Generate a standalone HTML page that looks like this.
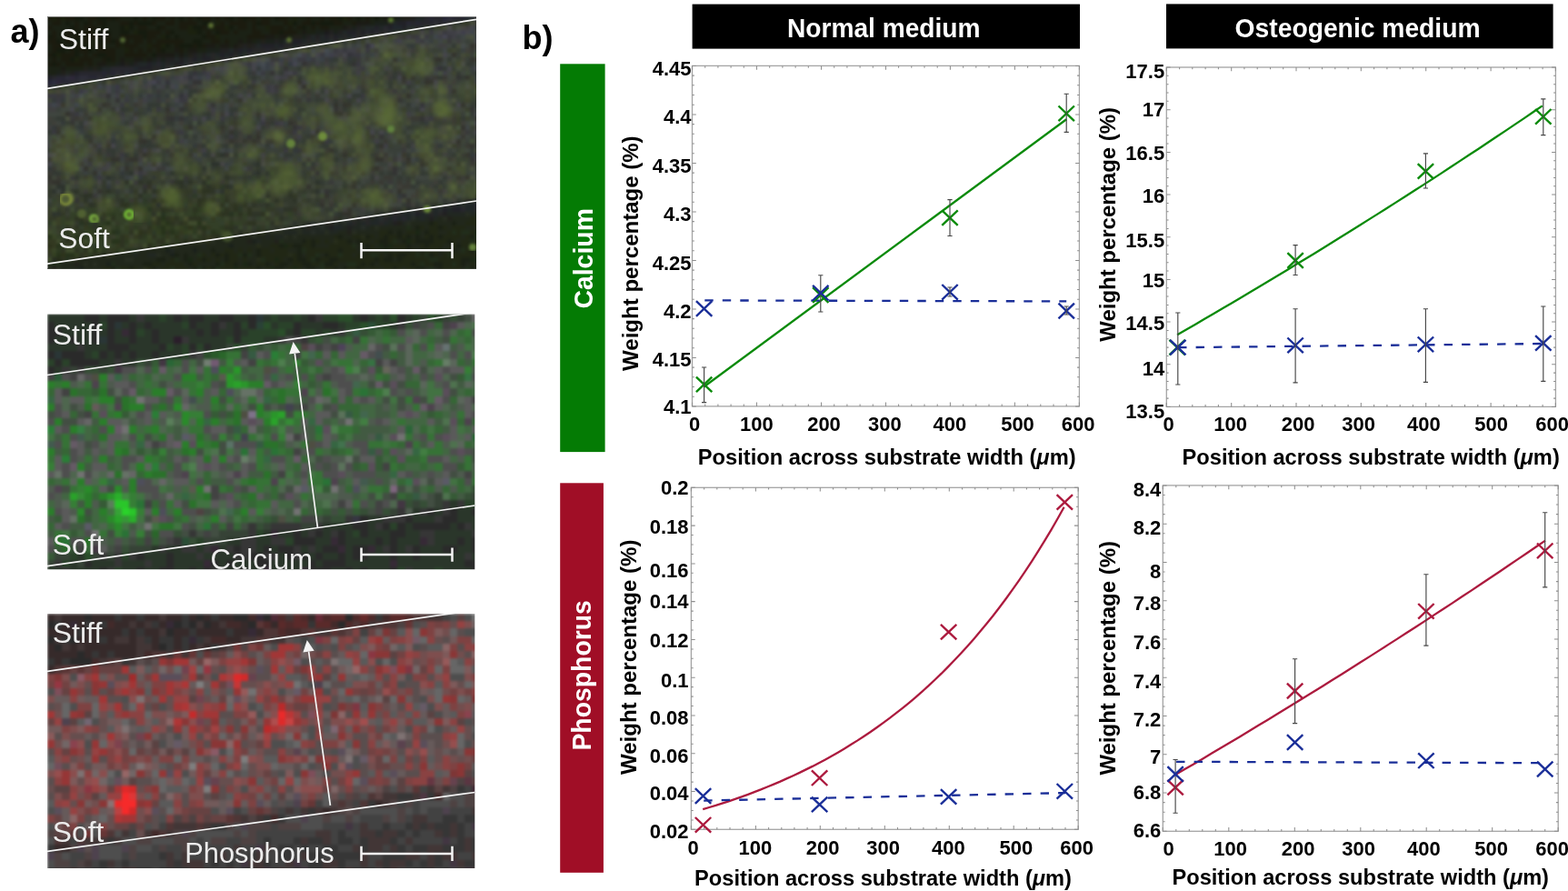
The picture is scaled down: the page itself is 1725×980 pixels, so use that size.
<!DOCTYPE html>
<html><head><meta charset="utf-8"><title>Calcium and phosphorus distribution</title>
<style>html,body{margin:0;padding:0;background:#fff}body{width:1725px;height:980px;overflow:hidden}svg{display:block}text{font-family:"Liberation Sans",Arial,Helvetica,sans-serif}</style>
</head><body>
<svg width="1725" height="980" viewBox="0 0 1725 980" fill="none">
<rect width="1725" height="980" fill="#fff"/>
<rect x="761.6" y="4.6" width="426.4" height="49" fill="#000"/>
<rect x="1283" y="4.4" width="425.6" height="49" fill="#000"/>
<text x="866.0" y="40.7" font-size="29" font-weight="bold" fill="#fff" textLength="212.5" lengthAdjust="spacingAndGlyphs">Normal medium</text>
<text x="1358.6" y="40.5" font-size="29" font-weight="bold" fill="#fff" textLength="270.0" lengthAdjust="spacingAndGlyphs">Osteogenic medium</text>
<rect x="616.2" y="70.3" width="49.4" height="426.8" fill="#047b04"/>
<rect x="616.2" y="531.3" width="47.7" height="428.5" fill="#a00e26"/>
<text transform="translate(652.1,339.6) rotate(-90)" font-size="30" font-weight="bold" fill="#fff" textLength="110.5" lengthAdjust="spacingAndGlyphs">Calcium</text>
<text transform="translate(649.6,825.6) rotate(-90)" font-size="29.5" font-weight="bold" fill="#fff" textLength="165.5" lengthAdjust="spacingAndGlyphs">Phosphorus</text>
<text x="11.5" y="47.4" font-size="36" font-weight="bold" fill="#000">a)</text>
<text x="574.5" y="54.2" font-size="36" font-weight="bold" fill="#000">b)</text>
<rect x="761.5" y="72.4" width="425.9" height="374.5" fill="none" stroke="#a4a4a4" stroke-width="1.3"/>
<path d="M761.5 446.9v-4.3M761.5 72.4v4.3M775.7 446.9v-2.3M775.7 72.4v2.3M789.9 446.9v-2.3M789.9 72.4v2.3M804.1 446.9v-2.3M804.1 72.4v2.3M818.3 446.9v-2.3M818.3 72.4v2.3M832.5 446.9v-4.3M832.5 72.4v4.3M846.7 446.9v-2.3M846.7 72.4v2.3M860.9 446.9v-2.3M860.9 72.4v2.3M875.1 446.9v-2.3M875.1 72.4v2.3M889.3 446.9v-2.3M889.3 72.4v2.3M903.5 446.9v-4.3M903.5 72.4v4.3M917.7 446.9v-2.3M917.7 72.4v2.3M931.9 446.9v-2.3M931.9 72.4v2.3M946.1 446.9v-2.3M946.1 72.4v2.3M960.3 446.9v-2.3M960.3 72.4v2.3M974.5 446.9v-4.3M974.5 72.4v4.3M988.6 446.9v-2.3M988.6 72.4v2.3M1002.8 446.9v-2.3M1002.8 72.4v2.3M1017.0 446.9v-2.3M1017.0 72.4v2.3M1031.2 446.9v-2.3M1031.2 72.4v2.3M1045.4 446.9v-4.3M1045.4 72.4v4.3M1059.6 446.9v-2.3M1059.6 72.4v2.3M1073.8 446.9v-2.3M1073.8 72.4v2.3M1088.0 446.9v-2.3M1088.0 72.4v2.3M1102.2 446.9v-2.3M1102.2 72.4v2.3M1116.4 446.9v-4.3M1116.4 72.4v4.3M1130.6 446.9v-2.3M1130.6 72.4v2.3M1144.8 446.9v-2.3M1144.8 72.4v2.3M1159.0 446.9v-2.3M1159.0 72.4v2.3M1173.2 446.9v-2.3M1173.2 72.4v2.3M1187.4 446.9v-4.3M1187.4 72.4v4.3M761.5 446.9h4.3M1187.4 446.9h-4.3M761.5 436.2h2.3M1187.4 436.2h-2.3M761.5 425.5h2.3M1187.4 425.5h-2.3M761.5 414.8h2.3M1187.4 414.8h-2.3M761.5 404.1h2.3M1187.4 404.1h-2.3M761.5 393.4h4.3M1187.4 393.4h-4.3M761.5 382.7h2.3M1187.4 382.7h-2.3M761.5 372.0h2.3M1187.4 372.0h-2.3M761.5 361.3h2.3M1187.4 361.3h-2.3M761.5 350.6h2.3M1187.4 350.6h-2.3M761.5 339.9h4.3M1187.4 339.9h-4.3M761.5 329.2h2.3M1187.4 329.2h-2.3M761.5 318.5h2.3M1187.4 318.5h-2.3M761.5 307.8h2.3M1187.4 307.8h-2.3M761.5 297.1h2.3M1187.4 297.1h-2.3M761.5 286.4h4.3M1187.4 286.4h-4.3M761.5 275.7h2.3M1187.4 275.7h-2.3M761.5 265.0h2.3M1187.4 265.0h-2.3M761.5 254.3h2.3M1187.4 254.3h-2.3M761.5 243.6h2.3M1187.4 243.6h-2.3M761.5 232.9h4.3M1187.4 232.9h-4.3M761.5 222.2h2.3M1187.4 222.2h-2.3M761.5 211.5h2.3M1187.4 211.5h-2.3M761.5 200.8h2.3M1187.4 200.8h-2.3M761.5 190.1h2.3M1187.4 190.1h-2.3M761.5 179.4h4.3M1187.4 179.4h-4.3M761.5 168.7h2.3M1187.4 168.7h-2.3M761.5 158.0h2.3M1187.4 158.0h-2.3M761.5 147.3h2.3M1187.4 147.3h-2.3M761.5 136.6h2.3M1187.4 136.6h-2.3M761.5 125.9h4.3M1187.4 125.9h-4.3M761.5 115.2h2.3M1187.4 115.2h-2.3M761.5 104.5h2.3M1187.4 104.5h-2.3M761.5 93.8h2.3M1187.4 93.8h-2.3M761.5 83.1h2.3M1187.4 83.1h-2.3M761.5 72.4h4.3M1187.4 72.4h-4.3" stroke="#8e8e8e" stroke-width="1.05" fill="none"/>
<text x="760.6" y="455.3" font-size="22" font-weight="bold" text-anchor="end" fill="#000">4.1</text>
<text x="760.6" y="402.5" font-size="22" font-weight="bold" text-anchor="end" fill="#000">4.15</text>
<text x="760.6" y="349.5" font-size="22" font-weight="bold" text-anchor="end" fill="#000">4.2</text>
<text x="760.6" y="296.7" font-size="22" font-weight="bold" text-anchor="end" fill="#000">4.25</text>
<text x="760.6" y="243.4" font-size="22" font-weight="bold" text-anchor="end" fill="#000">4.3</text>
<text x="760.6" y="189.8" font-size="22" font-weight="bold" text-anchor="end" fill="#000">4.35</text>
<text x="760.6" y="136.1" font-size="22" font-weight="bold" text-anchor="end" fill="#000">4.4</text>
<text x="760.6" y="82.9" font-size="22" font-weight="bold" text-anchor="end" fill="#000">4.45</text>
<text x="764.1" y="473.6" font-size="22" font-weight="bold" text-anchor="middle" fill="#000">0</text>
<text x="832.4" y="473.6" font-size="22" font-weight="bold" text-anchor="middle" fill="#000">100</text>
<text x="906.5" y="473.6" font-size="22" font-weight="bold" text-anchor="middle" fill="#000">200</text>
<text x="973.4" y="473.6" font-size="22" font-weight="bold" text-anchor="middle" fill="#000">300</text>
<text x="1044.8" y="473.6" font-size="22" font-weight="bold" text-anchor="middle" fill="#000">400</text>
<text x="1119.5" y="473.6" font-size="22" font-weight="bold" text-anchor="middle" fill="#000">500</text>
<text x="1186.1" y="473.6" font-size="22" font-weight="bold" text-anchor="middle" fill="#000">600</text>
<text x="767.8" y="510.6" font-size="24.5" font-weight="bold" fill="#000" textLength="415.8" lengthAdjust="spacingAndGlyphs">Position across substrate width (<tspan font-style="italic">μ</tspan>m)</text>
<text transform="translate(702.0,407.9) rotate(-90)" font-size="24.5" font-weight="bold" fill="#000" textLength="258.5" lengthAdjust="spacingAndGlyphs">Weight percentage (%)</text>
<rect x="1283.3" y="74.0" width="428.1" height="373.4" fill="none" stroke="#a4a4a4" stroke-width="1.3"/>
<path d="M1283.3 447.4v-4.3M1283.3 74.0v4.3M1297.6 447.4v-2.3M1297.6 74.0v2.3M1311.8 447.4v-2.3M1311.8 74.0v2.3M1326.1 447.4v-2.3M1326.1 74.0v2.3M1340.4 447.4v-2.3M1340.4 74.0v2.3M1354.7 447.4v-4.3M1354.7 74.0v4.3M1368.9 447.4v-2.3M1368.9 74.0v2.3M1383.2 447.4v-2.3M1383.2 74.0v2.3M1397.5 447.4v-2.3M1397.5 74.0v2.3M1411.7 447.4v-2.3M1411.7 74.0v2.3M1426.0 447.4v-4.3M1426.0 74.0v4.3M1440.3 447.4v-2.3M1440.3 74.0v2.3M1454.5 447.4v-2.3M1454.5 74.0v2.3M1468.8 447.4v-2.3M1468.8 74.0v2.3M1483.1 447.4v-2.3M1483.1 74.0v2.3M1497.3 447.4v-4.3M1497.3 74.0v4.3M1511.6 447.4v-2.3M1511.6 74.0v2.3M1525.9 447.4v-2.3M1525.9 74.0v2.3M1540.2 447.4v-2.3M1540.2 74.0v2.3M1554.4 447.4v-2.3M1554.4 74.0v2.3M1568.7 447.4v-4.3M1568.7 74.0v4.3M1583.0 447.4v-2.3M1583.0 74.0v2.3M1597.2 447.4v-2.3M1597.2 74.0v2.3M1611.5 447.4v-2.3M1611.5 74.0v2.3M1625.8 447.4v-2.3M1625.8 74.0v2.3M1640.1 447.4v-4.3M1640.1 74.0v4.3M1654.3 447.4v-2.3M1654.3 74.0v2.3M1668.6 447.4v-2.3M1668.6 74.0v2.3M1682.9 447.4v-2.3M1682.9 74.0v2.3M1697.1 447.4v-2.3M1697.1 74.0v2.3M1711.4 447.4v-4.3M1711.4 74.0v4.3M1283.3 447.4h4.3M1711.4 447.4h-4.3M1283.3 438.1h2.3M1711.4 438.1h-2.3M1283.3 428.7h2.3M1711.4 428.7h-2.3M1283.3 419.4h2.3M1711.4 419.4h-2.3M1283.3 410.1h2.3M1711.4 410.1h-2.3M1283.3 400.7h4.3M1711.4 400.7h-4.3M1283.3 391.4h2.3M1711.4 391.4h-2.3M1283.3 382.1h2.3M1711.4 382.1h-2.3M1283.3 372.7h2.3M1711.4 372.7h-2.3M1283.3 363.4h2.3M1711.4 363.4h-2.3M1283.3 354.0h4.3M1711.4 354.0h-4.3M1283.3 344.7h2.3M1711.4 344.7h-2.3M1283.3 335.4h2.3M1711.4 335.4h-2.3M1283.3 326.0h2.3M1711.4 326.0h-2.3M1283.3 316.7h2.3M1711.4 316.7h-2.3M1283.3 307.4h4.3M1711.4 307.4h-4.3M1283.3 298.0h2.3M1711.4 298.0h-2.3M1283.3 288.7h2.3M1711.4 288.7h-2.3M1283.3 279.4h2.3M1711.4 279.4h-2.3M1283.3 270.0h2.3M1711.4 270.0h-2.3M1283.3 260.7h4.3M1711.4 260.7h-4.3M1283.3 251.4h2.3M1711.4 251.4h-2.3M1283.3 242.0h2.3M1711.4 242.0h-2.3M1283.3 232.7h2.3M1711.4 232.7h-2.3M1283.3 223.4h2.3M1711.4 223.4h-2.3M1283.3 214.0h4.3M1711.4 214.0h-4.3M1283.3 204.7h2.3M1711.4 204.7h-2.3M1283.3 195.4h2.3M1711.4 195.4h-2.3M1283.3 186.0h2.3M1711.4 186.0h-2.3M1283.3 176.7h2.3M1711.4 176.7h-2.3M1283.3 167.4h4.3M1711.4 167.4h-4.3M1283.3 158.0h2.3M1711.4 158.0h-2.3M1283.3 148.7h2.3M1711.4 148.7h-2.3M1283.3 139.3h2.3M1711.4 139.3h-2.3M1283.3 130.0h2.3M1711.4 130.0h-2.3M1283.3 120.7h4.3M1711.4 120.7h-4.3M1283.3 111.3h2.3M1711.4 111.3h-2.3M1283.3 102.0h2.3M1711.4 102.0h-2.3M1283.3 92.7h2.3M1711.4 92.7h-2.3M1283.3 83.3h2.3M1711.4 83.3h-2.3M1283.3 74.0h4.3M1711.4 74.0h-4.3" stroke="#8e8e8e" stroke-width="1.05" fill="none"/>
<text x="1281.2" y="460.3" font-size="22" font-weight="bold" text-anchor="end" fill="#000">13.5</text>
<text x="1281.2" y="412.5" font-size="22" font-weight="bold" text-anchor="end" fill="#000">14</text>
<text x="1281.2" y="363.2" font-size="22" font-weight="bold" text-anchor="end" fill="#000">14.5</text>
<text x="1281.2" y="316.1" font-size="22" font-weight="bold" text-anchor="end" fill="#000">15</text>
<text x="1281.2" y="271.7" font-size="22" font-weight="bold" text-anchor="end" fill="#000">15.5</text>
<text x="1281.2" y="223.4" font-size="22" font-weight="bold" text-anchor="end" fill="#000">16</text>
<text x="1281.2" y="176.0" font-size="22" font-weight="bold" text-anchor="end" fill="#000">16.5</text>
<text x="1281.2" y="127.7" font-size="22" font-weight="bold" text-anchor="end" fill="#000">17</text>
<text x="1281.2" y="85.6" font-size="22" font-weight="bold" text-anchor="end" fill="#000">17.5</text>
<text x="1285.5" y="473.6" font-size="22" font-weight="bold" text-anchor="middle" fill="#000">0</text>
<text x="1353.7" y="473.6" font-size="22" font-weight="bold" text-anchor="middle" fill="#000">100</text>
<text x="1428.1" y="473.6" font-size="22" font-weight="bold" text-anchor="middle" fill="#000">200</text>
<text x="1494.6" y="473.6" font-size="22" font-weight="bold" text-anchor="middle" fill="#000">300</text>
<text x="1566.3" y="473.6" font-size="22" font-weight="bold" text-anchor="middle" fill="#000">400</text>
<text x="1640.7" y="473.6" font-size="22" font-weight="bold" text-anchor="middle" fill="#000">500</text>
<text x="1707.7" y="473.6" font-size="22" font-weight="bold" text-anchor="middle" fill="#000">600</text>
<text x="1300.5" y="510.6" font-size="24.5" font-weight="bold" fill="#000" textLength="415.3" lengthAdjust="spacingAndGlyphs">Position across substrate width (<tspan font-style="italic">μ</tspan>m)</text>
<text transform="translate(1226.8,375.7) rotate(-90)" font-size="24.5" font-weight="bold" fill="#000" textLength="257.7" lengthAdjust="spacingAndGlyphs">Weight percentage (%)</text>
<rect x="760.4" y="536.3" width="425.8" height="376.0" fill="none" stroke="#a4a4a4" stroke-width="1.3"/>
<path d="M760.4 912.3v-4.3M760.4 536.3v4.3M774.6 912.3v-2.3M774.6 536.3v2.3M788.8 912.3v-2.3M788.8 536.3v2.3M803.0 912.3v-2.3M803.0 536.3v2.3M817.2 912.3v-2.3M817.2 536.3v2.3M831.4 912.3v-4.3M831.4 536.3v4.3M845.6 912.3v-2.3M845.6 536.3v2.3M859.8 912.3v-2.3M859.8 536.3v2.3M873.9 912.3v-2.3M873.9 536.3v2.3M888.1 912.3v-2.3M888.1 536.3v2.3M902.3 912.3v-4.3M902.3 536.3v4.3M916.5 912.3v-2.3M916.5 536.3v2.3M930.7 912.3v-2.3M930.7 536.3v2.3M944.9 912.3v-2.3M944.9 536.3v2.3M959.1 912.3v-2.3M959.1 536.3v2.3M973.3 912.3v-4.3M973.3 536.3v4.3M987.5 912.3v-2.3M987.5 536.3v2.3M1001.7 912.3v-2.3M1001.7 536.3v2.3M1015.9 912.3v-2.3M1015.9 536.3v2.3M1030.1 912.3v-2.3M1030.1 536.3v2.3M1044.3 912.3v-4.3M1044.3 536.3v4.3M1058.5 912.3v-2.3M1058.5 536.3v2.3M1072.7 912.3v-2.3M1072.7 536.3v2.3M1086.8 912.3v-2.3M1086.8 536.3v2.3M1101.0 912.3v-2.3M1101.0 536.3v2.3M1115.2 912.3v-4.3M1115.2 536.3v4.3M1129.4 912.3v-2.3M1129.4 536.3v2.3M1143.6 912.3v-2.3M1143.6 536.3v2.3M1157.8 912.3v-2.3M1157.8 536.3v2.3M1172.0 912.3v-2.3M1172.0 536.3v2.3M1186.2 912.3v-4.3M1186.2 536.3v4.3M760.4 912.3h4.3M1186.2 912.3h-4.3M760.4 901.9h2.3M1186.2 901.9h-2.3M760.4 891.4h2.3M1186.2 891.4h-2.3M760.4 881.0h2.3M1186.2 881.0h-2.3M760.4 870.5h4.3M1186.2 870.5h-4.3M760.4 860.1h2.3M1186.2 860.1h-2.3M760.4 849.6h2.3M1186.2 849.6h-2.3M760.4 839.2h2.3M1186.2 839.2h-2.3M760.4 828.7h4.3M1186.2 828.7h-4.3M760.4 818.3h2.3M1186.2 818.3h-2.3M760.4 807.9h2.3M1186.2 807.9h-2.3M760.4 797.4h2.3M1186.2 797.4h-2.3M760.4 787.0h4.3M1186.2 787.0h-4.3M760.4 776.5h2.3M1186.2 776.5h-2.3M760.4 766.1h2.3M1186.2 766.1h-2.3M760.4 755.6h2.3M1186.2 755.6h-2.3M760.4 745.2h4.3M1186.2 745.2h-4.3M760.4 734.7h2.3M1186.2 734.7h-2.3M760.4 724.3h2.3M1186.2 724.3h-2.3M760.4 713.9h2.3M1186.2 713.9h-2.3M760.4 703.4h4.3M1186.2 703.4h-4.3M760.4 693.0h2.3M1186.2 693.0h-2.3M760.4 682.5h2.3M1186.2 682.5h-2.3M760.4 672.1h2.3M1186.2 672.1h-2.3M760.4 661.6h4.3M1186.2 661.6h-4.3M760.4 651.2h2.3M1186.2 651.2h-2.3M760.4 640.7h2.3M1186.2 640.7h-2.3M760.4 630.3h2.3M1186.2 630.3h-2.3M760.4 619.9h4.3M1186.2 619.9h-4.3M760.4 609.4h2.3M1186.2 609.4h-2.3M760.4 599.0h2.3M1186.2 599.0h-2.3M760.4 588.5h2.3M1186.2 588.5h-2.3M760.4 578.1h4.3M1186.2 578.1h-4.3M760.4 567.6h2.3M1186.2 567.6h-2.3M760.4 557.2h2.3M1186.2 557.2h-2.3M760.4 546.7h2.3M1186.2 546.7h-2.3M760.4 536.3h4.3M1186.2 536.3h-4.3" stroke="#8e8e8e" stroke-width="1.05" fill="none"/>
<text x="757.6" y="921.5" font-size="22" font-weight="bold" text-anchor="end" fill="#000">0.02</text>
<text x="757.6" y="879.9" font-size="22" font-weight="bold" text-anchor="end" fill="#000">0.04</text>
<text x="757.6" y="839.1" font-size="22" font-weight="bold" text-anchor="end" fill="#000">0.06</text>
<text x="757.6" y="797.3" font-size="22" font-weight="bold" text-anchor="end" fill="#000">0.08</text>
<text x="757.6" y="755.9" font-size="22" font-weight="bold" text-anchor="end" fill="#000">0.1</text>
<text x="757.6" y="712.1" font-size="22" font-weight="bold" text-anchor="end" fill="#000">0.12</text>
<text x="757.6" y="669.2" font-size="22" font-weight="bold" text-anchor="end" fill="#000">0.14</text>
<text x="757.6" y="634.5" font-size="22" font-weight="bold" text-anchor="end" fill="#000">0.16</text>
<text x="757.6" y="587.1" font-size="22" font-weight="bold" text-anchor="end" fill="#000">0.18</text>
<text x="757.6" y="544.3" font-size="22" font-weight="bold" text-anchor="end" fill="#000">0.2</text>
<text x="762.7" y="940.2" font-size="22" font-weight="bold" text-anchor="middle" fill="#000">0</text>
<text x="830.9" y="940.2" font-size="22" font-weight="bold" text-anchor="middle" fill="#000">100</text>
<text x="905.2" y="940.2" font-size="22" font-weight="bold" text-anchor="middle" fill="#000">200</text>
<text x="971.6" y="940.2" font-size="22" font-weight="bold" text-anchor="middle" fill="#000">300</text>
<text x="1043.3" y="940.2" font-size="22" font-weight="bold" text-anchor="middle" fill="#000">400</text>
<text x="1117.8" y="940.2" font-size="22" font-weight="bold" text-anchor="middle" fill="#000">500</text>
<text x="1184.6" y="940.2" font-size="22" font-weight="bold" text-anchor="middle" fill="#000">600</text>
<text x="764.1" y="974.4" font-size="24.5" font-weight="bold" fill="#000" textLength="414.9" lengthAdjust="spacingAndGlyphs">Position across substrate width (<tspan font-style="italic">μ</tspan>m)</text>
<text transform="translate(700.1,852.0) rotate(-90)" font-size="24.5" font-weight="bold" fill="#000" textLength="258.4" lengthAdjust="spacingAndGlyphs">Weight percentage (%)</text>
<rect x="1279.3" y="533.9" width="434.9" height="380.4" fill="none" stroke="#a4a4a4" stroke-width="1.3"/>
<path d="M1279.3 914.3v-4.3M1279.3 533.9v4.3M1293.8 914.3v-2.3M1293.8 533.9v2.3M1308.3 914.3v-2.3M1308.3 533.9v2.3M1322.8 914.3v-2.3M1322.8 533.9v2.3M1337.3 914.3v-2.3M1337.3 533.9v2.3M1351.8 914.3v-4.3M1351.8 533.9v4.3M1366.3 914.3v-2.3M1366.3 533.9v2.3M1380.8 914.3v-2.3M1380.8 533.9v2.3M1395.3 914.3v-2.3M1395.3 533.9v2.3M1409.8 914.3v-2.3M1409.8 533.9v2.3M1424.3 914.3v-4.3M1424.3 533.9v4.3M1438.8 914.3v-2.3M1438.8 533.9v2.3M1453.3 914.3v-2.3M1453.3 533.9v2.3M1467.8 914.3v-2.3M1467.8 533.9v2.3M1482.3 914.3v-2.3M1482.3 533.9v2.3M1496.8 914.3v-4.3M1496.8 533.9v4.3M1511.2 914.3v-2.3M1511.2 533.9v2.3M1525.7 914.3v-2.3M1525.7 533.9v2.3M1540.2 914.3v-2.3M1540.2 533.9v2.3M1554.7 914.3v-2.3M1554.7 533.9v2.3M1569.2 914.3v-4.3M1569.2 533.9v4.3M1583.7 914.3v-2.3M1583.7 533.9v2.3M1598.2 914.3v-2.3M1598.2 533.9v2.3M1612.7 914.3v-2.3M1612.7 533.9v2.3M1627.2 914.3v-2.3M1627.2 533.9v2.3M1641.7 914.3v-4.3M1641.7 533.9v4.3M1656.2 914.3v-2.3M1656.2 533.9v2.3M1670.7 914.3v-2.3M1670.7 533.9v2.3M1685.2 914.3v-2.3M1685.2 533.9v2.3M1699.7 914.3v-2.3M1699.7 533.9v2.3M1714.2 914.3v-4.3M1714.2 533.9v4.3M1279.3 914.3h4.3M1714.2 914.3h-4.3M1279.3 903.7h2.3M1714.2 903.7h-2.3M1279.3 893.2h2.3M1714.2 893.2h-2.3M1279.3 882.6h2.3M1714.2 882.6h-2.3M1279.3 872.0h4.3M1714.2 872.0h-4.3M1279.3 861.5h2.3M1714.2 861.5h-2.3M1279.3 850.9h2.3M1714.2 850.9h-2.3M1279.3 840.3h2.3M1714.2 840.3h-2.3M1279.3 829.8h4.3M1714.2 829.8h-4.3M1279.3 819.2h2.3M1714.2 819.2h-2.3M1279.3 808.6h2.3M1714.2 808.6h-2.3M1279.3 798.1h2.3M1714.2 798.1h-2.3M1279.3 787.5h4.3M1714.2 787.5h-4.3M1279.3 776.9h2.3M1714.2 776.9h-2.3M1279.3 766.4h2.3M1714.2 766.4h-2.3M1279.3 755.8h2.3M1714.2 755.8h-2.3M1279.3 745.2h4.3M1714.2 745.2h-4.3M1279.3 734.7h2.3M1714.2 734.7h-2.3M1279.3 724.1h2.3M1714.2 724.1h-2.3M1279.3 713.5h2.3M1714.2 713.5h-2.3M1279.3 703.0h4.3M1714.2 703.0h-4.3M1279.3 692.4h2.3M1714.2 692.4h-2.3M1279.3 681.8h2.3M1714.2 681.8h-2.3M1279.3 671.3h2.3M1714.2 671.3h-2.3M1279.3 660.7h4.3M1714.2 660.7h-4.3M1279.3 650.1h2.3M1714.2 650.1h-2.3M1279.3 639.6h2.3M1714.2 639.6h-2.3M1279.3 629.0h2.3M1714.2 629.0h-2.3M1279.3 618.4h4.3M1714.2 618.4h-4.3M1279.3 607.9h2.3M1714.2 607.9h-2.3M1279.3 597.3h2.3M1714.2 597.3h-2.3M1279.3 586.7h2.3M1714.2 586.7h-2.3M1279.3 576.2h4.3M1714.2 576.2h-4.3M1279.3 565.6h2.3M1714.2 565.6h-2.3M1279.3 555.0h2.3M1714.2 555.0h-2.3M1279.3 544.5h2.3M1714.2 544.5h-2.3M1279.3 533.9h4.3M1714.2 533.9h-4.3" stroke="#8e8e8e" stroke-width="1.05" fill="none"/>
<text x="1277.3" y="920.9" font-size="22" font-weight="bold" text-anchor="end" fill="#000">6.6</text>
<text x="1277.3" y="879.0" font-size="22" font-weight="bold" text-anchor="end" fill="#000">6.8</text>
<text x="1277.3" y="839.9" font-size="22" font-weight="bold" text-anchor="end" fill="#000">7</text>
<text x="1277.3" y="799.3" font-size="22" font-weight="bold" text-anchor="end" fill="#000">7.2</text>
<text x="1277.3" y="757.3" font-size="22" font-weight="bold" text-anchor="end" fill="#000">7.4</text>
<text x="1277.3" y="713.6" font-size="22" font-weight="bold" text-anchor="end" fill="#000">7.6</text>
<text x="1277.3" y="670.8" font-size="22" font-weight="bold" text-anchor="end" fill="#000">7.8</text>
<text x="1277.3" y="635.7" font-size="22" font-weight="bold" text-anchor="end" fill="#000">8</text>
<text x="1277.3" y="587.9" font-size="22" font-weight="bold" text-anchor="end" fill="#000">8.2</text>
<text x="1277.3" y="545.8" font-size="22" font-weight="bold" text-anchor="end" fill="#000">8.4</text>
<text x="1285.5" y="940.9" font-size="22" font-weight="bold" text-anchor="middle" fill="#000">0</text>
<text x="1353.7" y="940.9" font-size="22" font-weight="bold" text-anchor="middle" fill="#000">100</text>
<text x="1428.1" y="940.9" font-size="22" font-weight="bold" text-anchor="middle" fill="#000">200</text>
<text x="1494.6" y="940.9" font-size="22" font-weight="bold" text-anchor="middle" fill="#000">300</text>
<text x="1566.3" y="940.9" font-size="22" font-weight="bold" text-anchor="middle" fill="#000">400</text>
<text x="1640.7" y="940.9" font-size="22" font-weight="bold" text-anchor="middle" fill="#000">500</text>
<text x="1707.7" y="940.9" font-size="22" font-weight="bold" text-anchor="middle" fill="#000">600</text>
<text x="1289.5" y="972.7" font-size="24.5" font-weight="bold" fill="#000" textLength="414.5" lengthAdjust="spacingAndGlyphs">Position across substrate width (<tspan font-style="italic">μ</tspan>m)</text>
<text transform="translate(1227.4,852.6) rotate(-90)" font-size="24.5" font-weight="bold" fill="#000" textLength="257.5" lengthAdjust="spacingAndGlyphs">Weight percentage (%)</text>
<path d="M774.3 425.5L1173.2 131.3" stroke="#0b8a0b" stroke-width="2.3"/>
<path d="M774.3 330.4L1173.2 331.4" stroke="#1a2e98" stroke-width="2.3" stroke-dasharray="9.4 10.1" stroke-dashoffset="-1"/>
<path d="M765.9 414.6L783.3 431.2M765.9 431.2L783.3 414.6" stroke="#0b8a0b" stroke-width="2.4"/>
<path d="M894.1 316.2L911.5 332.8M894.1 332.8L911.5 316.2" stroke="#0b8a0b" stroke-width="2.4"/>
<path d="M1036.3 231.3L1053.7 247.9M1036.3 247.9L1053.7 231.3" stroke="#0b8a0b" stroke-width="2.4"/>
<path d="M1164.5 116.5L1181.9 133.1M1164.5 133.1L1181.9 116.5" stroke="#0b8a0b" stroke-width="2.4"/>
<path d="M774.6 404.0V442.6M772.0 404.0h5.2M772.0 442.6h5.2" stroke="#474747" stroke-width="1.15"/>
<path d="M902.8 302.7V343.0M900.2 302.7h5.2M900.2 343.0h5.2" stroke="#474747" stroke-width="1.15"/>
<path d="M1045.0 219.6V259.5M1042.4 219.6h5.2M1042.4 259.5h5.2" stroke="#474747" stroke-width="1.15"/>
<path d="M1173.2 103.2V145.4M1170.6 103.2h5.2M1170.6 145.4h5.2" stroke="#474747" stroke-width="1.15"/>
<path d="M765.9 331.2L783.3 347.8M765.9 347.8L783.3 331.2" stroke="#1a2e98" stroke-width="2.4"/>
<path d="M894.1 313.9L911.5 330.5M894.1 330.5L911.5 313.9" stroke="#1a2e98" stroke-width="2.4"/>
<path d="M1036.3 313.0L1053.7 329.6M1036.3 329.6L1053.7 313.0" stroke="#1a2e98" stroke-width="2.4"/>
<path d="M1164.5 333.7L1181.9 350.3M1164.5 350.3L1181.9 333.7" stroke="#1a2e98" stroke-width="2.4"/>
<path d="M1045.0 316.0V326.0M1042.4 316.0h5.2M1042.4 326.0h5.2" stroke="#474747" stroke-width="1.15"/>
<path d="M1173.2 337.0V346.0M1170.6 337.0h5.2M1170.6 346.0h5.2" stroke="#474747" stroke-width="1.15"/>
<polyline points="1295.1,368.2 1305.1,362.5 1315.2,356.7 1325.2,350.8 1335.2,345.0 1345.3,339.1 1355.3,333.2 1365.4,327.2 1375.4,321.3 1385.5,315.3 1395.5,309.3 1405.5,303.3 1415.6,297.2 1425.6,291.1 1435.7,285.0 1445.7,278.9 1455.8,272.7 1465.8,266.5 1475.8,260.3 1485.9,254.0 1495.9,247.8 1506.0,241.4 1516.0,235.1 1526.1,228.8 1536.1,222.4 1546.1,216.0 1556.2,209.5 1566.2,203.1 1576.3,196.6 1586.3,190.1 1596.3,183.5 1606.4,176.9 1616.4,170.3 1626.5,163.7 1636.5,157.0 1646.6,150.3 1656.6,143.6 1666.6,136.9 1676.7,130.1 1686.7,123.3 1696.8,116.4" stroke="#0b8a0b" stroke-width="2.3"/>
<path d="M1295.1 382.2L1697.8 378" stroke="#1a2e98" stroke-width="2.3" stroke-dasharray="9.4 10.1" stroke-dashoffset="-1"/>
<path d="M1286.4 373.8L1303.8 390.4M1286.4 390.4L1303.8 373.8" stroke="#0b8a0b" stroke-width="2.4"/>
<path d="M1416.4 278.2L1433.8 294.8M1416.4 294.8L1433.8 278.2" stroke="#0b8a0b" stroke-width="2.4"/>
<path d="M1559.7 180.1L1577.1 196.7M1559.7 196.7L1577.1 180.1" stroke="#0b8a0b" stroke-width="2.4"/>
<path d="M1689.1 120.0L1706.5 136.6M1689.1 136.6L1706.5 120.0" stroke="#0b8a0b" stroke-width="2.4"/>
<path d="M1425.1 269.6V302.5M1422.5 269.6h5.2M1422.5 302.5h5.2" stroke="#474747" stroke-width="1.15"/>
<path d="M1568.4 168.8V207.0M1565.8 168.8h5.2M1565.8 207.0h5.2" stroke="#474747" stroke-width="1.15"/>
<path d="M1697.8 108.8V148.6M1695.2 108.8h5.2M1695.2 148.6h5.2" stroke="#474747" stroke-width="1.15"/>
<path d="M1287.1 373.8L1304.5 390.4M1287.1 390.4L1304.5 373.8" stroke="#1a2e98" stroke-width="2.4"/>
<path d="M1416.4 371.5L1433.8 388.1M1416.4 388.1L1433.8 371.5" stroke="#1a2e98" stroke-width="2.4"/>
<path d="M1559.7 370.5L1577.1 387.1M1559.7 387.1L1577.1 370.5" stroke="#1a2e98" stroke-width="2.4"/>
<path d="M1689.1 369.1L1706.5 385.7M1689.1 385.7L1706.5 369.1" stroke="#1a2e98" stroke-width="2.4"/>
<path d="M1295.8 344.0V423.0M1293.2 344.0h5.2M1293.2 423.0h5.2" stroke="#474747" stroke-width="1.15"/>
<path d="M1425.1 339.7V420.9M1422.5 339.7h5.2M1422.5 420.9h5.2" stroke="#474747" stroke-width="1.15"/>
<path d="M1568.4 339.7V420.4M1565.8 339.7h5.2M1565.8 420.4h5.2" stroke="#474747" stroke-width="1.15"/>
<path d="M1697.8 337.0V419.3M1695.2 337.0h5.2M1695.2 419.3h5.2" stroke="#474747" stroke-width="1.15"/>
<polyline points="773.2,890.2 780.3,888.0 787.4,885.9 794.5,883.6 801.6,881.3 808.7,878.8 815.8,876.4 822.9,873.8 829.9,871.1 837.0,868.4 844.1,865.5 851.2,862.6 858.3,859.6 865.4,856.4 872.5,853.2 879.6,849.9 886.7,846.4 893.8,842.9 900.9,839.2 908.0,835.4 915.1,831.4 922.2,827.4 929.3,823.2 936.4,818.8 943.5,814.4 950.6,809.7 957.7,805.0 964.8,800.0 971.9,794.9 979.0,789.7 986.1,784.2 993.2,778.6 1000.3,772.8 1007.4,766.8 1014.5,760.6 1021.6,754.2 1028.7,747.5 1035.8,740.7 1042.8,733.6 1049.9,726.3 1057.0,718.8 1064.1,711.0 1071.2,702.9 1078.3,694.6 1085.4,686.0 1092.5,677.2 1099.6,668.0 1106.7,658.5 1113.8,648.7 1120.9,638.6 1128.0,628.2 1135.1,617.4 1142.2,606.2 1149.3,594.7 1156.4,582.8 1163.5,570.5 1170.6,557.8" stroke="#ac1a3e" stroke-width="2.3"/>
<path d="M773.2 880.6L1172.0 872.1" stroke="#1a2e98" stroke-width="2.3" stroke-dasharray="9.4 10.1" stroke-dashoffset="-1"/>
<path d="M764.8 899.0L782.2 915.6M764.8 915.6L782.2 899.0" stroke="#ac1a3e" stroke-width="2.4"/>
<path d="M892.9 847.4L910.3 864.0M892.9 864.0L910.3 847.4" stroke="#ac1a3e" stroke-width="2.4"/>
<path d="M1034.9 686.8L1052.3 703.4M1034.9 703.4L1052.3 686.8" stroke="#ac1a3e" stroke-width="2.4"/>
<path d="M1162.6 544.1L1180.0 560.7M1162.6 560.7L1180.0 544.1" stroke="#ac1a3e" stroke-width="2.4"/>
<path d="M764.8 867.2L782.2 883.8M764.8 883.8L782.2 867.2" stroke="#1a2e98" stroke-width="2.4"/>
<path d="M892.9 876.6L910.3 893.2M892.9 893.2L910.3 876.6" stroke="#1a2e98" stroke-width="2.4"/>
<path d="M1034.9 868.1L1052.3 884.7M1034.9 884.7L1052.3 868.1" stroke="#1a2e98" stroke-width="2.4"/>
<path d="M1162.6 862.0L1180.0 878.6M1162.6 878.6L1180.0 862.0" stroke="#1a2e98" stroke-width="2.4"/>
<polyline points="1292.3,852.6 1302.5,846.6 1312.7,840.7 1322.9,834.7 1333.1,828.6 1343.3,822.6 1353.5,816.5 1363.7,810.4 1373.9,804.3 1384.1,798.1 1394.3,792.0 1404.4,785.8 1414.6,779.6 1424.8,773.3 1435.0,767.0 1445.2,760.7 1455.4,754.4 1465.6,748.1 1475.8,741.7 1486.0,735.3 1496.2,728.8 1506.4,722.4 1516.6,715.9 1526.7,709.4 1536.9,702.9 1547.1,696.3 1557.3,689.7 1567.5,683.1 1577.7,676.4 1587.9,669.8 1598.1,663.1 1608.3,656.3 1618.5,649.6 1628.7,642.8 1638.8,636.0 1649.0,629.2 1659.2,622.3 1669.4,615.4 1679.6,608.5 1689.8,601.5 1700.0,594.6" stroke="#ac1a3e" stroke-width="2.3"/>
<path d="M1293.1 837.8L1699.7 839.2" stroke="#1a2e98" stroke-width="2.3" stroke-dasharray="9.4 10.1" stroke-dashoffset="-1"/>
<path d="M1284.4 857.8L1301.8 874.4M1284.4 874.4L1301.8 857.8" stroke="#ac1a3e" stroke-width="2.4"/>
<path d="M1415.9 751.7L1433.3 768.3M1415.9 768.3L1433.3 751.7" stroke="#ac1a3e" stroke-width="2.4"/>
<path d="M1560.2 664.0L1577.6 680.6M1560.2 680.6L1577.6 664.0" stroke="#ac1a3e" stroke-width="2.4"/>
<path d="M1691.0 597.5L1708.4 614.1M1691.0 614.1L1708.4 597.5" stroke="#ac1a3e" stroke-width="2.4"/>
<path d="M1293.1 835.5V894.2M1290.5 835.5h5.2M1290.5 894.2h5.2" stroke="#474747" stroke-width="1.15"/>
<path d="M1424.6 724.7V795.6M1422.0 724.7h5.2M1422.0 795.6h5.2" stroke="#474747" stroke-width="1.15"/>
<path d="M1568.9 631.7V710.1M1566.3 631.7h5.2M1566.3 710.1h5.2" stroke="#474747" stroke-width="1.15"/>
<path d="M1699.7 563.7V645.8M1697.1 563.7h5.2M1697.1 645.8h5.2" stroke="#474747" stroke-width="1.15"/>
<path d="M1284.4 843.2L1301.8 859.8M1284.4 859.8L1301.8 843.2" stroke="#1a2e98" stroke-width="2.4"/>
<path d="M1415.9 808.2L1433.3 824.8M1415.9 824.8L1433.3 808.2" stroke="#1a2e98" stroke-width="2.4"/>
<path d="M1560.2 828.4L1577.6 845.0M1560.2 845.0L1577.6 828.4" stroke="#1a2e98" stroke-width="2.4"/>
<path d="M1691.0 837.7L1708.4 854.3M1691.0 854.3L1708.4 837.7" stroke="#1a2e98" stroke-width="2.4"/>
<defs><filter id="bl1" x="0" y="0" width="1" height="1" color-interpolation-filters="sRGB"><feGaussianBlur stdDeviation="1.5"/></filter><filter id="bl3" x="0" y="0" width="1" height="1" color-interpolation-filters="sRGB"><feGaussianBlur stdDeviation="3.4"/></filter><filter id="bl2" x="0" y="0" width="1" height="1" color-interpolation-filters="sRGB"><feGaussianBlur stdDeviation="1.7"/></filter><clipPath id="ci1"><rect x="52" y="18" width="472" height="277.7"/></clipPath><clipPath id="cb1"><path d="M52 100.4L524 24.3L524 218.0L52 287.2z"/></clipPath><clipPath id="ci2"><rect x="52" y="345.4" width="470.3" height="280.9"/></clipPath><clipPath id="ci3"><rect x="52" y="675" width="470.3" height="280"/></clipPath></defs>
<g clip-path="url(#ci1)"><rect x="52" y="18" width="472" height="277.7" fill="#24281c"/><g filter="url(#bl1)">
<g transform="translate(47,13) scale(5)" shape-rendering="crispEdges">
<path fill="#1b1b0f" d="M0 0h1v1h-1zM2 0h2v1h-2zM5 0h2v1h-2zM9 0h1v1h-1zM11 0h2v1h-2zM16 0h4v1h-4zM24 0h2v1h-2zM29 0h2v1h-2zM34 0h1v1h-1zM37 0h3v1h-3zM44 0h1v1h-1zM46 0h1v1h-1zM49 0h1v1h-1zM51 0h1v1h-1zM53 0h1v1h-1zM55 0h1v1h-1zM58 0h2v1h-2zM61 0h1v1h-1zM64 0h2v1h-2zM67 0h1v1h-1zM70 0h1v1h-1zM72 0h2v1h-2zM77 0h2v1h-2zM80 0h1v1h-1zM1 1h1v1h-1zM3 1h1v1h-1zM5 1h2v1h-2zM10 1h2v1h-2zM14 1h1v1h-1zM16 1h1v1h-1zM22 1h1v1h-1zM25 1h2v1h-2zM28 1h1v1h-1zM32 1h1v1h-1zM35 1h2v1h-2zM38 1h1v1h-1zM40 1h1v1h-1zM43 1h1v1h-1zM45 1h2v1h-2zM48 1h2v1h-2zM52 1h2v1h-2zM58 1h1v1h-1zM61 1h1v1h-1zM63 1h2v1h-2zM67 1h1v1h-1zM71 1h1v1h-1zM0 2h1v1h-1zM2 2h2v1h-2zM7 2h1v1h-1zM10 2h1v1h-1zM12 2h1v1h-1zM17 2h2v1h-2zM20 2h1v1h-1zM24 2h1v1h-1zM27 2h2v1h-2zM30 2h4v1h-4zM39 2h1v1h-1zM41 2h4v1h-4zM46 2h1v1h-1zM48 2h2v1h-2zM53 2h1v1h-1zM57 2h2v1h-2zM60 2h1v1h-1zM64 2h2v1h-2zM68 2h1v1h-1zM0 3h2v1h-2zM7 3h1v1h-1zM9 3h3v1h-3zM21 3h2v1h-2zM26 3h1v1h-1zM30 3h2v1h-2zM35 3h1v1h-1zM38 3h2v1h-2zM43 3h2v1h-2zM46 3h1v1h-1zM50 3h3v1h-3zM54 3h1v1h-1zM56 3h1v1h-1zM59 3h1v1h-1zM61 3h2v1h-2zM2 4h1v1h-1zM5 4h2v1h-2zM8 4h3v1h-3zM13 4h1v1h-1zM23 4h3v1h-3zM27 4h1v1h-1zM36 4h1v1h-1zM39 4h2v1h-2zM42 4h1v1h-1zM46 4h2v1h-2zM50 4h2v1h-2zM53 4h3v1h-3zM2 5h1v1h-1zM4 5h2v1h-2zM7 5h1v1h-1zM9 5h4v1h-4zM14 5h1v1h-1zM17 5h5v1h-5zM23 5h2v1h-2zM36 5h2v1h-2zM45 5h4v1h-4zM0 6h3v1h-3zM5 6h2v1h-2zM9 6h1v1h-1zM13 6h2v1h-2zM16 6h1v1h-1zM18 6h1v1h-1zM20 6h2v1h-2zM23 6h1v1h-1zM25 6h6v1h-6zM37 6h2v1h-2zM40 6h1v1h-1zM2 7h3v1h-3zM7 7h2v1h-2zM12 7h1v1h-1zM16 7h1v1h-1zM18 7h3v1h-3zM24 7h2v1h-2zM29 7h1v1h-1zM33 7h1v1h-1zM35 7h1v1h-1zM2 8h1v1h-1zM6 8h1v1h-1zM8 8h2v1h-2zM12 8h4v1h-4zM19 8h1v1h-1zM21 8h1v1h-1zM23 8h1v1h-1zM25 8h1v1h-1zM30 8h1v1h-1zM1 9h1v1h-1zM4 9h3v1h-3zM9 9h1v1h-1zM11 9h1v1h-1zM14 9h2v1h-2zM18 9h5v1h-5zM0 10h1v1h-1zM2 10h1v1h-1zM4 10h2v1h-2zM8 10h3v1h-3zM13 10h1v1h-1zM15 10h1v1h-1zM1 11h1v1h-1zM3 11h1v1h-1zM5 11h4v1h-4zM10 11h1v1h-1z"/>
<path fill="#1b2115" d="M1 0h1v1h-1zM7 0h2v1h-2zM10 0h1v1h-1zM13 0h1v1h-1zM15 0h1v1h-1zM20 0h4v1h-4zM27 0h1v1h-1zM31 0h3v1h-3zM35 0h1v1h-1zM40 0h1v1h-1zM42 0h1v1h-1zM50 0h1v1h-1zM54 0h1v1h-1zM56 0h1v1h-1zM60 0h1v1h-1zM62 0h2v1h-2zM69 0h1v1h-1zM71 0h1v1h-1zM74 0h3v1h-3zM79 0h1v1h-1zM81 0h1v1h-1zM83 0h1v1h-1zM0 1h1v1h-1zM9 1h1v1h-1zM17 1h3v1h-3zM21 1h1v1h-1zM23 1h1v1h-1zM27 1h1v1h-1zM29 1h1v1h-1zM31 1h1v1h-1zM33 1h1v1h-1zM37 1h1v1h-1zM39 1h1v1h-1zM42 1h1v1h-1zM47 1h1v1h-1zM50 1h1v1h-1zM54 1h1v1h-1zM56 1h2v1h-2zM59 1h2v1h-2zM62 1h1v1h-1zM68 1h1v1h-1zM70 1h1v1h-1zM72 1h1v1h-1zM74 1h1v1h-1zM77 1h1v1h-1zM1 2h1v1h-1zM4 2h1v1h-1zM6 2h1v1h-1zM8 2h1v1h-1zM11 2h1v1h-1zM14 2h3v1h-3zM25 2h2v1h-2zM29 2h1v1h-1zM34 2h1v1h-1zM37 2h1v1h-1zM40 2h1v1h-1zM45 2h1v1h-1zM50 2h3v1h-3zM56 2h1v1h-1zM66 2h2v1h-2zM72 2h1v1h-1zM2 3h4v1h-4zM8 3h1v1h-1zM12 3h1v1h-1zM14 3h3v1h-3zM20 3h1v1h-1zM23 3h2v1h-2zM27 3h3v1h-3zM36 3h1v1h-1zM42 3h1v1h-1zM45 3h1v1h-1zM47 3h2v1h-2zM53 3h1v1h-1zM55 3h1v1h-1zM58 3h1v1h-1zM60 3h1v1h-1zM63 3h3v1h-3zM0 4h2v1h-2zM3 4h1v1h-1zM15 4h2v1h-2zM19 4h1v1h-1zM26 4h1v1h-1zM29 4h3v1h-3zM35 4h1v1h-1zM37 4h1v1h-1zM41 4h1v1h-1zM43 4h3v1h-3zM48 4h2v1h-2zM56 4h1v1h-1zM58 4h2v1h-2zM0 5h1v1h-1zM3 5h1v1h-1zM6 5h1v1h-1zM8 5h1v1h-1zM13 5h1v1h-1zM15 5h2v1h-2zM25 5h1v1h-1zM28 5h1v1h-1zM30 5h5v1h-5zM39 5h6v1h-6zM51 5h1v1h-1zM54 5h1v1h-1zM4 6h1v1h-1zM8 6h1v1h-1zM10 6h1v1h-1zM17 6h1v1h-1zM19 6h1v1h-1zM22 6h1v1h-1zM24 6h1v1h-1zM31 6h2v1h-2zM35 6h2v1h-2zM39 6h1v1h-1zM41 6h2v1h-2zM44 6h1v1h-1zM46 6h1v1h-1zM1 7h1v1h-1zM5 7h1v1h-1zM11 7h1v1h-1zM14 7h2v1h-2zM21 7h2v1h-2zM28 7h1v1h-1zM38 7h1v1h-1zM41 7h1v1h-1zM1 8h1v1h-1zM5 8h1v1h-1zM11 8h1v1h-1zM16 8h2v1h-2zM20 8h1v1h-1zM22 8h1v1h-1zM24 8h1v1h-1zM27 8h2v1h-2zM31 8h1v1h-1zM34 8h2v1h-2zM8 9h1v1h-1zM10 9h1v1h-1zM16 9h2v1h-2zM23 9h1v1h-1zM1 10h1v1h-1zM3 10h1v1h-1zM11 10h2v1h-2zM16 10h1v1h-1zM18 10h2v1h-2zM22 10h1v1h-1zM4 11h1v1h-1zM9 11h1v1h-1zM11 11h1v1h-1zM14 11h2v1h-2zM1 12h3v1h-3zM5 12h4v1h-4zM0 13h3v1h-3zM85 46h1v1h-1zM90 46h1v1h-1zM82 47h1v1h-1zM87 47h1v1h-1zM96 47h1v1h-1zM76 48h1v1h-1zM78 48h1v1h-1zM84 48h1v1h-1zM65 49h1v1h-1zM71 49h1v1h-1zM75 49h1v1h-1zM78 49h1v1h-1zM80 49h1v1h-1zM82 49h1v1h-1zM85 49h1v1h-1zM87 49h1v1h-1zM94 49h1v1h-1zM57 50h1v1h-1zM59 50h1v1h-1zM67 50h1v1h-1zM69 50h1v1h-1zM74 50h2v1h-2zM79 50h1v1h-1zM82 50h4v1h-4zM89 50h1v1h-1zM52 51h1v1h-1zM55 51h2v1h-2zM59 51h1v1h-1zM71 51h1v1h-1zM75 51h1v1h-1zM80 51h1v1h-1zM84 51h1v1h-1zM91 51h1v1h-1zM37 52h1v1h-1zM47 52h1v1h-1zM56 52h1v1h-1zM65 52h1v1h-1zM71 52h1v1h-1zM80 52h1v1h-1zM83 52h1v1h-1zM87 52h1v1h-1zM90 52h1v1h-1zM94 52h1v1h-1zM29 53h1v1h-1zM31 53h1v1h-1zM38 53h1v1h-1zM40 53h1v1h-1zM44 53h1v1h-1zM47 53h1v1h-1zM56 53h1v1h-1zM62 53h1v1h-1zM76 53h1v1h-1zM78 53h2v1h-2zM85 53h1v1h-1zM96 53h1v1h-1zM25 54h2v1h-2zM31 54h1v1h-1zM35 54h1v1h-1zM40 54h1v1h-1zM54 54h1v1h-1zM56 54h2v1h-2zM60 54h1v1h-1zM63 54h2v1h-2zM73 54h1v1h-1zM75 54h2v1h-2zM78 54h1v1h-1zM92 54h2v1h-2zM22 55h2v1h-2zM32 55h1v1h-1zM38 55h1v1h-1zM42 55h1v1h-1zM45 55h1v1h-1zM49 55h1v1h-1zM52 55h2v1h-2zM57 55h2v1h-2zM62 55h2v1h-2zM70 55h1v1h-1zM72 55h1v1h-1zM81 55h1v1h-1zM86 55h2v1h-2zM92 55h1v1h-1zM96 55h1v1h-1zM15 56h1v1h-1zM19 56h1v1h-1zM24 56h1v1h-1zM33 56h1v1h-1zM35 56h1v1h-1zM37 56h1v1h-1zM47 56h1v1h-1zM51 56h2v1h-2zM58 56h2v1h-2zM64 56h1v1h-1zM66 56h1v1h-1zM69 56h1v1h-1zM77 56h1v1h-1zM82 56h2v1h-2zM87 56h1v1h-1zM94 56h1v1h-1zM6 57h2v1h-2zM11 57h1v1h-1zM14 57h2v1h-2zM22 57h1v1h-1zM24 57h1v1h-1zM39 57h1v1h-1zM43 57h1v1h-1zM48 57h1v1h-1zM52 57h1v1h-1zM54 57h1v1h-1zM56 57h1v1h-1zM58 57h1v1h-1zM60 57h1v1h-1zM63 57h1v1h-1zM68 57h2v1h-2zM86 57h3v1h-3zM92 57h1v1h-1zM94 57h1v1h-1zM96 57h1v1h-1z"/>
<path fill="#151b0f" d="M4 0h1v1h-1zM14 0h1v1h-1zM26 0h1v1h-1zM28 0h1v1h-1zM36 0h1v1h-1zM41 0h1v1h-1zM43 0h1v1h-1zM45 0h1v1h-1zM48 0h1v1h-1zM52 0h1v1h-1zM57 0h1v1h-1zM68 0h1v1h-1zM7 1h2v1h-2zM12 1h2v1h-2zM15 1h1v1h-1zM20 1h1v1h-1zM24 1h1v1h-1zM30 1h1v1h-1zM34 1h1v1h-1zM41 1h1v1h-1zM44 1h1v1h-1zM51 1h1v1h-1zM65 1h1v1h-1zM69 1h1v1h-1zM73 1h1v1h-1zM5 2h1v1h-1zM9 2h1v1h-1zM13 2h1v1h-1zM19 2h1v1h-1zM21 2h3v1h-3zM35 2h2v1h-2zM47 2h1v1h-1zM55 2h1v1h-1zM59 2h1v1h-1zM61 2h3v1h-3zM6 3h1v1h-1zM13 3h1v1h-1zM17 3h1v1h-1zM19 3h1v1h-1zM25 3h1v1h-1zM33 3h2v1h-2zM41 3h1v1h-1zM57 3h1v1h-1zM4 4h1v1h-1zM7 4h1v1h-1zM11 4h2v1h-2zM14 4h1v1h-1zM17 4h2v1h-2zM21 4h2v1h-2zM28 4h1v1h-1zM34 4h1v1h-1zM38 4h1v1h-1zM52 4h1v1h-1zM1 5h1v1h-1zM22 5h1v1h-1zM27 5h1v1h-1zM29 5h1v1h-1zM35 5h1v1h-1zM3 6h1v1h-1zM7 6h1v1h-1zM12 6h1v1h-1zM15 6h1v1h-1zM33 6h2v1h-2zM0 7h1v1h-1zM6 7h1v1h-1zM9 7h1v1h-1zM27 7h1v1h-1zM30 7h3v1h-3zM34 7h1v1h-1zM3 8h2v1h-2zM7 8h1v1h-1zM10 8h1v1h-1zM26 8h1v1h-1zM0 9h1v1h-1zM2 9h1v1h-1zM7 9h1v1h-1zM12 9h2v1h-2zM24 9h1v1h-1zM6 10h1v1h-1zM14 10h1v1h-1zM2 11h1v1h-1zM0 12h1v1h-1z"/>
<path fill="#1b210f" d="M47 0h1v1h-1zM66 0h1v1h-1zM2 1h1v1h-1zM4 1h1v1h-1zM55 1h1v1h-1zM66 1h1v1h-1zM38 2h1v1h-1zM54 2h1v1h-1zM18 3h1v1h-1zM32 3h1v1h-1zM37 3h1v1h-1zM40 3h1v1h-1zM49 3h1v1h-1zM20 4h1v1h-1zM32 4h2v1h-2zM26 5h1v1h-1zM38 5h1v1h-1zM11 6h1v1h-1zM10 7h1v1h-1zM13 7h1v1h-1zM17 7h1v1h-1zM23 7h1v1h-1zM26 7h1v1h-1zM0 8h1v1h-1zM18 8h1v1h-1zM3 9h1v1h-1zM7 10h1v1h-1zM0 11h1v1h-1z"/>
<path fill="#1b1b15" d="M82 0h1v1h-1zM75 1h2v1h-2zM69 2h3v1h-3zM66 3h1v1h-1zM57 4h1v1h-1zM49 5h2v1h-2zM52 5h2v1h-2zM43 6h1v1h-1zM45 6h1v1h-1zM36 7h2v1h-2zM39 7h2v1h-2zM42 7h1v1h-1zM29 8h1v1h-1zM32 8h2v1h-2zM25 9h4v1h-4zM30 9h1v1h-1zM17 10h1v1h-1zM20 10h2v1h-2zM23 10h1v1h-1zM12 11h2v1h-2zM4 12h1v1h-1z"/>
<path fill="#1b211b" d="M84 0h2v1h-2zM78 1h1v1h-1zM73 2h3v1h-3zM68 3h1v1h-1zM60 4h2v1h-2zM64 4h1v1h-1zM57 5h1v1h-1zM47 6h1v1h-1zM49 6h2v1h-2zM52 6h1v1h-1zM36 8h3v1h-3zM29 9h1v1h-1zM31 9h1v1h-1zM24 10h1v1h-1zM26 10h1v1h-1zM16 11h1v1h-1zM19 11h1v1h-1zM10 12h1v1h-1zM12 12h1v1h-1zM3 13h1v1h-1zM46 50h1v1h-1zM41 51h1v1h-1zM27 52h1v1h-1zM33 52h1v1h-1zM28 53h1v1h-1zM14 55h1v1h-1zM8 56h1v1h-1z"/>
<path fill="#212121" d="M86 0h3v1h-3zM81 1h1v1h-1zM76 2h1v1h-1zM69 3h1v1h-1zM63 4h1v1h-1zM65 4h1v1h-1zM58 5h1v1h-1zM60 5h1v1h-1zM51 6h1v1h-1zM54 6h1v1h-1zM44 7h1v1h-1zM46 7h1v1h-1zM39 8h2v1h-2zM42 8h1v1h-1zM33 9h1v1h-1zM35 9h1v1h-1zM25 10h1v1h-1zM27 10h2v1h-2zM30 10h1v1h-1zM20 11h1v1h-1zM29 11h1v1h-1zM6 13h1v1h-1zM0 14h1v1h-1zM88 44h1v1h-1zM85 45h1v1h-1zM77 46h1v1h-1zM63 47h1v1h-1zM67 47h1v1h-1z"/>
<path fill="#212127" d="M89 0h1v1h-1zM78 2h2v1h-2zM73 3h1v1h-1zM76 3h1v1h-1zM79 3h1v1h-1zM67 4h2v1h-2zM70 4h1v1h-1zM72 4h1v1h-1zM62 5h1v1h-1zM64 5h1v1h-1zM55 6h2v1h-2zM48 7h3v1h-3zM52 7h1v1h-1zM43 8h1v1h-1zM45 8h1v1h-1zM39 9h1v1h-1zM41 9h1v1h-1zM33 10h1v1h-1zM35 10h2v1h-2zM23 11h1v1h-1zM30 11h1v1h-1zM21 12h3v1h-3zM7 13h1v1h-1zM1 14h1v1h-1zM88 43h1v1h-1zM90 43h2v1h-2zM82 44h1v1h-1z"/>
<path fill="#27272d" d="M90 0h3v1h-3zM84 1h1v1h-1zM86 1h2v1h-2zM91 1h1v1h-1zM81 2h1v1h-1zM83 2h3v1h-3zM87 2h1v1h-1zM75 3h1v1h-1zM71 4h1v1h-1zM73 4h1v1h-1zM68 5h1v1h-1zM49 8h1v1h-1zM25 11h1v1h-1zM15 12h5v1h-5zM8 13h5v1h-5zM14 13h1v1h-1zM17 13h1v1h-1zM19 13h1v1h-1zM2 14h1v1h-1zM13 14h1v1h-1zM95 42h2v1h-2zM92 43h1v1h-1zM77 45h1v1h-1zM79 45h1v1h-1z"/>
<path fill="#272733" d="M93 0h2v1h-2zM96 0h1v1h-1zM85 1h1v1h-1zM90 1h1v1h-1zM92 1h1v1h-1zM80 2h1v1h-1zM82 2h1v1h-1zM13 13h1v1h-1zM15 13h1v1h-1zM3 14h2v1h-2zM7 14h1v1h-1zM10 14h2v1h-2zM4 15h2v1h-2z"/>
<path fill="#2d2d39" d="M95 0h1v1h-1zM89 1h1v1h-1zM5 14h1v1h-1zM8 14h2v1h-2zM0 16h1v1h-1z"/>
<path fill="#21211b" d="M79 1h2v1h-2zM67 3h1v1h-1zM55 5h2v1h-2zM48 6h1v1h-1zM43 7h1v1h-1zM45 7h1v1h-1zM32 9h1v1h-1zM18 11h1v1h-1zM9 12h1v1h-1zM11 12h1v1h-1zM4 13h1v1h-1zM89 45h1v1h-1zM78 46h1v1h-1zM67 48h1v1h-1zM45 50h1v1h-1zM51 50h1v1h-1zM7 55h1v1h-1zM2 56h1v1h-1z"/>
<path fill="#212727" d="M82 1h2v1h-2zM77 2h1v1h-1zM71 3h2v1h-2zM74 3h1v1h-1zM66 4h1v1h-1zM59 5h1v1h-1zM61 5h1v1h-1zM65 5h1v1h-1zM67 5h1v1h-1zM53 6h1v1h-1zM57 6h1v1h-1zM59 6h1v1h-1zM61 6h2v1h-2zM47 7h1v1h-1zM51 7h1v1h-1zM55 7h1v1h-1zM41 8h1v1h-1zM44 8h1v1h-1zM36 9h1v1h-1zM38 9h1v1h-1zM40 9h1v1h-1zM43 9h1v1h-1zM29 10h1v1h-1zM31 10h1v1h-1zM34 10h1v1h-1zM21 11h2v1h-2zM24 11h1v1h-1zM26 11h1v1h-1zM28 11h1v1h-1zM13 12h2v1h-2zM26 12h1v1h-1zM91 42h1v1h-1zM93 42h2v1h-2zM86 43h1v1h-1zM89 43h1v1h-1zM93 43h2v1h-2zM79 44h2v1h-2zM83 44h2v1h-2zM86 44h1v1h-1zM73 45h1v1h-1zM76 45h1v1h-1zM78 45h1v1h-1zM80 45h1v1h-1zM83 45h1v1h-1zM67 46h1v1h-1zM70 46h1v1h-1zM72 46h2v1h-2zM75 46h1v1h-1zM64 47h2v1h-2z"/>
<path fill="#272739" d="M88 1h1v1h-1zM1 15h1v1h-1z"/>
<path fill="#272d33" d="M93 1h1v1h-1zM18 13h1v1h-1z"/>
<path fill="#2d3333" d="M94 1h1v1h-1zM52 8h1v1h-1zM8 15h1v1h-1zM2 16h1v1h-1z"/>
<path fill="#2d2d2d" d="M95 1h1v1h-1zM89 2h1v1h-1zM75 4h1v1h-1zM57 7h1v1h-1zM45 9h1v1h-1zM40 10h1v1h-1zM32 11h1v1h-1zM27 12h1v1h-1zM21 13h1v1h-1zM9 15h1v1h-1z"/>
<path fill="#272d21" d="M96 1h1v1h-1zM53 8h1v1h-1zM93 44h1v1h-1zM88 45h1v1h-1zM80 46h1v1h-1zM54 47h3v1h-3zM73 47h1v1h-1zM43 48h1v1h-1zM50 48h3v1h-3zM56 48h1v1h-1zM62 48h1v1h-1zM68 48h1v1h-1zM46 49h1v1h-1zM53 49h1v1h-1zM55 49h1v1h-1zM37 50h1v1h-1zM25 53h1v1h-1zM2 54h1v1h-1zM18 54h2v1h-2zM0 55h1v1h-1zM9 55h1v1h-1zM11 55h1v1h-1zM1 56h1v1h-1zM3 56h1v1h-1z"/>
<path fill="#2d2d33" d="M86 2h1v1h-1zM88 2h1v1h-1zM16 13h1v1h-1zM12 14h1v1h-1zM6 15h2v1h-2zM1 16h1v1h-1z"/>
<path fill="#33392d" d="M90 2h1v1h-1zM71 5h1v1h-1zM65 6h1v1h-1zM28 12h1v1h-1zM23 13h1v1h-1zM17 14h1v1h-1zM13 15h1v1h-1zM38 31h1v1h-1zM42 31h1v1h-1zM37 32h1v1h-1zM47 32h1v1h-1zM33 34h2v1h-2zM38 34h1v1h-1zM41 34h1v1h-1zM47 34h1v1h-1zM50 34h2v1h-2zM62 34h1v1h-1zM29 35h4v1h-4zM34 35h1v1h-1zM38 35h1v1h-1zM51 35h1v1h-1zM55 35h1v1h-1zM22 36h1v1h-1zM32 36h1v1h-1zM34 36h1v1h-1zM41 36h2v1h-2zM44 36h1v1h-1zM47 36h1v1h-1zM50 36h6v1h-6zM13 37h1v1h-1zM22 37h1v1h-1zM26 37h1v1h-1zM44 37h1v1h-1zM49 37h1v1h-1zM54 37h1v1h-1zM57 37h1v1h-1zM0 38h1v1h-1zM13 38h1v1h-1zM19 38h1v1h-1zM29 38h1v1h-1zM31 38h1v1h-1zM1 39h1v1h-1zM6 39h1v1h-1zM13 39h1v1h-1zM15 39h1v1h-1zM49 39h1v1h-1zM53 39h1v1h-1zM56 39h2v1h-2zM59 39h1v1h-1zM66 39h1v1h-1zM1 40h1v1h-1zM6 40h1v1h-1zM8 40h1v1h-1zM13 40h1v1h-1zM16 40h1v1h-1zM30 40h1v1h-1zM32 40h1v1h-1zM53 40h1v1h-1zM4 41h1v1h-1zM6 41h1v1h-1zM16 41h1v1h-1zM23 41h1v1h-1zM38 41h1v1h-1zM42 41h1v1h-1zM53 41h2v1h-2zM58 41h1v1h-1zM60 41h1v1h-1zM64 41h1v1h-1zM92 41h1v1h-1zM2 42h1v1h-1zM47 42h2v1h-2zM54 42h2v1h-2zM59 42h1v1h-1zM5 43h1v1h-1zM7 43h1v1h-1zM13 43h1v1h-1zM51 43h1v1h-1zM58 43h1v1h-1zM62 43h1v1h-1zM76 43h1v1h-1zM21 44h1v1h-1zM52 44h1v1h-1zM55 44h1v1h-1zM59 44h1v1h-1zM46 45h1v1h-1zM53 45h1v1h-1zM56 45h1v1h-1zM7 46h1v1h-1zM56 46h1v1h-1zM60 46h1v1h-1zM44 47h1v1h-1zM46 47h1v1h-1zM50 47h1v1h-1zM52 47h1v1h-1z"/>
<path fill="#2d332d" d="M91 2h1v1h-1zM85 3h1v1h-1zM66 6h1v1h-1zM46 9h1v1h-1zM33 11h1v1h-1zM14 14h1v1h-1zM39 31h1v1h-1zM61 31h1v1h-1zM64 32h1v1h-1zM32 33h1v1h-1zM37 33h2v1h-2zM47 33h1v1h-1zM32 34h1v1h-1zM35 34h1v1h-1zM42 34h1v1h-1zM54 34h1v1h-1zM19 35h1v1h-1zM28 35h1v1h-1zM47 35h1v1h-1zM49 35h1v1h-1zM7 36h1v1h-1zM14 36h1v1h-1zM57 36h1v1h-1zM60 37h1v1h-1zM3 38h2v1h-2zM41 38h1v1h-1zM66 38h1v1h-1zM2 39h1v1h-1zM4 39h1v1h-1zM39 39h1v1h-1zM60 39h1v1h-1zM4 40h1v1h-1zM91 41h1v1h-1zM95 41h1v1h-1zM25 42h1v1h-1zM84 42h2v1h-2zM88 42h2v1h-2zM78 43h1v1h-1zM81 43h1v1h-1zM2 44h2v1h-2zM65 44h1v1h-1zM55 46h1v1h-1zM59 46h1v1h-1z"/>
<path fill="#333927" d="M92 2h2v1h-2zM80 4h1v1h-1zM72 5h1v1h-1zM68 6h1v1h-1zM59 7h1v1h-1zM16 14h1v1h-1zM35 38h1v1h-1zM37 38h1v1h-1zM20 39h1v1h-1zM25 39h1v1h-1zM29 39h4v1h-4zM42 39h2v1h-2zM45 39h1v1h-1zM27 40h1v1h-1zM31 40h1v1h-1zM35 40h1v1h-1zM40 40h1v1h-1zM42 40h1v1h-1zM55 40h1v1h-1zM13 41h1v1h-1zM20 41h1v1h-1zM30 41h1v1h-1zM32 41h1v1h-1zM36 41h1v1h-1zM46 41h1v1h-1zM41 42h1v1h-1zM8 43h1v1h-1zM24 43h2v1h-2zM31 43h1v1h-1zM41 43h1v1h-1zM49 43h2v1h-2zM4 44h1v1h-1zM35 44h2v1h-2zM51 44h1v1h-1zM1 45h2v1h-2zM5 45h1v1h-1zM10 45h1v1h-1zM13 45h1v1h-1zM41 45h1v1h-1zM43 45h1v1h-1zM49 45h1v1h-1zM16 46h1v1h-1zM22 46h1v1h-1zM29 46h1v1h-1zM44 46h1v1h-1zM3 47h1v1h-1zM19 47h1v1h-1zM21 47h1v1h-1zM48 47h1v1h-1zM13 48h1v1h-1zM42 48h1v1h-1zM44 48h2v1h-2zM14 49h1v1h-1zM30 49h1v1h-1zM32 49h1v1h-1zM0 50h1v1h-1zM4 50h1v1h-1zM28 50h1v1h-1zM8 51h1v1h-1zM21 51h1v1h-1zM25 51h1v1h-1zM14 52h1v1h-1zM1 53h1v1h-1z"/>
<path fill="#454b39" d="M94 2h1v1h-1zM88 3h1v1h-1zM77 5h1v1h-1zM63 7h1v1h-1zM91 7h1v1h-1zM56 8h1v1h-1zM87 9h1v1h-1zM92 9h1v1h-1zM65 11h1v1h-1zM77 11h2v1h-2zM83 11h1v1h-1zM32 12h1v1h-1zM36 12h1v1h-1zM57 12h1v1h-1zM59 12h1v1h-1zM62 12h1v1h-1zM73 12h1v1h-1zM67 13h1v1h-1zM72 13h1v1h-1zM55 14h1v1h-1zM67 14h1v1h-1zM45 15h1v1h-1zM62 15h1v1h-1zM74 15h1v1h-1zM87 15h1v1h-1zM30 16h1v1h-1zM58 16h1v1h-1zM77 16h1v1h-1zM57 17h1v1h-1zM88 17h1v1h-1zM95 17h1v1h-1zM34 18h1v1h-1zM47 18h1v1h-1zM88 19h1v1h-1zM10 20h1v1h-1zM26 20h1v1h-1zM50 20h1v1h-1zM70 20h1v1h-1zM10 21h2v1h-2zM44 21h1v1h-1zM55 21h1v1h-1zM24 22h1v1h-1zM31 22h1v1h-1zM38 22h1v1h-1zM49 22h1v1h-1zM69 22h1v1h-1zM87 22h1v1h-1zM38 23h1v1h-1zM59 23h1v1h-1zM20 24h1v1h-1zM36 24h1v1h-1zM56 24h1v1h-1zM71 24h1v1h-1zM80 24h1v1h-1zM85 24h1v1h-1zM59 25h1v1h-1zM56 26h1v1h-1zM61 26h1v1h-1zM14 27h1v1h-1zM16 27h1v1h-1zM23 27h1v1h-1zM28 27h1v1h-1zM49 27h1v1h-1zM88 27h1v1h-1zM8 28h1v1h-1zM35 28h1v1h-1zM54 28h1v1h-1zM58 28h1v1h-1zM13 29h1v1h-1zM29 29h1v1h-1zM36 29h1v1h-1zM41 29h1v1h-1zM63 29h1v1h-1zM72 29h1v1h-1zM82 29h1v1h-1zM18 30h2v1h-2zM60 30h1v1h-1zM84 30h1v1h-1zM88 30h1v1h-1zM95 30h1v1h-1zM34 31h1v1h-1zM50 31h1v1h-1zM68 31h1v1h-1zM74 31h1v1h-1zM81 31h1v1h-1zM85 31h1v1h-1zM2 32h1v1h-1zM57 32h1v1h-1zM59 32h1v1h-1zM51 33h1v1h-1zM82 33h1v1h-1zM36 34h1v1h-1zM67 34h1v1h-1zM36 35h1v1h-1zM59 35h1v1h-1zM82 35h1v1h-1zM89 35h1v1h-1zM5 36h1v1h-1zM26 36h1v1h-1zM85 36h1v1h-1zM6 37h1v1h-1zM95 37h1v1h-1zM16 38h1v1h-1zM83 38h1v1h-1zM90 38h1v1h-1zM73 39h1v1h-1zM59 40h1v1h-1zM72 40h1v1h-1zM84 40h1v1h-1zM88 40h1v1h-1zM70 41h1v1h-1zM79 41h1v1h-1z"/>
<path fill="#3f3f39" d="M95 2h1v1h-1zM75 5h1v1h-1zM78 5h1v1h-1zM95 7h1v1h-1zM69 8h1v1h-1zM93 8h1v1h-1zM79 9h1v1h-1zM82 9h1v1h-1zM53 10h1v1h-1zM74 10h1v1h-1zM92 10h1v1h-1zM85 11h1v1h-1zM64 12h1v1h-1zM76 13h1v1h-1zM27 14h1v1h-1zM59 14h1v1h-1zM70 14h2v1h-2zM75 14h1v1h-1zM49 15h1v1h-1zM68 15h1v1h-1zM88 15h1v1h-1zM90 15h1v1h-1zM11 16h1v1h-1zM33 16h1v1h-1zM37 16h1v1h-1zM71 16h1v1h-1zM94 16h1v1h-1zM45 17h1v1h-1zM76 17h1v1h-1zM58 18h1v1h-1zM78 18h1v1h-1zM93 18h1v1h-1zM21 19h1v1h-1zM27 19h1v1h-1zM38 19h1v1h-1zM63 19h1v1h-1zM65 19h1v1h-1zM76 19h1v1h-1zM21 20h1v1h-1zM34 20h1v1h-1zM41 20h1v1h-1zM62 20h1v1h-1zM76 20h1v1h-1zM36 21h1v1h-1zM65 21h1v1h-1zM53 22h1v1h-1zM66 22h1v1h-1zM72 22h1v1h-1zM1 23h1v1h-1zM8 23h1v1h-1zM16 23h1v1h-1zM23 23h1v1h-1zM45 23h1v1h-1zM80 23h1v1h-1zM89 23h1v1h-1zM2 24h1v1h-1zM23 24h1v1h-1zM30 24h1v1h-1zM57 24h1v1h-1zM77 24h1v1h-1zM92 24h1v1h-1zM9 25h1v1h-1zM11 25h1v1h-1zM22 25h1v1h-1zM27 25h1v1h-1zM51 25h2v1h-2zM57 25h1v1h-1zM62 25h1v1h-1zM85 25h1v1h-1zM95 25h1v1h-1zM14 26h1v1h-1zM50 26h1v1h-1zM84 26h1v1h-1zM90 26h1v1h-1zM92 26h1v1h-1zM11 27h1v1h-1zM25 27h1v1h-1zM37 27h1v1h-1zM43 27h1v1h-1zM50 27h1v1h-1zM55 27h1v1h-1zM66 27h1v1h-1zM14 28h1v1h-1zM24 28h1v1h-1zM40 28h1v1h-1zM43 28h1v1h-1zM52 28h1v1h-1zM26 29h1v1h-1zM66 29h1v1h-1zM79 29h1v1h-1zM6 30h1v1h-1zM10 30h1v1h-1zM13 30h1v1h-1zM17 30h1v1h-1zM28 30h1v1h-1zM34 30h1v1h-1zM43 30h1v1h-1zM58 30h1v1h-1zM74 30h1v1h-1zM11 31h1v1h-1zM16 31h1v1h-1zM21 31h1v1h-1zM3 32h1v1h-1zM44 32h1v1h-1zM70 32h1v1h-1zM75 32h1v1h-1zM79 32h1v1h-1zM84 32h1v1h-1zM90 32h1v1h-1zM13 33h1v1h-1zM20 34h1v1h-1zM64 34h1v1h-1zM74 34h1v1h-1zM76 34h1v1h-1zM91 35h1v1h-1zM67 36h1v1h-1zM7 37h1v1h-1zM86 37h1v1h-1zM89 37h1v1h-1zM91 37h2v1h-2zM78 38h1v1h-1zM75 39h1v1h-1zM81 40h1v1h-1zM12 41h1v1h-1zM63 41h1v1h-1zM75 41h1v1h-1zM90 41h1v1h-1zM81 42h1v1h-1zM58 44h1v1h-1z"/>
<path fill="#454b3f" d="M96 2h1v1h-1zM91 3h1v1h-1zM93 5h1v1h-1zM80 6h2v1h-2zM85 7h1v1h-1zM60 8h1v1h-1zM70 8h1v1h-1zM65 10h1v1h-1zM41 11h1v1h-1zM35 15h1v1h-1zM10 16h1v1h-1zM23 17h1v1h-1zM5 18h1v1h-1zM5 19h1v1h-1zM5 20h1v1h-1z"/>
<path fill="#212721" d="M70 3h1v1h-1zM34 9h1v1h-1zM5 13h1v1h-1zM96 43h1v1h-1zM89 44h4v1h-4zM94 44h1v1h-1zM72 45h1v1h-1zM82 45h1v1h-1zM84 45h1v1h-1zM86 45h1v1h-1zM65 46h1v1h-1zM69 46h1v1h-1zM76 46h1v1h-1zM79 46h1v1h-1zM57 47h1v1h-1zM59 47h2v1h-2zM62 47h1v1h-1zM66 47h1v1h-1zM68 47h2v1h-2zM71 47h1v1h-1zM53 48h3v1h-3zM57 48h2v1h-2zM60 48h2v1h-2zM63 48h2v1h-2zM49 49h1v1h-1zM51 49h2v1h-2zM47 50h1v1h-1zM35 51h1v1h-1zM28 52h1v1h-1zM20 53h1v1h-1zM23 53h2v1h-2z"/>
<path fill="#21272d" d="M77 3h2v1h-2zM20 12h1v1h-1z"/>
<path fill="#272d2d" d="M80 3h2v1h-2zM83 3h1v1h-1zM76 4h1v1h-1zM63 6h1v1h-1zM31 11h1v1h-1zM87 43h1v1h-1zM81 44h1v1h-1zM74 45h1v1h-1z"/>
<path fill="#272727" d="M82 3h1v1h-1zM69 4h1v1h-1zM74 4h1v1h-1zM63 5h1v1h-1zM66 5h1v1h-1zM69 5h2v1h-2zM58 6h1v1h-1zM60 6h1v1h-1zM64 6h1v1h-1zM53 7h2v1h-2zM56 7h1v1h-1zM46 8h3v1h-3zM50 8h2v1h-2zM37 9h1v1h-1zM42 9h1v1h-1zM32 10h1v1h-1zM37 10h1v1h-1zM39 10h1v1h-1zM27 11h1v1h-1zM24 12h2v1h-2zM20 13h1v1h-1zM90 42h1v1h-1zM95 43h1v1h-1zM77 44h2v1h-2zM85 44h1v1h-1zM87 44h1v1h-1zM69 45h1v1h-1zM71 45h1v1h-1zM75 45h1v1h-1zM68 46h1v1h-1zM71 46h1v1h-1zM74 46h1v1h-1z"/>
<path fill="#2d3327" d="M84 3h1v1h-1zM78 4h1v1h-1zM47 9h1v1h-1zM41 10h1v1h-1zM34 11h1v1h-1zM3 16h1v1h-1zM36 36h1v1h-1zM40 36h1v1h-1zM18 37h1v1h-1zM21 37h1v1h-1zM23 37h1v1h-1zM29 37h2v1h-2zM32 37h1v1h-1zM35 37h1v1h-1zM48 37h1v1h-1zM52 37h1v1h-1zM28 38h1v1h-1zM30 38h1v1h-1zM36 38h1v1h-1zM40 38h1v1h-1zM7 39h1v1h-1zM14 39h1v1h-1zM22 39h1v1h-1zM24 39h1v1h-1zM27 39h1v1h-1zM37 39h1v1h-1zM52 39h1v1h-1zM54 39h1v1h-1zM9 40h2v1h-2zM21 40h1v1h-1zM44 40h1v1h-1zM49 40h1v1h-1zM54 40h1v1h-1zM9 41h1v1h-1zM17 41h1v1h-1zM44 41h1v1h-1zM51 41h1v1h-1zM55 41h1v1h-1zM94 41h1v1h-1zM10 42h2v1h-2zM13 42h1v1h-1zM43 42h1v1h-1zM46 42h1v1h-1zM49 42h1v1h-1zM86 42h1v1h-1zM3 43h1v1h-1zM28 43h1v1h-1zM37 43h1v1h-1zM53 43h2v1h-2zM0 44h1v1h-1zM24 44h1v1h-1zM46 44h2v1h-2zM73 44h1v1h-1zM75 44h1v1h-1zM12 45h1v1h-1zM52 45h1v1h-1zM65 45h1v1h-1zM68 45h1v1h-1zM11 46h1v1h-1zM50 46h1v1h-1zM57 46h1v1h-1zM11 47h1v1h-1zM42 47h1v1h-1zM51 47h1v1h-1zM53 47h1v1h-1zM46 48h1v1h-1z"/>
<path fill="#393f2d" d="M86 3h2v1h-2zM73 5h1v1h-1zM70 6h1v1h-1zM61 7h2v1h-2zM55 8h1v1h-1zM89 8h1v1h-1zM49 9h2v1h-2zM43 10h1v1h-1zM35 11h3v1h-3zM33 12h1v1h-1zM77 12h1v1h-1zM22 13h1v1h-1zM24 13h1v1h-1zM80 13h1v1h-1zM19 14h1v1h-1zM10 15h1v1h-1zM44 15h1v1h-1zM72 15h1v1h-1zM82 15h1v1h-1zM94 15h1v1h-1zM7 16h1v1h-1zM95 16h1v1h-1zM39 17h1v1h-1zM17 18h1v1h-1zM63 18h1v1h-1zM96 18h1v1h-1zM40 19h1v1h-1zM19 21h1v1h-1zM79 21h1v1h-1zM93 21h1v1h-1zM52 22h1v1h-1zM83 22h1v1h-1zM89 22h1v1h-1zM60 23h1v1h-1zM91 23h1v1h-1zM93 23h1v1h-1zM41 24h1v1h-1zM91 24h1v1h-1zM31 25h1v1h-1zM10 26h1v1h-1zM12 26h1v1h-1zM71 26h1v1h-1zM91 26h1v1h-1zM71 27h1v1h-1zM4 28h1v1h-1zM6 28h1v1h-1zM90 29h1v1h-1zM8 30h1v1h-1zM33 30h1v1h-1zM47 30h2v1h-2zM67 31h1v1h-1zM14 32h1v1h-1zM44 33h1v1h-1zM52 34h1v1h-1zM13 35h1v1h-1zM24 35h2v1h-2zM40 35h1v1h-1zM58 35h1v1h-1zM4 36h1v1h-1zM10 36h1v1h-1zM25 36h1v1h-1zM24 37h1v1h-1zM33 37h1v1h-1zM37 37h2v1h-2zM40 37h1v1h-1zM10 38h1v1h-1zM32 38h1v1h-1zM47 38h1v1h-1zM60 38h1v1h-1zM73 38h1v1h-1zM10 39h1v1h-1zM41 39h1v1h-1zM50 39h1v1h-1zM91 39h1v1h-1zM3 40h1v1h-1zM18 40h1v1h-1zM20 40h1v1h-1zM25 40h1v1h-1zM37 40h1v1h-1zM41 40h1v1h-1zM50 40h2v1h-2zM3 41h1v1h-1zM8 41h1v1h-1zM11 41h1v1h-1zM15 41h1v1h-1zM33 41h1v1h-1zM41 41h1v1h-1zM50 41h1v1h-1zM52 41h1v1h-1zM57 41h1v1h-1zM68 41h2v1h-2zM4 42h1v1h-1zM7 42h1v1h-1zM9 42h1v1h-1zM12 42h1v1h-1zM14 42h2v1h-2zM37 42h2v1h-2zM51 42h1v1h-1zM56 42h1v1h-1zM0 43h2v1h-2zM4 43h1v1h-1zM44 43h1v1h-1zM46 43h2v1h-2zM79 43h1v1h-1zM1 44h1v1h-1zM53 44h1v1h-1zM60 44h1v1h-1zM42 45h1v1h-1zM50 45h1v1h-1zM55 45h1v1h-1zM47 46h2v1h-2zM52 46h1v1h-1zM1 47h1v1h-1zM6 47h1v1h-1zM22 47h1v1h-1zM3 48h1v1h-1zM15 49h1v1h-1zM19 49h1v1h-1zM20 51h1v1h-1z"/>
<path fill="#4b4b4b" d="M89 3h1v1h-1zM53 9h1v1h-1zM47 10h1v1h-1z"/>
<path fill="#393f33" d="M90 3h1v1h-1zM82 7h1v1h-1zM54 8h1v1h-1zM86 8h1v1h-1zM91 8h1v1h-1zM48 9h1v1h-1zM83 9h1v1h-1zM53 11h1v1h-1zM76 11h1v1h-1zM78 12h1v1h-1zM37 14h1v1h-1zM39 14h1v1h-1zM83 14h1v1h-1zM16 15h1v1h-1zM5 16h1v1h-1zM17 16h1v1h-1zM7 17h1v1h-1zM90 18h1v1h-1zM42 19h1v1h-1zM66 19h1v1h-1zM68 19h1v1h-1zM44 20h1v1h-1zM56 20h2v1h-2zM7 21h1v1h-1zM21 21h1v1h-1zM45 21h1v1h-1zM86 21h1v1h-1zM25 22h1v1h-1zM28 22h1v1h-1zM56 22h1v1h-1zM71 22h1v1h-1zM41 23h1v1h-1zM44 23h1v1h-1zM49 23h1v1h-1zM55 23h1v1h-1zM72 23h1v1h-1zM25 24h1v1h-1zM86 24h1v1h-1zM16 25h1v1h-1zM20 25h1v1h-1zM24 25h1v1h-1zM40 25h1v1h-1zM54 25h1v1h-1zM94 25h1v1h-1zM13 26h1v1h-1zM27 26h1v1h-1zM78 26h1v1h-1zM46 27h1v1h-1zM57 27h1v1h-1zM7 28h1v1h-1zM9 28h1v1h-1zM9 29h1v1h-1zM76 29h1v1h-1zM0 30h1v1h-1zM42 30h1v1h-1zM52 30h1v1h-1zM67 30h1v1h-1zM71 30h2v1h-2zM49 31h1v1h-1zM51 31h1v1h-1zM56 31h1v1h-1zM65 31h1v1h-1zM24 32h1v1h-1zM28 32h1v1h-1zM32 32h1v1h-1zM36 32h1v1h-1zM42 32h1v1h-1zM52 32h1v1h-1zM55 32h1v1h-1zM66 32h1v1h-1zM72 32h1v1h-1zM93 32h1v1h-1zM28 33h1v1h-1zM30 33h1v1h-1zM33 33h1v1h-1zM42 33h1v1h-1zM45 33h1v1h-1zM54 33h1v1h-1zM72 33h1v1h-1zM86 33h1v1h-1zM95 33h1v1h-1zM0 34h1v1h-1zM19 34h1v1h-1zM30 34h1v1h-1zM39 34h1v1h-1zM46 34h1v1h-1zM49 34h1v1h-1zM57 34h1v1h-1zM88 34h1v1h-1zM23 35h1v1h-1zM35 35h1v1h-1zM37 35h1v1h-1zM39 35h1v1h-1zM42 35h1v1h-1zM44 35h1v1h-1zM48 35h1v1h-1zM52 35h1v1h-1zM8 36h1v1h-1zM16 36h1v1h-1zM23 36h1v1h-1zM27 36h1v1h-1zM29 36h1v1h-1zM39 36h1v1h-1zM49 36h1v1h-1zM58 36h1v1h-1zM60 36h1v1h-1zM65 36h1v1h-1zM81 36h1v1h-1zM5 37h1v1h-1zM10 37h2v1h-2zM15 37h1v1h-1zM25 37h1v1h-1zM34 37h1v1h-1zM42 37h2v1h-2zM53 37h1v1h-1zM59 37h1v1h-1zM1 38h1v1h-1zM8 38h2v1h-2zM15 38h1v1h-1zM20 38h2v1h-2zM26 38h1v1h-1zM51 38h2v1h-2zM57 38h1v1h-1zM61 38h1v1h-1zM8 39h1v1h-1zM17 39h1v1h-1zM46 39h1v1h-1zM51 39h1v1h-1zM58 39h1v1h-1zM69 39h1v1h-1zM94 39h1v1h-1zM0 40h1v1h-1zM2 40h1v1h-1zM7 40h1v1h-1zM26 40h1v1h-1zM34 40h1v1h-1zM36 40h1v1h-1zM52 40h1v1h-1zM56 40h1v1h-1zM60 40h1v1h-1zM96 40h1v1h-1zM5 41h1v1h-1zM59 41h1v1h-1zM62 41h1v1h-1zM86 41h1v1h-1zM16 42h1v1h-1zM45 42h1v1h-1zM53 42h1v1h-1zM58 42h1v1h-1zM12 43h1v1h-1zM56 43h1v1h-1zM5 44h1v1h-1zM50 44h1v1h-1zM57 44h1v1h-1zM61 44h2v1h-2zM45 45h1v1h-1zM58 45h2v1h-2zM62 45h2v1h-2zM54 46h1v1h-1z"/>
<path fill="#45453f" d="M92 3h1v1h-1zM95 4h1v1h-1zM37 13h1v1h-1zM21 15h1v1h-1z"/>
<path fill="#3f3f3f" d="M93 3h1v1h-1zM91 6h1v1h-1zM78 7h2v1h-2zM84 7h1v1h-1zM87 7h2v1h-2zM75 8h1v1h-1zM80 8h1v1h-1zM65 9h1v1h-1zM66 10h1v1h-1zM73 10h1v1h-1zM62 11h1v1h-1zM69 12h1v1h-1zM26 14h1v1h-1zM41 14h1v1h-1zM6 17h1v1h-1zM19 17h1v1h-1zM84 17h1v1h-1zM13 18h1v1h-1zM6 19h1v1h-1zM1 21h2v1h-2zM50 21h1v1h-1zM37 22h1v1h-1zM42 22h1v1h-1zM46 22h1v1h-1zM68 23h1v1h-1zM70 23h1v1h-1zM84 23h1v1h-1zM19 24h1v1h-1zM1 25h1v1h-1zM88 25h1v1h-1zM52 27h1v1h-1zM69 29h1v1h-1zM83 29h1v1h-1zM11 30h1v1h-1zM44 30h1v1h-1zM88 31h1v1h-1zM21 32h1v1h-1zM48 32h1v1h-1zM87 32h1v1h-1zM95 32h1v1h-1zM60 33h1v1h-1zM12 34h1v1h-1zM80 34h1v1h-1zM87 34h1v1h-1zM96 34h1v1h-1zM22 35h1v1h-1zM88 35h1v1h-1zM89 36h1v1h-1zM16 37h1v1h-1zM88 39h1v1h-1zM78 41h1v1h-1zM66 43h1v1h-1zM70 43h1v1h-1z"/>
<path fill="#45454b" d="M94 3h1v1h-1zM91 4h1v1h-1zM93 4h1v1h-1zM95 6h1v1h-1zM76 7h1v1h-1zM83 7h1v1h-1zM60 9h1v1h-1zM66 9h1v1h-1zM80 9h1v1h-1zM88 9h1v1h-1zM46 11h1v1h-1zM72 11h1v1h-1zM92 11h1v1h-1zM39 12h1v1h-1zM46 12h1v1h-1zM89 12h1v1h-1zM95 12h1v1h-1zM54 13h1v1h-1zM30 14h1v1h-1zM51 14h1v1h-1zM78 14h1v1h-1zM23 15h1v1h-1zM41 15h1v1h-1zM86 15h1v1h-1zM14 16h1v1h-1zM19 16h2v1h-2zM28 16h1v1h-1zM67 16h1v1h-1zM86 16h1v1h-1zM93 16h1v1h-1zM11 17h1v1h-1zM14 17h1v1h-1zM60 17h1v1h-1zM62 17h1v1h-1zM36 18h1v1h-1zM43 18h1v1h-1zM45 18h1v1h-1zM67 18h1v1h-1zM29 19h1v1h-1zM44 19h1v1h-1zM62 19h1v1h-1zM69 19h1v1h-1zM75 19h1v1h-1zM82 19h1v1h-1zM91 20h1v1h-1zM6 21h1v1h-1zM16 21h1v1h-1zM71 21h1v1h-1zM74 21h1v1h-1zM83 21h1v1h-1zM40 22h1v1h-1zM95 22h1v1h-1zM13 23h1v1h-1zM20 23h1v1h-1zM35 23h1v1h-1zM48 23h1v1h-1zM9 24h1v1h-1zM95 24h1v1h-1zM19 25h1v1h-1zM47 25h1v1h-1zM25 26h1v1h-1zM59 26h1v1h-1zM72 26h1v1h-1zM74 26h1v1h-1zM95 26h1v1h-1zM38 27h1v1h-1zM0 28h1v1h-1zM38 28h1v1h-1zM65 28h1v1h-1zM15 29h1v1h-1zM20 29h1v1h-1zM25 30h1v1h-1zM46 30h1v1h-1zM1 31h2v1h-2zM57 31h1v1h-1zM1 33h1v1h-1zM12 33h1v1h-1zM25 33h1v1h-1zM24 34h1v1h-1z"/>
<path fill="#333939" d="M95 3h1v1h-1zM96 4h1v1h-1zM76 6h1v1h-1zM80 7h2v1h-2zM63 10h1v1h-1zM67 10h1v1h-1zM90 11h1v1h-1zM47 12h1v1h-1zM32 13h1v1h-1zM34 13h1v1h-1zM45 13h1v1h-1zM63 13h1v1h-1zM66 13h1v1h-1zM43 15h1v1h-1zM24 16h1v1h-1zM41 16h2v1h-2zM21 17h1v1h-1zM54 17h1v1h-1zM86 17h1v1h-1zM94 17h1v1h-1zM21 18h1v1h-1zM25 18h1v1h-1zM27 18h1v1h-1zM82 18h1v1h-1zM2 19h1v1h-1zM4 19h1v1h-1zM47 19h2v1h-2zM51 19h1v1h-1zM49 20h1v1h-1zM51 20h1v1h-1zM8 21h1v1h-1zM23 21h1v1h-1zM33 21h1v1h-1zM22 22h1v1h-1zM41 22h1v1h-1zM60 22h1v1h-1zM29 23h1v1h-1zM31 23h1v1h-1zM36 23h1v1h-1zM43 23h1v1h-1zM4 24h1v1h-1zM64 24h1v1h-1zM84 24h1v1h-1zM2 25h1v1h-1zM7 25h2v1h-2zM26 25h1v1h-1zM70 25h1v1h-1zM65 27h1v1h-1zM15 28h1v1h-1zM53 28h1v1h-1zM63 28h1v1h-1zM83 28h1v1h-1zM8 29h1v1h-1zM33 29h1v1h-1zM87 29h1v1h-1zM38 30h1v1h-1zM55 30h1v1h-1zM35 31h1v1h-1zM44 31h1v1h-1zM60 31h1v1h-1zM94 31h1v1h-1zM82 32h1v1h-1zM26 33h1v1h-1zM31 33h1v1h-1zM79 33h1v1h-1zM1 34h1v1h-1zM48 34h1v1h-1zM17 35h1v1h-1zM11 36h1v1h-1zM21 36h1v1h-1zM37 36h1v1h-1zM9 37h1v1h-1zM14 38h1v1h-1zM78 40h1v1h-1z"/>
<path fill="#3f4539" d="M96 3h1v1h-1zM84 4h1v1h-1zM86 6h1v1h-1zM88 6h1v1h-1zM94 6h1v1h-1zM70 7h1v1h-1zM72 8h1v1h-1zM54 9h1v1h-1zM82 10h1v1h-1zM96 10h1v1h-1zM44 12h1v1h-1zM67 12h1v1h-1zM93 12h1v1h-1zM28 13h1v1h-1zM30 13h1v1h-1zM38 13h1v1h-1zM64 13h2v1h-2zM40 14h1v1h-1zM58 14h1v1h-1zM90 14h1v1h-1zM89 15h1v1h-1zM18 16h1v1h-1zM90 16h1v1h-1zM0 17h1v1h-1zM4 17h1v1h-1zM12 17h2v1h-2zM18 17h1v1h-1zM42 17h2v1h-2zM48 17h1v1h-1zM78 17h1v1h-1zM80 17h1v1h-1zM20 18h1v1h-1zM35 18h1v1h-1zM71 18h1v1h-1zM77 18h1v1h-1zM1 19h1v1h-1zM7 19h1v1h-1zM13 19h1v1h-1zM45 19h1v1h-1zM80 19h1v1h-1zM35 20h1v1h-1zM59 20h1v1h-1zM86 20h1v1h-1zM73 21h1v1h-1zM76 21h1v1h-1zM84 21h1v1h-1zM92 21h1v1h-1zM4 22h1v1h-1zM18 22h1v1h-1zM45 22h1v1h-1zM50 22h1v1h-1zM73 22h1v1h-1zM77 22h1v1h-1zM84 22h1v1h-1zM88 22h1v1h-1zM57 23h1v1h-1zM26 24h1v1h-1zM40 24h1v1h-1zM58 24h1v1h-1zM46 25h1v1h-1zM64 25h1v1h-1zM5 26h1v1h-1zM11 26h1v1h-1zM44 26h1v1h-1zM32 27h1v1h-1zM73 27h1v1h-1zM78 27h2v1h-2zM13 28h1v1h-1zM92 28h1v1h-1zM30 29h1v1h-1zM32 29h1v1h-1zM58 29h1v1h-1zM88 29h1v1h-1zM37 30h1v1h-1zM69 30h1v1h-1zM46 31h1v1h-1zM71 31h1v1h-1zM91 31h1v1h-1zM27 32h1v1h-1zM35 32h1v1h-1zM38 32h3v1h-3zM71 32h1v1h-1zM11 33h1v1h-1zM17 33h1v1h-1zM22 33h1v1h-1zM29 33h1v1h-1zM35 33h1v1h-1zM43 33h1v1h-1zM63 33h1v1h-1zM65 33h1v1h-1zM68 33h1v1h-1zM3 34h1v1h-1zM10 34h1v1h-1zM29 34h1v1h-1zM56 34h1v1h-1zM65 34h1v1h-1zM33 35h1v1h-1zM54 35h1v1h-1zM62 35h1v1h-1zM65 35h1v1h-1zM73 35h1v1h-1zM85 35h1v1h-1zM95 35h1v1h-1zM2 36h1v1h-1zM28 36h1v1h-1zM66 36h1v1h-1zM86 36h1v1h-1zM96 36h1v1h-1zM8 37h1v1h-1zM56 37h1v1h-1zM58 37h1v1h-1zM96 37h1v1h-1zM2 38h1v1h-1zM6 38h1v1h-1zM12 38h1v1h-1zM59 38h1v1h-1zM62 38h2v1h-2zM55 39h1v1h-1zM79 39h1v1h-1zM48 40h1v1h-1zM58 40h1v1h-1zM77 40h1v1h-1zM92 40h1v1h-1zM56 41h1v1h-1zM66 41h1v1h-1zM81 41h1v1h-1zM83 41h1v1h-1zM5 42h1v1h-1zM57 42h1v1h-1zM62 42h1v1h-1zM69 42h1v1h-1zM59 43h1v1h-1zM75 43h1v1h-1zM68 44h1v1h-1zM60 45h1v1h-1z"/>
<path fill="#1b1b1b" d="M62 4h1v1h-1zM17 11h1v1h-1z"/>
<path fill="#272d27" d="M77 4h1v1h-1zM58 7h1v1h-1zM44 9h1v1h-1zM38 10h1v1h-1zM15 14h1v1h-1zM92 42h1v1h-1zM80 43h1v1h-1zM84 43h2v1h-2zM74 44h1v1h-1zM76 44h1v1h-1zM81 45h1v1h-1zM58 46h1v1h-1zM61 46h1v1h-1zM64 46h1v1h-1zM66 46h1v1h-1zM61 47h1v1h-1zM70 47h1v1h-1zM59 48h1v1h-1z"/>
<path fill="#333f2d" d="M79 4h1v1h-1zM46 36h1v1h-1zM55 37h1v1h-1zM44 38h1v1h-1zM22 40h2v1h-2zM29 40h1v1h-1zM46 40h1v1h-1zM2 41h1v1h-1zM18 41h1v1h-1zM48 41h1v1h-1zM31 42h1v1h-1zM50 42h1v1h-1zM87 42h1v1h-1zM9 43h1v1h-1zM48 43h1v1h-1zM21 45h1v1h-1zM36 45h1v1h-1zM38 45h1v1h-1zM47 45h1v1h-1zM54 45h1v1h-1zM57 45h1v1h-1zM39 46h1v1h-1zM4 47h1v1h-1zM8 47h1v1h-1zM49 47h1v1h-1zM36 48h1v1h-1z"/>
<path fill="#3f4533" d="M81 4h2v1h-2zM67 6h1v1h-1zM72 6h2v1h-2zM90 8h1v1h-1zM51 9h1v1h-1zM76 9h1v1h-1zM85 9h1v1h-1zM93 9h1v1h-1zM42 10h1v1h-1zM39 11h1v1h-1zM89 11h1v1h-1zM34 12h1v1h-1zM25 13h1v1h-1zM29 13h1v1h-1zM62 13h1v1h-1zM70 13h1v1h-1zM83 13h1v1h-1zM90 13h1v1h-1zM18 14h1v1h-1zM44 14h1v1h-1zM68 14h1v1h-1zM80 14h1v1h-1zM94 14h1v1h-1zM77 15h1v1h-1zM8 16h1v1h-1zM44 16h1v1h-1zM78 16h1v1h-1zM2 17h1v1h-1zM67 17h1v1h-1zM64 18h1v1h-1zM79 18h1v1h-1zM83 19h1v1h-1zM96 19h1v1h-1zM18 20h1v1h-1zM48 20h1v1h-1zM74 20h1v1h-1zM87 20h1v1h-1zM24 21h1v1h-1zM43 21h1v1h-1zM53 21h1v1h-1zM60 21h1v1h-1zM88 21h1v1h-1zM54 22h1v1h-1zM79 22h1v1h-1zM82 22h1v1h-1zM91 22h1v1h-1zM76 23h1v1h-1zM37 24h1v1h-1zM65 24h1v1h-1zM17 25h1v1h-1zM34 25h2v1h-2zM38 26h1v1h-1zM45 26h1v1h-1zM20 27h1v1h-1zM63 27h1v1h-1zM69 27h1v1h-1zM81 27h1v1h-1zM79 28h1v1h-1zM0 29h1v1h-1zM19 29h1v1h-1zM27 29h1v1h-1zM51 29h1v1h-1zM56 29h1v1h-1zM4 30h1v1h-1zM31 30h1v1h-1zM54 30h1v1h-1zM87 30h1v1h-1zM19 31h1v1h-1zM29 31h1v1h-1zM63 31h1v1h-1zM43 32h1v1h-1zM61 32h1v1h-1zM76 32h1v1h-1zM0 33h1v1h-1zM5 33h1v1h-1zM16 33h1v1h-1zM20 33h1v1h-1zM52 33h1v1h-1zM56 33h1v1h-1zM77 33h1v1h-1zM60 34h1v1h-1zM81 34h2v1h-2zM91 34h2v1h-2zM0 35h1v1h-1zM14 35h1v1h-1zM41 35h1v1h-1zM45 35h1v1h-1zM53 35h1v1h-1zM92 35h1v1h-1zM38 36h1v1h-1zM64 36h1v1h-1zM17 37h1v1h-1zM17 38h1v1h-1zM45 38h1v1h-1zM54 38h1v1h-1zM87 38h1v1h-1zM0 39h1v1h-1zM23 39h1v1h-1zM68 39h1v1h-1zM70 39h1v1h-1zM95 39h1v1h-1zM68 40h1v1h-1zM76 40h1v1h-1zM86 40h1v1h-1zM89 40h1v1h-1zM94 40h1v1h-1zM77 41h1v1h-1zM70 42h1v1h-1zM57 43h1v1h-1zM65 43h1v1h-1zM61 45h1v1h-1z"/>
<path fill="#454545" d="M83 4h1v1h-1zM87 4h1v1h-1zM43 11h1v1h-1zM37 12h1v1h-1zM31 13h1v1h-1zM19 15h1v1h-1zM30 15h2v1h-2zM23 16h1v1h-1zM10 18h1v1h-1zM85 19h1v1h-1zM48 22h1v1h-1zM10 24h1v1h-1zM41 25h1v1h-1zM90 28h1v1h-1zM37 31h1v1h-1zM78 32h1v1h-1zM39 33h1v1h-1zM48 33h1v1h-1zM76 33h1v1h-1zM31 34h1v1h-1zM63 34h1v1h-1zM20 35h1v1h-1zM73 36h1v1h-1zM12 37h1v1h-1z"/>
<path fill="#39393f" d="M85 4h1v1h-1zM88 4h1v1h-1zM82 5h1v1h-1zM84 5h1v1h-1zM89 5h1v1h-1zM74 6h1v1h-1zM83 6h1v1h-1zM64 8h1v1h-1zM66 8h1v1h-1zM71 8h1v1h-1zM77 8h1v1h-1zM61 9h1v1h-1zM68 9h2v1h-2zM56 10h2v1h-2zM59 10h1v1h-1zM45 11h1v1h-1zM69 11h1v1h-1zM42 12h1v1h-1zM70 12h1v1h-1zM86 12h1v1h-1zM35 13h1v1h-1zM44 13h1v1h-1zM48 13h1v1h-1zM55 13h1v1h-1zM64 14h1v1h-1zM25 15h1v1h-1zM46 15h1v1h-1zM64 15h1v1h-1zM21 16h1v1h-1zM36 16h1v1h-1zM49 16h1v1h-1zM69 16h1v1h-1zM89 16h1v1h-1zM16 17h1v1h-1zM49 17h1v1h-1zM51 17h1v1h-1zM89 17h1v1h-1zM0 18h3v1h-3zM4 18h1v1h-1zM12 18h1v1h-1zM23 18h1v1h-1zM70 18h1v1h-1zM3 19h1v1h-1zM9 19h1v1h-1zM18 19h1v1h-1zM30 19h2v1h-2zM0 20h1v1h-1zM12 20h1v1h-1zM17 20h1v1h-1zM75 20h1v1h-1zM89 20h1v1h-1zM25 21h1v1h-1zM61 21h1v1h-1zM7 22h1v1h-1zM12 22h1v1h-1zM17 22h1v1h-1zM44 22h1v1h-1zM61 22h1v1h-1zM15 23h1v1h-1zM25 23h1v1h-1zM39 23h1v1h-1zM74 23h1v1h-1zM85 23h1v1h-1zM88 23h1v1h-1zM48 24h1v1h-1zM51 24h1v1h-1zM44 25h1v1h-1zM56 25h1v1h-1zM63 25h1v1h-1zM87 25h1v1h-1zM2 26h1v1h-1zM30 26h1v1h-1zM55 26h1v1h-1zM87 26h2v1h-2zM41 27h1v1h-1zM62 28h1v1h-1zM66 28h1v1h-1zM5 29h1v1h-1zM28 29h1v1h-1zM44 29h1v1h-1zM7 30h1v1h-1zM53 30h1v1h-1zM10 31h1v1h-1zM17 31h1v1h-1zM4 32h1v1h-1zM11 32h1v1h-1zM10 33h1v1h-1zM21 35h1v1h-1zM12 36h1v1h-1z"/>
<path fill="#3f453f" d="M86 4h1v1h-1zM79 6h1v1h-1zM90 6h1v1h-1zM92 6h1v1h-1zM86 7h1v1h-1zM89 7h1v1h-1zM93 7h1v1h-1zM95 8h1v1h-1zM78 9h1v1h-1zM86 9h1v1h-1zM89 9h1v1h-1zM70 10h1v1h-1zM72 10h1v1h-1zM76 10h1v1h-1zM88 10h1v1h-1zM90 10h1v1h-1zM64 11h1v1h-1zM70 11h1v1h-1zM75 11h1v1h-1zM95 11h1v1h-1zM68 12h1v1h-1zM71 12h1v1h-1zM76 12h1v1h-1zM83 12h1v1h-1zM85 12h1v1h-1zM91 12h1v1h-1zM51 13h1v1h-1zM56 13h1v1h-1zM81 13h1v1h-1zM84 13h1v1h-1zM89 13h1v1h-1zM92 13h1v1h-1zM22 14h1v1h-1zM50 14h1v1h-1zM89 14h1v1h-1zM17 15h1v1h-1zM36 15h1v1h-1zM51 15h1v1h-1zM78 15h1v1h-1zM93 15h1v1h-1zM34 16h2v1h-2zM40 16h1v1h-1zM63 16h1v1h-1zM75 16h1v1h-1zM88 16h1v1h-1zM91 16h1v1h-1zM20 17h1v1h-1zM27 17h1v1h-1zM29 17h1v1h-1zM37 17h2v1h-2zM53 17h1v1h-1zM55 17h2v1h-2zM64 17h1v1h-1zM83 17h1v1h-1zM96 17h1v1h-1zM29 18h1v1h-1zM40 18h1v1h-1zM44 18h1v1h-1zM49 18h1v1h-1zM56 18h1v1h-1zM61 18h2v1h-2zM65 18h1v1h-1zM72 18h1v1h-1zM87 18h1v1h-1zM15 19h1v1h-1zM17 19h1v1h-1zM28 19h1v1h-1zM34 19h1v1h-1zM41 19h1v1h-1zM53 19h1v1h-1zM57 19h1v1h-1zM71 19h1v1h-1zM74 19h1v1h-1zM81 19h1v1h-1zM87 19h1v1h-1zM89 19h1v1h-1zM6 20h1v1h-1zM8 20h1v1h-1zM15 20h2v1h-2zM22 20h1v1h-1zM38 20h1v1h-1zM42 20h1v1h-1zM46 20h1v1h-1zM71 20h1v1h-1zM78 20h2v1h-2zM82 20h1v1h-1zM84 20h1v1h-1zM93 20h1v1h-1zM4 21h2v1h-2zM13 21h1v1h-1zM29 21h1v1h-1zM34 21h2v1h-2zM38 21h1v1h-1zM46 21h1v1h-1zM51 21h1v1h-1zM58 21h1v1h-1zM68 21h1v1h-1zM89 21h1v1h-1zM91 21h1v1h-1zM95 21h1v1h-1zM1 22h3v1h-3zM10 22h1v1h-1zM19 22h1v1h-1zM23 22h1v1h-1zM30 22h1v1h-1zM63 22h1v1h-1zM81 22h1v1h-1zM18 23h1v1h-1zM22 23h1v1h-1zM37 23h1v1h-1zM62 23h1v1h-1zM67 23h1v1h-1zM69 23h1v1h-1zM0 24h1v1h-1zM3 24h1v1h-1zM7 24h1v1h-1zM11 24h1v1h-1zM29 24h1v1h-1zM35 24h1v1h-1zM44 24h1v1h-1zM93 24h1v1h-1zM96 24h1v1h-1zM5 25h1v1h-1zM18 25h1v1h-1zM29 25h2v1h-2zM37 25h1v1h-1zM50 25h1v1h-1zM65 25h1v1h-1zM68 25h1v1h-1zM72 25h2v1h-2zM24 26h1v1h-1zM33 26h1v1h-1zM51 26h1v1h-1zM70 26h1v1h-1zM80 26h1v1h-1zM1 27h1v1h-1zM3 27h1v1h-1zM18 27h1v1h-1zM22 27h1v1h-1zM30 27h1v1h-1zM34 27h1v1h-1zM48 27h1v1h-1zM51 27h1v1h-1zM62 27h1v1h-1zM84 27h1v1h-1zM90 27h1v1h-1zM93 27h1v1h-1zM1 28h1v1h-1zM3 28h1v1h-1zM11 28h1v1h-1zM28 28h1v1h-1zM34 28h1v1h-1zM39 28h1v1h-1zM85 28h1v1h-1zM87 28h1v1h-1zM31 29h1v1h-1zM47 29h2v1h-2zM65 29h1v1h-1zM3 30h1v1h-1zM5 30h1v1h-1zM9 30h1v1h-1zM65 30h1v1h-1zM75 30h1v1h-1zM80 30h1v1h-1zM83 30h1v1h-1zM90 30h1v1h-1zM93 30h1v1h-1zM9 31h1v1h-1zM76 31h1v1h-1zM7 32h2v1h-2zM9 33h1v1h-1zM67 33h1v1h-1zM73 33h1v1h-1zM89 33h2v1h-2zM75 34h1v1h-1zM69 35h1v1h-1zM78 35h1v1h-1zM94 35h1v1h-1zM96 35h1v1h-1zM0 36h1v1h-1zM70 36h2v1h-2zM82 36h3v1h-3zM87 36h1v1h-1zM95 36h1v1h-1zM41 37h1v1h-1zM51 37h1v1h-1zM64 37h2v1h-2zM67 37h1v1h-1zM70 37h1v1h-1zM93 37h1v1h-1zM27 38h1v1h-1zM65 38h1v1h-1zM69 38h1v1h-1zM74 38h1v1h-1zM92 38h1v1h-1zM95 38h2v1h-2zM3 39h1v1h-1zM11 39h1v1h-1zM18 39h1v1h-1zM21 39h1v1h-1zM61 39h1v1h-1zM71 39h1v1h-1zM77 39h1v1h-1zM80 39h2v1h-2zM12 40h1v1h-1zM69 40h1v1h-1zM80 40h1v1h-1zM91 40h1v1h-1zM1 41h1v1h-1zM76 41h1v1h-1zM87 41h1v1h-1zM66 42h2v1h-2zM72 42h1v1h-1zM76 42h3v1h-3zM72 43h1v1h-1z"/>
<path fill="#3f3f45" d="M89 4h2v1h-2zM80 5h1v1h-1zM87 5h1v1h-1zM90 5h1v1h-1zM82 6h1v1h-1zM77 7h1v1h-1zM96 7h1v1h-1zM65 8h1v1h-1zM67 8h2v1h-2zM78 8h1v1h-1zM57 9h1v1h-1zM64 9h1v1h-1zM73 9h1v1h-1zM54 10h1v1h-1zM84 10h1v1h-1zM44 11h1v1h-1zM50 11h1v1h-1zM52 11h1v1h-1zM60 11h1v1h-1zM79 11h1v1h-1zM43 12h1v1h-1zM75 12h1v1h-1zM36 13h1v1h-1zM53 13h1v1h-1zM69 13h1v1h-1zM88 13h1v1h-1zM96 13h1v1h-1zM29 14h1v1h-1zM31 14h1v1h-1zM33 14h1v1h-1zM52 14h2v1h-2zM57 15h1v1h-1zM80 15h1v1h-1zM95 15h1v1h-1zM22 16h1v1h-1zM26 16h1v1h-1zM48 16h1v1h-1zM50 16h1v1h-1zM56 16h1v1h-1zM50 17h1v1h-1zM81 17h1v1h-1zM7 18h1v1h-1zM11 18h1v1h-1zM16 18h1v1h-1zM31 18h1v1h-1zM22 19h1v1h-1zM1 20h1v1h-1zM3 20h1v1h-1zM36 20h1v1h-1zM28 21h1v1h-1zM37 21h1v1h-1zM69 21h1v1h-1zM90 21h1v1h-1zM96 21h1v1h-1zM76 22h1v1h-1zM80 22h1v1h-1zM17 23h1v1h-1zM33 23h1v1h-1zM65 23h2v1h-2zM52 24h1v1h-1zM59 24h1v1h-1zM62 24h1v1h-1zM43 25h1v1h-1zM37 26h1v1h-1zM62 26h2v1h-2zM7 27h1v1h-1zM56 27h1v1h-1zM70 27h1v1h-1zM76 27h1v1h-1zM30 28h1v1h-1zM73 28h1v1h-1zM1 29h1v1h-1zM10 29h1v1h-1zM12 29h1v1h-1zM75 29h1v1h-1zM81 29h1v1h-1zM22 30h1v1h-1zM24 30h1v1h-1zM35 30h1v1h-1zM48 31h1v1h-1zM9 32h1v1h-1zM14 33h1v1h-1zM23 33h1v1h-1zM13 34h2v1h-2z"/>
<path fill="#3f3f4b" d="M92 4h1v1h-1zM75 6h1v1h-1zM78 6h1v1h-1zM63 9h1v1h-1zM41 12h1v1h-1zM40 13h1v1h-1zM43 13h1v1h-1zM36 14h1v1h-1zM9 17h1v1h-1z"/>
<path fill="#3f454b" d="M94 4h1v1h-1zM86 5h1v1h-1zM74 7h1v1h-1zM62 9h1v1h-1zM55 10h1v1h-1zM47 11h1v1h-1zM48 12h1v1h-1zM47 13h1v1h-1zM12 16h1v1h-1zM29 16h1v1h-1zM2 20h1v1h-1zM7 20h1v1h-1z"/>
<path fill="#454b33" d="M74 5h1v1h-1zM58 8h1v1h-1zM45 10h1v1h-1zM38 11h1v1h-1zM31 12h1v1h-1zM1 17h1v1h-1zM35 36h1v1h-1zM53 38h1v1h-1zM0 42h1v1h-1zM0 45h1v1h-1z"/>
<path fill="#3f452d" d="M76 5h1v1h-1zM30 12h1v1h-1zM42 38h2v1h-2zM26 42h1v1h-1zM52 42h1v1h-1zM35 46h1v1h-1zM51 46h1v1h-1zM14 47h1v1h-1zM34 48h1v1h-1zM14 50h1v1h-1z"/>
<path fill="#393933" d="M79 5h1v1h-1zM84 8h1v1h-1zM94 8h1v1h-1zM95 10h1v1h-1zM80 11h1v1h-1zM35 12h1v1h-1zM54 14h1v1h-1zM72 14h1v1h-1zM86 14h1v1h-1zM88 14h1v1h-1zM48 15h1v1h-1zM53 15h1v1h-1zM63 15h1v1h-1zM65 15h1v1h-1zM70 15h1v1h-1zM79 15h1v1h-1zM43 16h1v1h-1zM47 16h1v1h-1zM52 16h2v1h-2zM65 16h1v1h-1zM70 16h1v1h-1zM84 16h1v1h-1zM34 17h2v1h-2zM58 17h1v1h-1zM63 17h1v1h-1zM71 17h1v1h-1zM74 17h1v1h-1zM93 17h1v1h-1zM52 18h1v1h-1zM60 18h1v1h-1zM83 18h1v1h-1zM95 18h1v1h-1zM56 19h1v1h-1zM73 19h1v1h-1zM77 19h1v1h-1zM14 20h1v1h-1zM20 20h1v1h-1zM31 20h2v1h-2zM61 20h1v1h-1zM32 21h1v1h-1zM49 21h1v1h-1zM85 21h1v1h-1zM9 22h1v1h-1zM20 22h1v1h-1zM27 22h1v1h-1zM39 22h1v1h-1zM90 22h1v1h-1zM96 22h1v1h-1zM7 23h1v1h-1zM50 23h1v1h-1zM54 23h1v1h-1zM81 23h2v1h-2zM86 23h2v1h-2zM90 23h1v1h-1zM95 23h1v1h-1zM49 24h1v1h-1zM55 24h1v1h-1zM60 24h1v1h-1zM74 24h1v1h-1zM90 24h1v1h-1zM3 25h1v1h-1zM6 25h1v1h-1zM13 25h1v1h-1zM15 25h1v1h-1zM21 25h1v1h-1zM25 25h1v1h-1zM42 25h1v1h-1zM69 25h1v1h-1zM78 25h1v1h-1zM84 25h1v1h-1zM18 26h1v1h-1zM35 26h2v1h-2zM39 26h1v1h-1zM47 26h1v1h-1zM53 26h2v1h-2zM77 26h1v1h-1zM21 27h1v1h-1zM27 27h1v1h-1zM29 27h1v1h-1zM61 27h1v1h-1zM72 27h1v1h-1zM87 27h1v1h-1zM92 27h1v1h-1zM2 28h1v1h-1zM5 28h1v1h-1zM42 28h1v1h-1zM45 28h1v1h-1zM47 28h1v1h-1zM49 28h1v1h-1zM51 28h1v1h-1zM75 28h1v1h-1zM95 28h1v1h-1zM4 29h1v1h-1zM6 29h1v1h-1zM11 29h1v1h-1zM34 29h1v1h-1zM38 29h1v1h-1zM46 29h1v1h-1zM68 29h1v1h-1zM70 29h1v1h-1zM91 29h1v1h-1zM93 29h1v1h-1zM21 30h1v1h-1zM23 30h1v1h-1zM62 30h1v1h-1zM66 30h1v1h-1zM3 31h1v1h-1zM69 31h1v1h-1zM73 31h1v1h-1zM75 31h1v1h-1zM82 31h1v1h-1zM84 31h1v1h-1zM1 32h1v1h-1zM6 32h1v1h-1zM18 32h1v1h-1zM29 32h1v1h-1zM58 32h1v1h-1zM62 32h2v1h-2zM89 32h1v1h-1zM4 33h1v1h-1zM8 33h1v1h-1zM69 33h1v1h-1zM94 33h1v1h-1zM2 34h1v1h-1zM4 34h1v1h-1zM16 34h1v1h-1zM59 34h1v1h-1zM1 35h1v1h-1zM6 35h1v1h-1zM64 35h1v1h-1zM81 35h1v1h-1zM90 35h1v1h-1zM3 36h1v1h-1zM75 36h2v1h-2zM1 37h1v1h-1zM39 37h1v1h-1zM72 37h1v1h-1zM74 37h1v1h-1zM78 37h1v1h-1zM80 37h1v1h-1zM46 38h1v1h-1zM50 38h1v1h-1zM56 38h1v1h-1zM67 38h1v1h-1zM71 38h1v1h-1zM79 38h2v1h-2zM82 39h1v1h-1zM85 39h1v1h-1zM87 39h1v1h-1zM93 39h1v1h-1zM64 40h1v1h-1zM82 40h1v1h-1zM19 41h1v1h-1zM61 41h1v1h-1zM63 42h1v1h-1zM56 44h1v1h-1z"/>
<path fill="#393939" d="M81 5h1v1h-1zM89 6h1v1h-1zM73 8h1v1h-1zM81 8h1v1h-1zM50 10h2v1h-2zM62 10h1v1h-1zM69 10h1v1h-1zM71 10h1v1h-1zM80 10h2v1h-2zM58 11h1v1h-1zM63 12h1v1h-1zM46 13h1v1h-1zM78 13h1v1h-1zM24 14h1v1h-1zM38 14h1v1h-1zM76 14h1v1h-1zM85 14h1v1h-1zM32 16h1v1h-1zM51 16h1v1h-1zM25 17h1v1h-1zM77 17h1v1h-1zM3 18h1v1h-1zM11 19h1v1h-1zM25 19h1v1h-1zM9 20h1v1h-1zM54 21h1v1h-1zM6 22h1v1h-1zM16 22h1v1h-1zM74 22h1v1h-1zM6 23h1v1h-1zM49 25h1v1h-1zM60 25h1v1h-1zM71 25h1v1h-1zM29 26h1v1h-1zM43 26h1v1h-1zM93 26h1v1h-1zM35 27h1v1h-1zM70 28h1v1h-1zM89 28h1v1h-1zM86 29h1v1h-1zM45 30h1v1h-1zM79 30h1v1h-1zM86 30h1v1h-1zM96 30h1v1h-1zM14 31h1v1h-1zM70 31h1v1h-1zM95 31h1v1h-1zM53 32h1v1h-1zM77 32h1v1h-1zM85 32h1v1h-1zM49 33h1v1h-1zM55 33h1v1h-1zM66 33h1v1h-1zM25 34h2v1h-2zM45 34h1v1h-1zM67 35h1v1h-1zM72 35h1v1h-1zM92 36h1v1h-1zM20 37h1v1h-1zM63 37h1v1h-1zM76 37h1v1h-1zM85 38h1v1h-1zM9 39h1v1h-1zM72 39h1v1h-1zM76 39h1v1h-1zM11 40h1v1h-1zM65 41h1v1h-1z"/>
<path fill="#4b5145" d="M83 5h1v1h-1zM73 7h1v1h-1zM59 9h1v1h-1zM48 10h1v1h-1zM51 11h1v1h-1zM41 13h1v1h-1z"/>
<path fill="#393f39" d="M85 5h1v1h-1zM69 6h1v1h-1zM93 6h1v1h-1zM60 7h1v1h-1zM66 7h1v1h-1zM83 8h1v1h-1zM85 8h1v1h-1zM87 8h1v1h-1zM71 9h1v1h-1zM91 9h1v1h-1zM94 9h1v1h-1zM85 10h1v1h-1zM93 10h1v1h-1zM59 11h1v1h-1zM61 11h1v1h-1zM63 11h1v1h-1zM66 11h1v1h-1zM74 11h1v1h-1zM87 11h1v1h-1zM52 12h1v1h-1zM54 12h2v1h-2zM58 12h1v1h-1zM61 12h1v1h-1zM66 12h1v1h-1zM81 12h2v1h-2zM84 12h1v1h-1zM92 12h1v1h-1zM49 13h1v1h-1zM68 13h1v1h-1zM85 13h1v1h-1zM94 13h1v1h-1zM43 14h1v1h-1zM45 14h1v1h-1zM47 14h1v1h-1zM49 14h1v1h-1zM57 14h1v1h-1zM61 14h1v1h-1zM66 14h1v1h-1zM69 14h1v1h-1zM73 14h1v1h-1zM82 14h1v1h-1zM12 15h1v1h-1zM50 15h1v1h-1zM55 15h1v1h-1zM61 15h1v1h-1zM67 15h1v1h-1zM69 15h1v1h-1zM71 15h1v1h-1zM75 15h1v1h-1zM81 15h1v1h-1zM83 15h1v1h-1zM91 15h2v1h-2zM60 16h1v1h-1zM62 16h1v1h-1zM81 16h1v1h-1zM83 16h1v1h-1zM85 16h1v1h-1zM92 16h1v1h-1zM10 17h1v1h-1zM22 17h1v1h-1zM24 17h1v1h-1zM26 17h1v1h-1zM28 17h1v1h-1zM30 17h1v1h-1zM41 17h1v1h-1zM44 17h1v1h-1zM46 17h2v1h-2zM52 17h1v1h-1zM59 17h1v1h-1zM65 17h1v1h-1zM73 17h1v1h-1zM79 17h1v1h-1zM91 17h2v1h-2zM19 18h1v1h-1zM26 18h1v1h-1zM37 18h1v1h-1zM42 18h1v1h-1zM48 18h1v1h-1zM50 18h1v1h-1zM57 18h1v1h-1zM59 18h1v1h-1zM66 18h1v1h-1zM74 18h3v1h-3zM81 18h1v1h-1zM88 18h2v1h-2zM12 19h1v1h-1zM14 19h1v1h-1zM19 19h1v1h-1zM24 19h1v1h-1zM37 19h1v1h-1zM46 19h1v1h-1zM50 19h1v1h-1zM59 19h1v1h-1zM70 19h1v1h-1zM79 19h1v1h-1zM91 19h1v1h-1zM19 20h1v1h-1zM28 20h1v1h-1zM33 20h1v1h-1zM39 20h1v1h-1zM43 20h1v1h-1zM45 20h1v1h-1zM47 20h1v1h-1zM58 20h1v1h-1zM60 20h1v1h-1zM65 20h1v1h-1zM69 20h1v1h-1zM73 20h1v1h-1zM85 20h1v1h-1zM96 20h1v1h-1zM0 21h1v1h-1zM3 21h1v1h-1zM14 21h1v1h-1zM22 21h1v1h-1zM26 21h1v1h-1zM39 21h1v1h-1zM48 21h1v1h-1zM75 21h1v1h-1zM77 21h2v1h-2zM80 21h2v1h-2zM11 22h1v1h-1zM13 22h1v1h-1zM26 22h1v1h-1zM29 22h1v1h-1zM33 22h2v1h-2zM51 22h1v1h-1zM55 22h1v1h-1zM58 22h1v1h-1zM62 22h1v1h-1zM68 22h1v1h-1zM70 22h1v1h-1zM86 22h1v1h-1zM92 22h1v1h-1zM0 23h1v1h-1zM2 23h1v1h-1zM9 23h1v1h-1zM19 23h1v1h-1zM21 23h1v1h-1zM32 23h1v1h-1zM34 23h1v1h-1zM40 23h1v1h-1zM51 23h1v1h-1zM58 23h1v1h-1zM61 23h1v1h-1zM64 23h1v1h-1zM73 23h1v1h-1zM77 23h1v1h-1zM79 23h1v1h-1zM94 23h1v1h-1zM1 24h1v1h-1zM15 24h1v1h-1zM31 24h1v1h-1zM38 24h1v1h-1zM63 24h1v1h-1zM66 24h1v1h-1zM68 24h1v1h-1zM79 24h1v1h-1zM81 24h2v1h-2zM0 25h1v1h-1zM4 25h1v1h-1zM28 25h1v1h-1zM33 25h1v1h-1zM36 25h1v1h-1zM45 25h1v1h-1zM53 25h1v1h-1zM76 25h2v1h-2zM83 25h1v1h-1zM96 25h1v1h-1zM9 26h1v1h-1zM15 26h3v1h-3zM26 26h1v1h-1zM31 26h1v1h-1zM34 26h1v1h-1zM40 26h1v1h-1zM46 26h1v1h-1zM48 26h2v1h-2zM57 26h2v1h-2zM73 26h1v1h-1zM76 26h1v1h-1zM83 26h1v1h-1zM85 26h1v1h-1zM94 26h1v1h-1zM0 27h1v1h-1zM5 27h1v1h-1zM12 27h1v1h-1zM19 27h1v1h-1zM39 27h1v1h-1zM44 27h1v1h-1zM54 27h1v1h-1zM75 27h1v1h-1zM77 27h1v1h-1zM94 27h2v1h-2zM12 28h1v1h-1zM16 28h2v1h-2zM25 28h1v1h-1zM32 28h2v1h-2zM56 28h1v1h-1zM69 28h1v1h-1zM72 28h1v1h-1zM74 28h1v1h-1zM76 28h1v1h-1zM80 28h1v1h-1zM88 28h1v1h-1zM93 28h1v1h-1zM16 29h2v1h-2zM45 29h1v1h-1zM52 29h1v1h-1zM60 29h1v1h-1zM64 29h1v1h-1zM67 29h1v1h-1zM77 29h2v1h-2zM92 29h1v1h-1zM95 29h2v1h-2zM16 30h1v1h-1zM20 30h1v1h-1zM49 30h3v1h-3zM73 30h1v1h-1zM76 30h3v1h-3zM89 30h1v1h-1zM92 30h1v1h-1zM4 31h1v1h-1zM6 31h2v1h-2zM13 31h1v1h-1zM27 31h1v1h-1zM30 31h1v1h-1zM47 31h1v1h-1zM55 31h1v1h-1zM64 31h1v1h-1zM77 31h1v1h-1zM89 31h1v1h-1zM96 31h1v1h-1zM30 32h1v1h-1zM33 32h1v1h-1zM41 32h1v1h-1zM46 32h1v1h-1zM65 32h1v1h-1zM68 32h2v1h-2zM96 32h1v1h-1zM2 33h2v1h-2zM19 33h1v1h-1zM53 33h1v1h-1zM62 33h1v1h-1zM64 33h1v1h-1zM70 33h2v1h-2zM74 33h2v1h-2zM81 33h1v1h-1zM85 33h1v1h-1zM87 33h2v1h-2zM93 33h1v1h-1zM6 34h1v1h-1zM15 34h1v1h-1zM43 34h1v1h-1zM58 34h1v1h-1zM68 34h1v1h-1zM70 34h1v1h-1zM78 34h1v1h-1zM83 34h1v1h-1zM90 34h1v1h-1zM93 34h1v1h-1zM95 34h1v1h-1zM8 35h1v1h-1zM10 35h1v1h-1zM16 35h1v1h-1zM27 35h1v1h-1zM56 35h1v1h-1zM61 35h1v1h-1zM68 35h1v1h-1zM71 35h1v1h-1zM75 35h1v1h-1zM80 35h1v1h-1zM93 35h1v1h-1zM13 36h1v1h-1zM33 36h1v1h-1zM59 36h1v1h-1zM63 36h1v1h-1zM69 36h1v1h-1zM74 36h1v1h-1zM77 36h1v1h-1zM79 36h1v1h-1zM90 36h1v1h-1zM0 37h1v1h-1zM4 37h1v1h-1zM27 37h1v1h-1zM46 37h1v1h-1zM62 37h1v1h-1zM71 37h1v1h-1zM73 37h1v1h-1zM75 37h1v1h-1zM77 37h1v1h-1zM79 37h1v1h-1zM83 37h3v1h-3zM88 37h1v1h-1zM7 38h1v1h-1zM24 38h1v1h-1zM64 38h1v1h-1zM77 38h1v1h-1zM82 38h1v1h-1zM89 38h1v1h-1zM38 39h1v1h-1zM67 39h1v1h-1zM74 39h1v1h-1zM86 39h1v1h-1zM90 39h1v1h-1zM92 39h1v1h-1zM24 40h1v1h-1zM63 40h1v1h-1zM66 40h1v1h-1zM73 40h1v1h-1zM85 40h1v1h-1zM87 40h1v1h-1zM10 41h1v1h-1zM21 41h1v1h-1zM67 41h1v1h-1zM71 41h2v1h-2zM82 41h1v1h-1zM89 41h1v1h-1zM8 42h1v1h-1zM74 42h1v1h-1zM83 42h1v1h-1zM61 43h1v1h-1zM68 43h2v1h-2zM71 43h1v1h-1zM69 44h2v1h-2z"/>
<path fill="#454551" d="M88 5h1v1h-1zM72 7h1v1h-1zM55 11h1v1h-1zM40 12h1v1h-1zM24 15h1v1h-1z"/>
<path fill="#393f3f" d="M91 5h1v1h-1zM85 6h1v1h-1zM68 7h1v1h-1zM92 8h1v1h-1zM58 9h1v1h-1zM78 10h1v1h-1zM45 12h1v1h-1zM94 12h1v1h-1zM74 13h1v1h-1zM28 14h1v1h-1zM95 14h1v1h-1zM22 15h1v1h-1zM32 15h1v1h-1zM66 15h1v1h-1zM13 16h1v1h-1zM15 16h1v1h-1zM15 17h1v1h-1zM9 18h1v1h-1zM18 18h1v1h-1zM24 18h1v1h-1zM84 18h1v1h-1zM23 19h1v1h-1zM26 19h1v1h-1zM52 19h1v1h-1zM29 20h1v1h-1zM63 20h1v1h-1zM68 20h1v1h-1zM20 21h1v1h-1zM59 22h1v1h-1zM46 23h1v1h-1zM56 23h1v1h-1zM75 23h1v1h-1zM16 24h2v1h-2zM45 24h1v1h-1zM47 24h1v1h-1zM53 24h1v1h-1zM61 24h1v1h-1zM67 24h1v1h-1zM76 24h1v1h-1zM10 25h1v1h-1zM58 25h1v1h-1zM61 25h1v1h-1zM79 25h1v1h-1zM6 26h1v1h-1zM8 26h1v1h-1zM64 26h1v1h-1zM67 26h1v1h-1zM75 26h1v1h-1zM81 26h1v1h-1zM15 27h1v1h-1zM36 27h1v1h-1zM60 27h1v1h-1zM20 28h1v1h-1zM37 28h1v1h-1zM86 28h1v1h-1zM37 29h1v1h-1zM40 30h1v1h-1zM59 30h1v1h-1zM70 30h1v1h-1zM81 30h1v1h-1zM85 30h1v1h-1zM0 32h1v1h-1zM17 32h1v1h-1zM34 32h1v1h-1zM45 32h1v1h-1zM54 32h1v1h-1zM56 32h1v1h-1zM6 33h2v1h-2zM40 33h2v1h-2zM11 34h1v1h-1zM71 34h1v1h-1zM79 34h1v1h-1zM5 35h1v1h-1zM9 35h1v1h-1zM18 36h1v1h-1z"/>
<path fill="#3f4545" d="M92 5h1v1h-1zM96 5h1v1h-1zM84 6h1v1h-1zM87 6h1v1h-1zM96 6h1v1h-1zM69 7h1v1h-1zM75 7h1v1h-1zM63 8h1v1h-1zM74 8h1v1h-1zM88 8h1v1h-1zM70 9h1v1h-1zM60 10h1v1h-1zM56 11h1v1h-1zM88 11h1v1h-1zM50 12h1v1h-1zM39 13h1v1h-1zM71 13h1v1h-1zM86 13h1v1h-1zM35 14h1v1h-1zM48 14h1v1h-1zM26 15h1v1h-1zM28 15h2v1h-2zM47 15h1v1h-1zM58 15h1v1h-1zM60 15h1v1h-1zM96 15h1v1h-1zM25 16h1v1h-1zM82 16h1v1h-1zM17 17h1v1h-1zM31 17h1v1h-1zM68 17h2v1h-2zM6 18h1v1h-1zM15 18h1v1h-1zM22 18h1v1h-1zM38 18h1v1h-1zM0 19h1v1h-1zM20 19h1v1h-1zM30 20h1v1h-1zM40 20h1v1h-1zM81 20h1v1h-1zM40 21h1v1h-1zM59 21h1v1h-1zM0 22h1v1h-1zM8 22h1v1h-1zM14 22h1v1h-1zM78 22h1v1h-1zM21 24h2v1h-2zM75 24h1v1h-1zM93 25h1v1h-1zM4 26h1v1h-1zM7 26h1v1h-1zM22 26h1v1h-1zM91 27h1v1h-1zM31 28h1v1h-1zM64 28h1v1h-1zM68 28h1v1h-1zM77 28h1v1h-1zM7 29h1v1h-1zM50 29h1v1h-1zM39 30h1v1h-1zM41 30h1v1h-1zM82 30h1v1h-1zM33 31h1v1h-1zM52 31h1v1h-1zM58 31h2v1h-2zM78 31h1v1h-1zM5 32h1v1h-1zM67 32h1v1h-1zM81 32h1v1h-1zM21 33h1v1h-1zM50 33h1v1h-1zM8 34h1v1h-1zM17 34h1v1h-1zM22 34h2v1h-2zM27 34h2v1h-2zM40 34h1v1h-1zM44 34h1v1h-1zM84 34h1v1h-1zM12 35h1v1h-1zM19 36h1v1h-1zM14 37h1v1h-1z"/>
<path fill="#4b513f" d="M94 5h1v1h-1zM65 7h1v1h-1zM52 9h1v1h-1zM75 9h1v1h-1zM46 10h1v1h-1zM96 11h1v1h-1zM51 12h1v1h-1zM21 14h1v1h-1zM23 14h1v1h-1zM38 15h1v1h-1zM68 16h1v1h-1zM5 17h1v1h-1zM87 17h1v1h-1zM28 18h1v1h-1zM33 18h1v1h-1zM8 19h1v1h-1zM32 19h1v1h-1zM90 19h1v1h-1zM5 23h1v1h-1zM78 23h1v1h-1zM89 25h1v1h-1zM83 27h1v1h-1zM48 28h1v1h-1zM82 28h1v1h-1zM96 28h1v1h-1zM84 29h1v1h-1zM89 29h1v1h-1zM5 31h1v1h-1zM41 31h1v1h-1zM22 32h1v1h-1zM86 32h1v1h-1zM92 33h1v1h-1zM94 34h1v1h-1zM68 36h1v1h-1zM94 36h1v1h-1zM75 42h1v1h-1z"/>
<path fill="#393f45" d="M95 5h1v1h-1zM72 9h1v1h-1zM52 10h1v1h-1zM58 10h1v1h-1zM61 10h1v1h-1zM49 11h1v1h-1zM49 12h1v1h-1zM25 14h1v1h-1zM34 14h1v1h-1z"/>
<path fill="#454b45" d="M71 6h1v1h-1zM67 7h1v1h-1zM55 9h1v1h-1zM40 11h1v1h-1zM18 15h1v1h-1z"/>
<path fill="#393945" d="M77 6h1v1h-1zM16 16h1v1h-1zM8 17h1v1h-1z"/>
<path fill="#4b5739" d="M64 7h1v1h-1z"/>
<path fill="#333339" d="M71 7h1v1h-1zM67 9h1v1h-1zM87 12h1v1h-1zM33 13h1v1h-1zM61 13h1v1h-1zM32 14h1v1h-1zM63 14h1v1h-1zM27 15h1v1h-1zM61 16h1v1h-1zM73 16h1v1h-1zM30 18h1v1h-1zM55 18h1v1h-1zM58 19h1v1h-1zM83 20h1v1h-1zM9 21h1v1h-1zM14 23h1v1h-1zM26 23h1v1h-1zM19 26h1v1h-1zM96 26h1v1h-1zM19 28h1v1h-1zM81 28h1v1h-1zM56 30h1v1h-1zM6 36h1v1h-1z"/>
<path fill="#333933" d="M90 7h1v1h-1zM74 9h1v1h-1zM81 9h1v1h-1zM84 9h1v1h-1zM64 10h1v1h-1zM68 10h1v1h-1zM75 10h1v1h-1zM79 10h1v1h-1zM83 10h1v1h-1zM89 10h1v1h-1zM91 10h1v1h-1zM67 11h1v1h-1zM73 11h1v1h-1zM82 11h1v1h-1zM84 11h1v1h-1zM86 11h1v1h-1zM93 11h2v1h-2zM56 12h1v1h-1zM60 12h1v1h-1zM65 12h1v1h-1zM74 12h1v1h-1zM80 12h1v1h-1zM88 12h1v1h-1zM90 12h1v1h-1zM52 13h1v1h-1zM58 13h3v1h-3zM73 13h1v1h-1zM75 13h1v1h-1zM77 13h1v1h-1zM79 13h1v1h-1zM82 13h1v1h-1zM91 13h1v1h-1zM95 13h1v1h-1zM42 14h1v1h-1zM46 14h1v1h-1zM56 14h1v1h-1zM65 14h1v1h-1zM74 14h1v1h-1zM77 14h1v1h-1zM87 14h1v1h-1zM92 14h1v1h-1zM37 15h1v1h-1zM39 15h2v1h-2zM52 15h1v1h-1zM54 15h1v1h-1zM73 15h1v1h-1zM76 15h1v1h-1zM27 16h1v1h-1zM31 16h1v1h-1zM39 16h1v1h-1zM45 16h1v1h-1zM54 16h2v1h-2zM59 16h1v1h-1zM66 16h1v1h-1zM72 16h1v1h-1zM74 16h1v1h-1zM76 16h1v1h-1zM80 16h1v1h-1zM96 16h1v1h-1zM32 17h2v1h-2zM36 17h1v1h-1zM40 17h1v1h-1zM61 17h1v1h-1zM70 17h1v1h-1zM82 17h1v1h-1zM32 18h1v1h-1zM39 18h1v1h-1zM41 18h1v1h-1zM46 18h1v1h-1zM51 18h1v1h-1zM53 18h2v1h-2zM68 18h2v1h-2zM86 18h1v1h-1zM91 18h2v1h-2zM94 18h1v1h-1zM36 19h1v1h-1zM49 19h1v1h-1zM55 19h1v1h-1zM60 19h2v1h-2zM64 19h1v1h-1zM67 19h1v1h-1zM72 19h1v1h-1zM86 19h1v1h-1zM92 19h1v1h-1zM94 19h2v1h-2zM11 20h1v1h-1zM23 20h3v1h-3zM27 20h1v1h-1zM55 20h1v1h-1zM72 20h1v1h-1zM80 20h1v1h-1zM88 20h1v1h-1zM90 20h1v1h-1zM94 20h2v1h-2zM17 21h2v1h-2zM31 21h1v1h-1zM41 21h2v1h-2zM47 21h1v1h-1zM52 21h1v1h-1zM56 21h2v1h-2zM62 21h1v1h-1zM66 21h2v1h-2zM72 21h1v1h-1zM82 21h1v1h-1zM87 21h1v1h-1zM15 22h1v1h-1zM21 22h1v1h-1zM32 22h1v1h-1zM35 22h2v1h-2zM75 22h1v1h-1zM85 22h1v1h-1zM94 22h1v1h-1zM3 23h2v1h-2zM12 23h1v1h-1zM24 23h1v1h-1zM47 23h1v1h-1zM71 23h1v1h-1zM92 23h1v1h-1zM5 24h1v1h-1zM8 24h1v1h-1zM14 24h1v1h-1zM18 24h1v1h-1zM24 24h1v1h-1zM27 24h2v1h-2zM32 24h1v1h-1zM34 24h1v1h-1zM39 24h1v1h-1zM46 24h1v1h-1zM50 24h1v1h-1zM69 24h1v1h-1zM72 24h1v1h-1zM78 24h1v1h-1zM83 24h1v1h-1zM87 24h1v1h-1zM89 24h1v1h-1zM23 25h1v1h-1zM38 25h1v1h-1zM48 25h1v1h-1zM66 25h2v1h-2zM74 25h1v1h-1zM80 25h3v1h-3zM86 25h1v1h-1zM90 25h1v1h-1zM0 26h2v1h-2zM20 26h2v1h-2zM23 26h1v1h-1zM42 26h1v1h-1zM52 26h1v1h-1zM65 26h2v1h-2zM68 26h2v1h-2zM79 26h1v1h-1zM86 26h1v1h-1zM89 26h1v1h-1zM6 27h1v1h-1zM9 27h2v1h-2zM13 27h1v1h-1zM17 27h1v1h-1zM31 27h1v1h-1zM33 27h1v1h-1zM40 27h1v1h-1zM42 27h1v1h-1zM53 27h1v1h-1zM58 27h1v1h-1zM67 27h2v1h-2zM80 27h1v1h-1zM85 27h1v1h-1zM89 27h1v1h-1zM96 27h1v1h-1zM18 28h1v1h-1zM23 28h1v1h-1zM29 28h1v1h-1zM36 28h1v1h-1zM57 28h1v1h-1zM71 28h1v1h-1zM84 28h1v1h-1zM2 29h1v1h-1zM21 29h4v1h-4zM35 29h1v1h-1zM39 29h2v1h-2zM42 29h2v1h-2zM49 29h1v1h-1zM53 29h3v1h-3zM57 29h1v1h-1zM59 29h1v1h-1zM61 29h2v1h-2zM73 29h1v1h-1zM80 29h1v1h-1zM85 29h1v1h-1zM1 30h1v1h-1zM12 30h1v1h-1zM14 30h2v1h-2zM26 30h1v1h-1zM29 30h1v1h-1zM32 30h1v1h-1zM36 30h1v1h-1zM64 30h1v1h-1zM68 30h1v1h-1zM91 30h1v1h-1zM94 30h1v1h-1zM0 31h1v1h-1zM15 31h1v1h-1zM18 31h1v1h-1zM20 31h1v1h-1zM24 31h3v1h-3zM31 31h1v1h-1zM36 31h1v1h-1zM53 31h2v1h-2zM72 31h1v1h-1zM80 31h1v1h-1zM87 31h1v1h-1zM90 31h1v1h-1zM13 32h1v1h-1zM23 32h1v1h-1zM26 32h1v1h-1zM50 32h2v1h-2zM60 32h1v1h-1zM91 32h2v1h-2zM15 33h1v1h-1zM18 33h1v1h-1zM27 33h1v1h-1zM34 33h1v1h-1zM46 33h1v1h-1zM57 33h1v1h-1zM59 33h1v1h-1zM61 33h1v1h-1zM37 34h1v1h-1zM55 34h1v1h-1zM61 34h1v1h-1zM2 35h3v1h-3zM7 35h1v1h-1zM15 35h1v1h-1zM18 35h1v1h-1zM46 35h1v1h-1zM57 35h1v1h-1zM66 35h1v1h-1zM74 35h1v1h-1zM76 35h1v1h-1zM79 35h1v1h-1zM83 35h2v1h-2zM15 36h1v1h-1zM17 36h1v1h-1zM24 36h1v1h-1zM43 36h1v1h-1zM45 36h1v1h-1zM61 36h1v1h-1zM72 36h1v1h-1zM78 36h1v1h-1zM80 36h1v1h-1zM88 36h1v1h-1zM31 37h1v1h-1zM61 37h1v1h-1zM66 37h1v1h-1zM69 37h1v1h-1zM82 37h1v1h-1zM87 37h1v1h-1zM90 37h1v1h-1zM94 37h1v1h-1zM11 38h1v1h-1zM55 38h1v1h-1zM70 38h1v1h-1zM72 38h1v1h-1zM75 38h1v1h-1zM81 38h1v1h-1zM84 38h1v1h-1zM86 38h1v1h-1zM88 38h1v1h-1zM91 38h1v1h-1zM93 38h2v1h-2zM16 39h1v1h-1zM19 39h1v1h-1zM33 39h1v1h-1zM63 39h3v1h-3zM83 39h2v1h-2zM89 39h1v1h-1zM96 39h1v1h-1zM65 40h1v1h-1zM70 40h2v1h-2zM83 40h1v1h-1zM93 40h1v1h-1zM73 41h1v1h-1zM85 41h1v1h-1zM88 41h1v1h-1zM1 42h1v1h-1zM3 42h1v1h-1zM60 42h1v1h-1zM64 42h1v1h-1zM73 42h1v1h-1zM79 42h1v1h-1zM82 42h1v1h-1zM52 43h1v1h-1zM63 43h1v1h-1zM74 43h1v1h-1zM64 44h1v1h-1zM71 44h2v1h-2zM66 45h1v1h-1z"/>
<path fill="#454b4b" d="M92 7h1v1h-1zM59 8h1v1h-1zM49 10h1v1h-1zM71 11h1v1h-1zM38 12h1v1h-1zM20 15h1v1h-1zM52 20h1v1h-1zM63 21h1v1h-1zM43 22h1v1h-1z"/>
<path fill="#33332d" d="M94 7h1v1h-1zM90 9h1v1h-1zM96 9h1v1h-1zM77 10h1v1h-1zM86 10h2v1h-2zM94 10h1v1h-1zM81 11h1v1h-1zM91 11h1v1h-1zM96 12h1v1h-1zM79 14h1v1h-1zM81 14h1v1h-1zM93 14h1v1h-1zM96 14h1v1h-1zM56 15h1v1h-1zM59 15h1v1h-1zM84 15h2v1h-2zM38 16h1v1h-1zM46 16h1v1h-1zM57 16h1v1h-1zM85 17h1v1h-1zM90 17h1v1h-1zM73 18h1v1h-1zM80 18h1v1h-1zM33 19h1v1h-1zM35 19h1v1h-1zM43 19h1v1h-1zM54 19h1v1h-1zM13 20h1v1h-1zM53 20h2v1h-2zM64 20h1v1h-1zM66 20h2v1h-2zM77 20h1v1h-1zM92 20h1v1h-1zM12 21h1v1h-1zM27 21h1v1h-1zM5 22h1v1h-1zM47 22h1v1h-1zM64 22h2v1h-2zM67 22h1v1h-1zM10 23h1v1h-1zM52 23h1v1h-1zM12 24h1v1h-1zM42 24h1v1h-1zM54 24h1v1h-1zM73 24h1v1h-1zM12 25h1v1h-1zM32 25h1v1h-1zM39 25h1v1h-1zM75 25h1v1h-1zM92 25h1v1h-1zM3 26h1v1h-1zM28 26h1v1h-1zM41 26h1v1h-1zM60 26h1v1h-1zM4 27h1v1h-1zM24 27h1v1h-1zM26 27h1v1h-1zM47 27h1v1h-1zM59 27h1v1h-1zM64 27h1v1h-1zM82 27h1v1h-1zM10 28h1v1h-1zM21 28h2v1h-2zM26 28h2v1h-2zM41 28h1v1h-1zM44 28h1v1h-1zM46 28h1v1h-1zM50 28h1v1h-1zM60 28h2v1h-2zM67 28h1v1h-1zM78 28h1v1h-1zM91 28h1v1h-1zM3 29h1v1h-1zM25 29h1v1h-1zM71 29h1v1h-1zM74 29h1v1h-1zM94 29h1v1h-1zM2 30h1v1h-1zM30 30h1v1h-1zM57 30h1v1h-1zM63 30h1v1h-1zM12 31h1v1h-1zM22 31h2v1h-2zM28 31h1v1h-1zM32 31h1v1h-1zM40 31h1v1h-1zM62 31h1v1h-1zM66 31h1v1h-1zM93 31h1v1h-1zM10 32h1v1h-1zM12 32h1v1h-1zM15 32h2v1h-2zM19 32h2v1h-2zM31 32h1v1h-1zM49 32h1v1h-1zM73 32h2v1h-2zM80 32h1v1h-1zM83 32h1v1h-1zM24 33h1v1h-1zM80 33h1v1h-1zM83 33h2v1h-2zM91 33h1v1h-1zM96 33h1v1h-1zM5 34h1v1h-1zM9 34h1v1h-1zM18 34h1v1h-1zM21 34h1v1h-1zM53 34h1v1h-1zM66 34h1v1h-1zM69 34h1v1h-1zM72 34h2v1h-2zM89 34h1v1h-1zM11 35h1v1h-1zM63 35h1v1h-1zM70 35h1v1h-1zM86 35h1v1h-1zM1 36h1v1h-1zM9 36h1v1h-1zM91 36h1v1h-1zM93 36h1v1h-1zM2 37h2v1h-2zM68 37h1v1h-1zM48 38h1v1h-1zM58 38h1v1h-1zM68 38h1v1h-1zM12 39h1v1h-1zM78 39h1v1h-1zM62 40h1v1h-1zM67 40h1v1h-1zM74 40h1v1h-1zM95 40h1v1h-1zM80 41h1v1h-1zM61 42h1v1h-1zM68 42h1v1h-1zM71 42h1v1h-1zM67 43h1v1h-1zM77 43h1v1h-1zM66 44h2v1h-2zM64 45h1v1h-1zM67 45h1v1h-1z"/>
<path fill="#4b5139" d="M57 8h1v1h-1zM27 13h1v1h-1zM14 15h1v1h-1zM45 31h1v1h-1z"/>
<path fill="#4b4b45" d="M61 8h1v1h-1zM42 11h1v1h-1z"/>
<path fill="#454b51" d="M62 8h1v1h-1zM56 9h1v1h-1zM48 11h1v1h-1zM8 18h1v1h-1z"/>
<path fill="#333333" d="M76 8h1v1h-1zM79 8h1v1h-1zM82 8h1v1h-1zM96 8h1v1h-1zM57 11h1v1h-1zM68 11h1v1h-1zM53 12h1v1h-1zM42 13h1v1h-1zM50 13h1v1h-1zM62 14h1v1h-1zM84 14h1v1h-1zM91 14h1v1h-1zM33 15h2v1h-2zM64 16h1v1h-1zM66 17h1v1h-1zM75 17h1v1h-1zM14 18h1v1h-1zM85 18h1v1h-1zM10 19h1v1h-1zM16 19h1v1h-1zM78 19h1v1h-1zM37 20h1v1h-1zM15 21h1v1h-1zM30 21h1v1h-1zM64 21h1v1h-1zM94 21h1v1h-1zM27 23h2v1h-2zM30 23h1v1h-1zM42 23h1v1h-1zM83 23h1v1h-1zM6 24h1v1h-1zM13 24h1v1h-1zM43 24h1v1h-1zM70 24h1v1h-1zM88 24h1v1h-1zM14 25h1v1h-1zM55 25h1v1h-1zM45 27h1v1h-1zM74 27h1v1h-1zM86 27h1v1h-1zM55 28h1v1h-1zM59 28h1v1h-1zM27 30h1v1h-1zM86 31h1v1h-1zM92 31h1v1h-1zM94 32h1v1h-1zM77 34h1v1h-1zM85 34h1v1h-1zM60 35h1v1h-1zM77 35h1v1h-1zM87 35h1v1h-1zM31 36h1v1h-1zM56 36h1v1h-1zM28 37h1v1h-1zM22 38h1v1h-1zM62 39h1v1h-1zM5 40h1v1h-1zM75 40h1v1h-1zM79 40h1v1h-1zM90 40h1v1h-1zM7 41h1v1h-1zM84 41h1v1h-1zM80 42h1v1h-1zM73 43h1v1h-1z"/>
<path fill="#3f4b39" d="M77 9h1v1h-1zM93 13h1v1h-1zM53 23h1v1h-1zM63 23h1v1h-1zM96 23h1v1h-1zM2 27h1v1h-1zM8 31h1v1h-1zM43 31h1v1h-1zM25 32h1v1h-1zM88 32h1v1h-1zM36 33h1v1h-1zM74 41h1v1h-1z"/>
<path fill="#455139" d="M95 9h1v1h-1zM44 10h1v1h-1zM72 12h1v1h-1zM26 13h1v1h-1zM87 16h1v1h-1zM82 26h1v1h-1zM94 28h1v1h-1zM61 30h1v1h-1zM58 33h1v1h-1zM7 34h1v1h-1zM20 36h1v1h-1zM62 36h1v1h-1zM19 37h1v1h-1zM5 38h1v1h-1zM5 39h1v1h-1zM65 42h1v1h-1zM60 43h1v1h-1zM64 43h1v1h-1zM63 44h1v1h-1z"/>
<path fill="#33393f" d="M54 11h1v1h-1z"/>
<path fill="#333327" d="M29 12h1v1h-1zM23 38h1v1h-1zM55 43h1v1h-1z"/>
<path fill="#45513f" d="M79 12h1v1h-1zM57 13h1v1h-1zM87 13h1v1h-1zM60 14h1v1h-1zM42 15h1v1h-1zM79 16h1v1h-1zM72 17h1v1h-1zM84 19h1v1h-1zM70 21h1v1h-1zM57 22h1v1h-1zM93 22h1v1h-1zM33 24h1v1h-1zM94 24h1v1h-1zM91 25h1v1h-1zM32 26h1v1h-1zM8 27h1v1h-1zM78 33h1v1h-1zM86 34h1v1h-1zM81 37h1v1h-1zM76 38h1v1h-1z"/>
<path fill="#2d2739" d="M6 14h1v1h-1zM0 15h1v1h-1zM3 15h1v1h-1z"/>
<path fill="#3f4b33" d="M20 14h1v1h-1zM6 16h1v1h-1zM30 36h1v1h-1zM25 38h1v1h-1zM49 38h1v1h-1zM28 39h1v1h-1zM44 39h1v1h-1zM48 39h1v1h-1zM61 40h1v1h-1zM2 43h1v1h-1zM6 43h1v1h-1z"/>
<path fill="#2d2d3f" d="M2 15h1v1h-1z"/>
<path fill="#394533" d="M11 15h1v1h-1zM11 23h1v1h-1zM26 35h1v1h-1zM45 37h1v1h-1zM50 37h1v1h-1zM18 38h1v1h-1zM33 38h1v1h-1zM26 39h1v1h-1zM14 40h2v1h-2zM17 40h1v1h-1zM19 40h1v1h-1zM57 40h1v1h-1zM0 41h1v1h-1zM6 42h1v1h-1zM40 42h1v1h-1zM17 43h1v1h-1zM20 44h1v1h-1zM53 46h1v1h-1z"/>
<path fill="#3f3f33" d="M15 15h1v1h-1z"/>
<path fill="#39452d" d="M4 16h1v1h-1zM9 16h1v1h-1zM43 35h1v1h-1zM50 35h1v1h-1zM48 36h1v1h-1zM36 37h1v1h-1zM47 37h1v1h-1zM45 41h1v1h-1zM27 42h1v1h-1zM29 42h1v1h-1zM28 44h1v1h-1zM37 44h1v1h-1zM40 45h1v1h-1zM48 45h1v1h-1zM51 45h1v1h-1zM15 46h1v1h-1zM18 46h1v1h-1zM49 46h1v1h-1zM2 47h1v1h-1zM17 47h1v1h-1zM43 47h1v1h-1zM45 47h1v1h-1zM2 48h1v1h-1zM4 49h1v1h-1zM33 49h1v1h-1z"/>
<path fill="#454539" d="M3 17h1v1h-1z"/>
<path fill="#39392d" d="M39 19h1v1h-1zM93 19h1v1h-1zM4 20h1v1h-1zM14 29h1v1h-1zM18 29h1v1h-1zM79 31h1v1h-1zM83 31h1v1h-1z"/>
<path fill="#455133" d="M34 38h1v1h-1zM47 40h1v1h-1zM14 41h1v1h-1zM49 41h1v1h-1zM49 44h1v1h-1z"/>
<path fill="#393f27" d="M38 38h1v1h-1zM34 39h1v1h-1zM40 39h1v1h-1zM25 41h1v1h-1zM24 42h1v1h-1zM32 42h1v1h-1zM29 43h2v1h-2zM3 45h1v1h-1zM9 45h1v1h-1zM0 46h1v1h-1zM3 46h1v1h-1zM19 46h1v1h-1zM40 46h1v1h-1zM5 51h1v1h-1zM19 51h1v1h-1z"/>
<path fill="#2d3927" d="M39 38h1v1h-1zM47 39h1v1h-1zM28 40h1v1h-1zM33 40h1v1h-1zM43 40h1v1h-1zM22 41h1v1h-1zM28 41h2v1h-2zM47 41h1v1h-1zM19 42h1v1h-1zM21 42h2v1h-2zM43 43h1v1h-1zM35 45h1v1h-1zM1 46h1v1h-1zM10 46h1v1h-1zM23 46h1v1h-1zM47 47h1v1h-1zM24 48h1v1h-1zM31 49h1v1h-1zM39 49h1v1h-1zM11 51h1v1h-1zM13 51h1v1h-1z"/>
<path fill="#2d3321" d="M35 39h2v1h-2zM24 41h1v1h-1zM26 41h2v1h-2zM34 41h2v1h-2zM37 41h1v1h-1zM40 41h1v1h-1zM43 41h1v1h-1zM17 42h2v1h-2zM20 42h1v1h-1zM28 42h1v1h-1zM34 42h2v1h-2zM39 42h1v1h-1zM42 42h1v1h-1zM44 42h1v1h-1zM14 43h1v1h-1zM20 43h2v1h-2zM26 43h2v1h-2zM33 43h1v1h-1zM40 43h1v1h-1zM42 43h1v1h-1zM45 43h1v1h-1zM13 44h1v1h-1zM18 44h2v1h-2zM22 44h1v1h-1zM39 44h2v1h-2zM43 44h1v1h-1zM45 44h1v1h-1zM48 44h1v1h-1zM7 45h2v1h-2zM15 45h1v1h-1zM18 45h1v1h-1zM25 45h1v1h-1zM27 45h1v1h-1zM29 45h1v1h-1zM32 45h3v1h-3zM9 46h1v1h-1zM25 46h1v1h-1zM28 46h1v1h-1zM30 46h1v1h-1zM45 46h2v1h-2zM5 47h1v1h-1zM7 47h1v1h-1zM23 47h1v1h-1zM34 47h1v1h-1zM40 47h2v1h-2zM8 48h1v1h-1zM19 48h1v1h-1zM22 48h1v1h-1zM27 48h1v1h-1zM35 48h1v1h-1zM48 48h1v1h-1zM0 49h1v1h-1zM5 49h1v1h-1zM17 49h1v1h-1zM21 49h1v1h-1zM24 49h1v1h-1zM35 49h1v1h-1zM37 49h1v1h-1zM5 50h1v1h-1zM17 50h1v1h-1zM25 50h2v1h-2zM30 50h1v1h-1zM32 50h1v1h-1zM34 50h1v1h-1zM0 51h1v1h-1zM17 51h1v1h-1zM4 52h1v1h-1zM7 52h1v1h-1zM9 52h1v1h-1zM18 52h1v1h-1zM8 53h1v1h-1zM11 53h2v1h-2zM14 53h1v1h-1zM0 54h1v1h-1zM4 54h1v1h-1zM6 54h1v1h-1z"/>
<path fill="#3f4b2d" d="M38 40h1v1h-1zM8 44h1v1h-1zM12 44h1v1h-1zM25 44h1v1h-1zM30 44h1v1h-1zM14 45h1v1h-1zM2 46h1v1h-1zM6 46h1v1h-1zM32 46h2v1h-2zM1 48h1v1h-1zM14 48h1v1h-1zM20 48h1v1h-1zM3 50h1v1h-1zM9 50h1v1h-1zM11 50h1v1h-1zM19 50h1v1h-1zM27 50h1v1h-1zM14 51h1v1h-1zM22 51h1v1h-1zM5 52h2v1h-2zM10 52h1v1h-1zM1 54h1v1h-1z"/>
<path fill="#333f27" d="M39 40h1v1h-1zM45 40h1v1h-1zM31 41h1v1h-1zM39 41h1v1h-1zM23 42h1v1h-1zM33 42h1v1h-1zM36 42h1v1h-1zM10 43h2v1h-2zM15 43h2v1h-2zM18 43h2v1h-2zM32 43h1v1h-1zM39 43h1v1h-1zM6 44h2v1h-2zM9 44h3v1h-3zM16 44h1v1h-1zM23 44h1v1h-1zM27 44h1v1h-1zM29 44h1v1h-1zM31 44h2v1h-2zM34 44h1v1h-1zM42 44h1v1h-1zM44 44h1v1h-1zM54 44h1v1h-1zM4 45h1v1h-1zM6 45h1v1h-1zM11 45h1v1h-1zM16 45h2v1h-2zM23 45h1v1h-1zM30 45h1v1h-1zM39 45h1v1h-1zM44 45h1v1h-1zM4 46h1v1h-1zM12 46h1v1h-1zM17 46h1v1h-1zM20 46h2v1h-2zM36 46h3v1h-3zM42 46h2v1h-2zM0 47h1v1h-1zM15 47h1v1h-1zM37 47h2v1h-2zM0 48h1v1h-1zM7 48h1v1h-1zM9 48h1v1h-1zM12 48h1v1h-1zM17 48h2v1h-2zM3 49h1v1h-1zM6 49h1v1h-1zM13 49h1v1h-1zM16 49h1v1h-1zM25 49h1v1h-1zM28 49h1v1h-1zM7 50h1v1h-1zM12 50h1v1h-1zM21 50h2v1h-2zM24 50h1v1h-1zM4 51h1v1h-1zM6 51h2v1h-2zM10 51h1v1h-1zM12 51h1v1h-1zM15 51h1v1h-1zM18 51h1v1h-1zM0 52h1v1h-1zM8 52h1v1h-1z"/>
<path fill="#2d2d27" d="M93 41h1v1h-1zM96 41h1v1h-1zM83 43h1v1h-1zM70 45h1v1h-1z"/>
<path fill="#394527" d="M30 42h1v1h-1zM5 46h1v1h-1zM13 47h1v1h-1zM29 47h1v1h-1zM6 48h1v1h-1zM32 48h1v1h-1zM39 48h1v1h-1zM2 49h1v1h-1zM23 49h1v1h-1zM20 50h1v1h-1zM2 52h1v1h-1zM12 52h1v1h-1zM17 52h1v1h-1z"/>
<path fill="#2d3921" d="M22 43h1v1h-1zM34 43h2v1h-2zM14 44h2v1h-2zM17 44h1v1h-1zM33 44h1v1h-1zM19 45h2v1h-2zM22 45h1v1h-1zM13 46h1v1h-1zM41 46h1v1h-1zM10 47h1v1h-1zM16 47h1v1h-1zM20 47h1v1h-1zM25 47h1v1h-1zM28 47h1v1h-1zM31 47h1v1h-1zM33 47h1v1h-1zM39 47h1v1h-1zM4 48h2v1h-2zM11 48h1v1h-1zM29 48h1v1h-1zM33 48h1v1h-1zM38 48h1v1h-1zM40 48h1v1h-1zM9 49h2v1h-2zM22 49h1v1h-1zM26 49h1v1h-1zM34 49h1v1h-1zM10 50h1v1h-1zM13 50h1v1h-1zM18 50h1v1h-1zM29 50h1v1h-1zM24 51h1v1h-1zM3 52h1v1h-1zM13 52h1v1h-1zM16 52h1v1h-1zM10 53h1v1h-1z"/>
<path fill="#273321" d="M23 43h1v1h-1zM26 44h1v1h-1zM41 44h1v1h-1zM8 46h1v1h-1zM16 48h1v1h-1zM41 48h1v1h-1zM41 49h1v1h-1zM19 52h2v1h-2zM5 54h1v1h-1z"/>
<path fill="#333921" d="M36 43h1v1h-1zM38 44h1v1h-1zM28 45h1v1h-1zM37 45h1v1h-1zM24 46h1v1h-1zM31 46h1v1h-1zM9 47h1v1h-1zM36 47h1v1h-1zM23 48h1v1h-1zM30 48h1v1h-1zM18 49h1v1h-1zM20 49h1v1h-1zM27 49h1v1h-1zM36 49h1v1h-1zM1 50h2v1h-2zM6 50h1v1h-1zM8 50h1v1h-1zM2 51h1v1h-1zM16 51h1v1h-1zM1 52h1v1h-1zM15 52h1v1h-1zM0 53h1v1h-1zM9 53h1v1h-1z"/>
<path fill="#454b2d" d="M38 43h1v1h-1zM24 45h1v1h-1zM31 45h1v1h-1z"/>
<path fill="#272721" d="M82 43h1v1h-1zM62 46h2v1h-2zM58 47h1v1h-1z"/>
<path fill="#21271b" d="M95 44h2v1h-2zM87 45h1v1h-1zM90 45h4v1h-4zM81 46h4v1h-4zM87 46h3v1h-3zM91 46h2v1h-2zM72 47h1v1h-1zM74 47h6v1h-6zM81 47h1v1h-1zM84 47h1v1h-1zM89 47h1v1h-1zM93 47h3v1h-3zM49 48h1v1h-1zM65 48h2v1h-2zM69 48h5v1h-5zM77 48h1v1h-1zM79 48h1v1h-1zM83 48h1v1h-1zM87 48h2v1h-2zM42 49h4v1h-4zM47 49h2v1h-2zM50 49h1v1h-1zM54 49h1v1h-1zM56 49h8v1h-8zM66 49h2v1h-2zM73 49h1v1h-1zM81 49h1v1h-1zM83 49h1v1h-1zM92 49h1v1h-1zM96 49h1v1h-1zM38 50h7v1h-7zM48 50h3v1h-3zM53 50h4v1h-4zM61 50h1v1h-1zM63 50h1v1h-1zM68 50h1v1h-1zM72 50h1v1h-1zM78 50h1v1h-1zM91 50h1v1h-1zM96 50h1v1h-1zM30 51h5v1h-5zM36 51h5v1h-5zM42 51h5v1h-5zM48 51h2v1h-2zM60 51h3v1h-3zM69 51h2v1h-2zM73 51h1v1h-1zM81 51h2v1h-2zM88 51h2v1h-2zM21 52h6v1h-6zM29 52h4v1h-4zM34 52h3v1h-3zM38 52h2v1h-2zM42 52h1v1h-1zM44 52h1v1h-1zM46 52h1v1h-1zM50 52h1v1h-1zM54 52h2v1h-2zM69 52h1v1h-1zM74 52h1v1h-1zM77 52h1v1h-1zM82 52h1v1h-1zM88 52h1v1h-1zM91 52h1v1h-1zM13 53h1v1h-1zM16 53h4v1h-4zM21 53h2v1h-2zM26 53h2v1h-2zM30 53h1v1h-1zM32 53h2v1h-2zM36 53h1v1h-1zM46 53h1v1h-1zM57 53h1v1h-1zM61 53h1v1h-1zM68 53h1v1h-1zM70 53h1v1h-1zM75 53h1v1h-1zM87 53h1v1h-1zM8 54h10v1h-10zM20 54h5v1h-5zM27 54h1v1h-1zM30 54h1v1h-1zM33 54h1v1h-1zM37 54h1v1h-1zM39 54h1v1h-1zM43 54h1v1h-1zM45 54h2v1h-2zM53 54h1v1h-1zM77 54h1v1h-1zM4 55h3v1h-3zM8 55h1v1h-1zM10 55h1v1h-1zM12 55h2v1h-2zM16 55h6v1h-6zM26 55h1v1h-1zM31 55h1v1h-1zM34 55h4v1h-4zM43 55h1v1h-1zM46 55h1v1h-1zM50 55h1v1h-1zM54 55h1v1h-1zM65 55h2v1h-2zM73 55h1v1h-1zM93 55h1v1h-1zM95 55h1v1h-1zM0 56h1v1h-1zM4 56h4v1h-4zM9 56h4v1h-4zM21 56h1v1h-1zM25 56h1v1h-1zM32 56h1v1h-1zM48 56h1v1h-1zM53 56h1v1h-1zM57 56h1v1h-1zM60 56h1v1h-1zM65 56h1v1h-1zM71 56h1v1h-1zM74 56h1v1h-1zM79 56h1v1h-1zM84 56h1v1h-1zM86 56h1v1h-1zM92 56h1v1h-1zM95 56h1v1h-1zM0 57h6v1h-6zM12 57h1v1h-1zM18 57h1v1h-1zM21 57h1v1h-1zM23 57h1v1h-1zM25 57h1v1h-1zM32 57h3v1h-3zM36 57h1v1h-1zM41 57h2v1h-2zM45 57h1v1h-1zM47 57h1v1h-1zM53 57h1v1h-1zM57 57h1v1h-1zM59 57h1v1h-1zM70 57h1v1h-1zM77 57h2v1h-2zM80 57h1v1h-1zM89 57h3v1h-3zM95 57h1v1h-1z"/>
<path fill="#27331b" d="M26 45h1v1h-1zM14 46h1v1h-1zM27 46h1v1h-1zM34 46h1v1h-1zM12 47h1v1h-1zM26 47h1v1h-1zM35 47h1v1h-1zM15 48h1v1h-1zM26 48h1v1h-1zM28 48h1v1h-1zM37 48h1v1h-1zM1 49h1v1h-1zM7 49h2v1h-2zM12 49h1v1h-1zM15 50h2v1h-2zM3 51h1v1h-1zM26 51h1v1h-1zM11 52h1v1h-1zM3 53h1v1h-1zM5 53h2v1h-2z"/>
<path fill="#212715" d="M94 45h3v1h-3zM86 46h1v1h-1zM93 46h4v1h-4zM83 47h1v1h-1zM85 47h2v1h-2zM88 47h1v1h-1zM90 47h3v1h-3zM74 48h2v1h-2zM80 48h2v1h-2zM85 48h2v1h-2zM89 48h1v1h-1zM91 48h1v1h-1zM94 48h1v1h-1zM64 49h1v1h-1zM68 49h2v1h-2zM72 49h1v1h-1zM74 49h1v1h-1zM76 49h2v1h-2zM79 49h1v1h-1zM84 49h1v1h-1zM86 49h1v1h-1zM88 49h4v1h-4zM93 49h1v1h-1zM58 50h1v1h-1zM60 50h1v1h-1zM62 50h1v1h-1zM65 50h2v1h-2zM70 50h2v1h-2zM73 50h1v1h-1zM76 50h1v1h-1zM81 50h1v1h-1zM86 50h3v1h-3zM90 50h1v1h-1zM92 50h2v1h-2zM95 50h1v1h-1zM50 51h2v1h-2zM54 51h1v1h-1zM57 51h2v1h-2zM63 51h5v1h-5zM72 51h1v1h-1zM77 51h3v1h-3zM83 51h1v1h-1zM85 51h3v1h-3zM90 51h1v1h-1zM92 51h5v1h-5zM40 52h2v1h-2zM43 52h1v1h-1zM45 52h1v1h-1zM48 52h2v1h-2zM51 52h3v1h-3zM58 52h7v1h-7zM66 52h3v1h-3zM70 52h1v1h-1zM72 52h2v1h-2zM76 52h1v1h-1zM78 52h2v1h-2zM81 52h1v1h-1zM84 52h3v1h-3zM89 52h1v1h-1zM93 52h1v1h-1zM96 52h1v1h-1zM35 53h1v1h-1zM37 53h1v1h-1zM39 53h1v1h-1zM41 53h2v1h-2zM48 53h6v1h-6zM55 53h1v1h-1zM58 53h2v1h-2zM63 53h2v1h-2zM66 53h2v1h-2zM69 53h1v1h-1zM71 53h1v1h-1zM74 53h1v1h-1zM77 53h1v1h-1zM80 53h2v1h-2zM83 53h1v1h-1zM86 53h1v1h-1zM88 53h1v1h-1zM90 53h6v1h-6zM28 54h1v1h-1zM34 54h1v1h-1zM36 54h1v1h-1zM38 54h1v1h-1zM41 54h2v1h-2zM44 54h1v1h-1zM49 54h2v1h-2zM52 54h1v1h-1zM55 54h1v1h-1zM58 54h1v1h-1zM61 54h2v1h-2zM65 54h8v1h-8zM74 54h1v1h-1zM79 54h6v1h-6zM87 54h5v1h-5zM96 54h1v1h-1zM24 55h2v1h-2zM27 55h4v1h-4zM33 55h1v1h-1zM40 55h2v1h-2zM47 55h2v1h-2zM51 55h1v1h-1zM55 55h2v1h-2zM59 55h2v1h-2zM64 55h1v1h-1zM69 55h1v1h-1zM71 55h1v1h-1zM74 55h7v1h-7zM82 55h1v1h-1zM84 55h2v1h-2zM88 55h2v1h-2zM91 55h1v1h-1zM94 55h1v1h-1zM13 56h2v1h-2zM17 56h2v1h-2zM20 56h1v1h-1zM23 56h1v1h-1zM26 56h2v1h-2zM29 56h3v1h-3zM36 56h1v1h-1zM39 56h3v1h-3zM43 56h4v1h-4zM49 56h1v1h-1zM54 56h1v1h-1zM56 56h1v1h-1zM62 56h2v1h-2zM67 56h2v1h-2zM70 56h1v1h-1zM72 56h2v1h-2zM75 56h2v1h-2zM78 56h1v1h-1zM80 56h2v1h-2zM88 56h4v1h-4zM8 57h3v1h-3zM13 57h1v1h-1zM16 57h2v1h-2zM19 57h2v1h-2zM26 57h4v1h-4zM31 57h1v1h-1zM35 57h1v1h-1zM37 57h2v1h-2zM40 57h1v1h-1zM44 57h1v1h-1zM46 57h1v1h-1zM49 57h3v1h-3zM55 57h1v1h-1zM61 57h1v1h-1zM64 57h3v1h-3zM71 57h2v1h-2zM74 57h2v1h-2zM81 57h1v1h-1zM83 57h2v1h-2zM93 57h1v1h-1z"/>
<path fill="#333f21" d="M26 46h1v1h-1zM18 47h1v1h-1zM24 47h1v1h-1zM27 47h1v1h-1zM30 47h1v1h-1zM10 48h1v1h-1zM25 48h1v1h-1zM31 48h1v1h-1zM11 49h1v1h-1zM23 50h1v1h-1zM2 53h1v1h-1zM7 53h1v1h-1z"/>
<path fill="#2d331b" d="M32 47h1v1h-1zM21 48h1v1h-1zM29 49h1v1h-1zM1 51h1v1h-1zM9 51h1v1h-1zM4 53h1v1h-1z"/>
<path fill="#212d1b" d="M80 47h1v1h-1zM90 48h1v1h-1zM92 48h2v1h-2zM96 48h1v1h-1zM95 49h1v1h-1zM52 50h1v1h-1zM77 50h1v1h-1zM94 50h1v1h-1zM27 51h1v1h-1zM68 51h1v1h-1zM57 52h1v1h-1zM92 52h1v1h-1zM95 52h1v1h-1zM34 53h1v1h-1zM43 53h1v1h-1zM45 53h1v1h-1zM60 53h1v1h-1zM65 53h1v1h-1zM72 53h2v1h-2zM82 53h1v1h-1zM84 53h1v1h-1zM89 53h1v1h-1zM29 54h1v1h-1zM48 54h1v1h-1zM59 54h1v1h-1zM85 54h2v1h-2zM1 55h3v1h-3zM15 55h1v1h-1zM39 55h1v1h-1zM61 55h1v1h-1zM67 55h2v1h-2zM83 55h1v1h-1zM90 55h1v1h-1zM16 56h1v1h-1zM28 56h1v1h-1zM34 56h1v1h-1zM38 56h1v1h-1zM61 56h1v1h-1zM85 56h1v1h-1zM93 56h1v1h-1zM67 57h1v1h-1zM73 57h1v1h-1zM76 57h1v1h-1zM79 57h1v1h-1zM82 57h1v1h-1z"/>
<path fill="#272d1b" d="M47 48h1v1h-1zM38 49h1v1h-1zM40 49h1v1h-1zM70 49h1v1h-1zM31 50h1v1h-1zM33 50h1v1h-1zM35 50h2v1h-2zM64 50h1v1h-1zM23 51h1v1h-1zM28 51h2v1h-2zM47 51h1v1h-1zM15 53h1v1h-1zM54 53h1v1h-1zM3 54h1v1h-1zM7 54h1v1h-1zM47 54h1v1h-1zM22 56h1v1h-1zM96 56h1v1h-1zM62 57h1v1h-1z"/>
<path fill="#1b2715" d="M82 48h1v1h-1zM95 48h1v1h-1zM80 50h1v1h-1zM53 51h1v1h-1zM74 51h1v1h-1zM76 51h1v1h-1zM75 52h1v1h-1zM32 54h1v1h-1zM51 54h1v1h-1zM94 54h2v1h-2zM44 55h1v1h-1zM42 56h1v1h-1zM50 56h1v1h-1zM55 56h1v1h-1zM30 57h1v1h-1zM85 57h1v1h-1z"/>
</g>
</g>
<g clip-path="url(#cb1)"><g filter="url(#bl3)"><circle cx="112" cy="147" r="9" fill="#5e6f36" fill-opacity="0.25"/><circle cx="124" cy="187" r="5" fill="#657739" fill-opacity="0.31"/><circle cx="308" cy="203" r="12" fill="#617237" fill-opacity="0.54"/><circle cx="471" cy="101" r="6" fill="#536431" fill-opacity="0.27"/><circle cx="199" cy="183" r="10" fill="#586933" fill-opacity="0.34"/><circle cx="437" cy="150" r="8" fill="#617237" fill-opacity="0.27"/><circle cx="218" cy="116" r="10" fill="#536331" fill-opacity="0.47"/><circle cx="311" cy="104" r="6" fill="#526231" fill-opacity="0.29"/><circle cx="270" cy="134" r="11" fill="#516130" fill-opacity="0.40"/><circle cx="109" cy="137" r="11" fill="#576833" fill-opacity="0.39"/><circle cx="396" cy="149" r="8" fill="#546431" fill-opacity="0.36"/><circle cx="348" cy="155" r="6" fill="#576733" fill-opacity="0.48"/><circle cx="409" cy="118" r="7" fill="#5c6d35" fill-opacity="0.48"/><circle cx="359" cy="177" r="9" fill="#566733" fill-opacity="0.45"/><circle cx="427" cy="114" r="10" fill="#647638" fill-opacity="0.36"/><circle cx="327" cy="200" r="9" fill="#637438" fill-opacity="0.44"/><circle cx="79" cy="147" r="5" fill="#536331" fill-opacity="0.35"/><circle cx="76" cy="146" r="9" fill="#5e6f36" fill-opacity="0.32"/><circle cx="246" cy="95" r="6" fill="#647638" fill-opacity="0.36"/><circle cx="77" cy="186" r="9" fill="#586933" fill-opacity="0.42"/><circle cx="505" cy="184" r="11" fill="#506030" fill-opacity="0.28"/><circle cx="320" cy="186" r="9" fill="#657739" fill-opacity="0.36"/><circle cx="259" cy="81" r="12" fill="#596a34" fill-opacity="0.54"/><circle cx="480" cy="181" r="12" fill="#5c6d35" fill-opacity="0.37"/><circle cx="286" cy="97" r="6" fill="#5f7036" fill-opacity="0.38"/><circle cx="66" cy="164" r="12" fill="#637438" fill-opacity="0.32"/><circle cx="410" cy="101" r="7" fill="#576833" fill-opacity="0.41"/><circle cx="274" cy="117" r="9" fill="#516130" fill-opacity="0.33"/><circle cx="468" cy="167" r="10" fill="#5a6b34" fill-opacity="0.42"/><circle cx="386" cy="191" r="11" fill="#596a34" fill-opacity="0.37"/><circle cx="452" cy="73" r="11" fill="#526231" fill-opacity="0.50"/><circle cx="380" cy="137" r="10" fill="#667839" fill-opacity="0.29"/><circle cx="280" cy="168" r="7" fill="#546432" fill-opacity="0.43"/><circle cx="519" cy="209" r="11" fill="#556632" fill-opacity="0.44"/><circle cx="498" cy="212" r="7" fill="#667839" fill-opacity="0.29"/><circle cx="341" cy="132" r="9" fill="#516130" fill-opacity="0.28"/><circle cx="464" cy="56" r="7" fill="#5e7036" fill-opacity="0.40"/><circle cx="492" cy="121" r="10" fill="#546432" fill-opacity="0.44"/><circle cx="315" cy="188" r="9" fill="#566733" fill-opacity="0.48"/><circle cx="99" cy="200" r="6" fill="#5e6f36" fill-opacity="0.32"/><circle cx="463" cy="150" r="11" fill="#516130" fill-opacity="0.47"/><circle cx="498" cy="204" r="6" fill="#67793a" fill-opacity="0.45"/><circle cx="213" cy="186" r="8" fill="#536431" fill-opacity="0.50"/><circle cx="298" cy="180" r="10" fill="#596a34" fill-opacity="0.28"/><circle cx="345" cy="136" r="6" fill="#546432" fill-opacity="0.30"/><circle cx="228" cy="104" r="7" fill="#627337" fill-opacity="0.47"/><circle cx="418" cy="131" r="9" fill="#687a3a" fill-opacity="0.41"/><circle cx="177" cy="130" r="5" fill="#516130" fill-opacity="0.54"/><circle cx="143" cy="157" r="9" fill="#526231" fill-opacity="0.34"/><circle cx="308" cy="151" r="8" fill="#5f7036" fill-opacity="0.47"/><circle cx="480" cy="103" r="11" fill="#556632" fill-opacity="0.28"/><circle cx="152" cy="97" r="6" fill="#5a6b34" fill-opacity="0.34"/><circle cx="383" cy="92" r="8" fill="#536331" fill-opacity="0.27"/><circle cx="371" cy="97" r="10" fill="#5d6e36" fill-opacity="0.26"/><circle cx="342" cy="82" r="8" fill="#586933" fill-opacity="0.25"/><circle cx="426" cy="52" r="11" fill="#5b6c35" fill-opacity="0.38"/><circle cx="435" cy="133" r="12" fill="#516130" fill-opacity="0.42"/><circle cx="319" cy="116" r="7" fill="#586934" fill-opacity="0.32"/><circle cx="451" cy="187" r="6" fill="#647638" fill-opacity="0.40"/><circle cx="152" cy="235" r="10" fill="#657639" fill-opacity="0.44"/><circle cx="428" cy="122" r="9" fill="#5e6f36" fill-opacity="0.31"/><circle cx="239" cy="106" r="7" fill="#596a34" fill-opacity="0.39"/><circle cx="427" cy="118" r="10" fill="#5d6e35" fill-opacity="0.34"/><circle cx="186" cy="213" r="10" fill="#607137" fill-opacity="0.54"/><circle cx="400" cy="185" r="9" fill="#667739" fill-opacity="0.32"/><circle cx="508" cy="167" r="5" fill="#596a34" fill-opacity="0.30"/><circle cx="479" cy="186" r="6" fill="#617237" fill-opacity="0.42"/><circle cx="389" cy="121" r="6" fill="#576833" fill-opacity="0.33"/><circle cx="505" cy="71" r="6" fill="#5e6f36" fill-opacity="0.43"/><circle cx="232" cy="144" r="10" fill="#526231" fill-opacity="0.37"/><circle cx="310" cy="121" r="9" fill="#596a34" fill-opacity="0.46"/><circle cx="410" cy="215" r="6" fill="#5b6c35" fill-opacity="0.36"/><circle cx="236" cy="98" r="10" fill="#637538" fill-opacity="0.42"/><circle cx="309" cy="124" r="6" fill="#596934" fill-opacity="0.49"/><circle cx="62" cy="227" r="5" fill="#566733" fill-opacity="0.39"/><circle cx="236" cy="160" r="7" fill="#67793a" fill-opacity="0.38"/><circle cx="376" cy="157" r="8" fill="#637438" fill-opacity="0.38"/><circle cx="357" cy="192" r="5" fill="#627438" fill-opacity="0.37"/><circle cx="160" cy="134" r="8" fill="#576733" fill-opacity="0.45"/><circle cx="467" cy="73" r="11" fill="#67793a" fill-opacity="0.43"/><circle cx="232" cy="229" r="9" fill="#67793a" fill-opacity="0.46"/><circle cx="356" cy="121" r="8" fill="#5e6f36" fill-opacity="0.54"/><circle cx="171" cy="174" r="9" fill="#627337" fill-opacity="0.29"/><circle cx="281" cy="211" r="10" fill="#5a6b34" fill-opacity="0.40"/><circle cx="341" cy="234" r="9" fill="#516130" fill-opacity="0.37"/><circle cx="485" cy="120" r="10" fill="#667839" fill-opacity="0.53"/><circle cx="514" cy="101" r="12" fill="#526231" fill-opacity="0.38"/><circle cx="399" cy="163" r="11" fill="#576833" fill-opacity="0.42"/><circle cx="442" cy="57" r="8" fill="#5e6f36" fill-opacity="0.31"/><circle cx="100" cy="112" r="12" fill="#566733" fill-opacity="0.33"/><circle cx="420" cy="220" r="11" fill="#5f7036" fill-opacity="0.37"/><circle cx="349" cy="86" r="11" fill="#5b6b34" fill-opacity="0.52"/><circle cx="78" cy="179" r="10" fill="#5f7036" fill-opacity="0.43"/><circle cx="470" cy="215" r="10" fill="#647638" fill-opacity="0.29"/><circle cx="407" cy="90" r="5" fill="#627438" fill-opacity="0.40"/><circle cx="475" cy="146" r="7" fill="#566733" fill-opacity="0.53"/><circle cx="286" cy="206" r="9" fill="#667839" fill-opacity="0.29"/><circle cx="183" cy="153" r="11" fill="#5d6e36" fill-opacity="0.45"/><circle cx="393" cy="90" r="7" fill="#526231" fill-opacity="0.27"/><circle cx="390" cy="131" r="5" fill="#576833" fill-opacity="0.30"/><circle cx="472" cy="157" r="8" fill="#556632" fill-opacity="0.26"/><circle cx="320" cy="98" r="9" fill="#667839" fill-opacity="0.53"/><circle cx="492" cy="146" r="11" fill="#5e6f36" fill-opacity="0.40"/><circle cx="191" cy="221" r="8" fill="#627438" fill-opacity="0.43"/><circle cx="380" cy="217" r="12" fill="#536331" fill-opacity="0.30"/><circle cx="108" cy="177" r="7" fill="#516131" fill-opacity="0.47"/><circle cx="116" cy="226" r="9" fill="#5f7136" fill-opacity="0.40"/><circle cx="121" cy="133" r="12" fill="#536331" fill-opacity="0.45"/><circle cx="408" cy="217" r="12" fill="#576833" fill-opacity="0.51"/><circle cx="364" cy="134" r="10" fill="#586933" fill-opacity="0.47"/><circle cx="426" cy="63" r="5" fill="#637538" fill-opacity="0.48"/><circle cx="306" cy="149" r="6" fill="#67793a" fill-opacity="0.51"/><circle cx="237" cy="194" r="7" fill="#506030" fill-opacity="0.45"/><circle cx="264" cy="205" r="7" fill="#647638" fill-opacity="0.29"/><circle cx="271" cy="138" r="8" fill="#5d6e35" fill-opacity="0.26"/><circle cx="377" cy="79" r="8" fill="#5a6b34" fill-opacity="0.26"/><circle cx="425" cy="132" r="10" fill="#657739" fill-opacity="0.46"/><circle cx="414" cy="72" r="11" fill="#596a34" fill-opacity="0.28"/><circle cx="339" cy="118" r="7" fill="#506030" fill-opacity="0.29"/><circle cx="340" cy="165" r="8" fill="#5b6b34" fill-opacity="0.50"/><circle cx="93" cy="165" r="10" fill="#5e6f36" fill-opacity="0.28"/><circle cx="396" cy="130" r="11" fill="#637438" fill-opacity="0.34"/><circle cx="296" cy="147" r="6" fill="#576733" fill-opacity="0.38"/><circle cx="93" cy="202" r="7" fill="#526231" fill-opacity="0.34"/><circle cx="488" cy="99" r="7" fill="#677939" fill-opacity="0.28"/><circle cx="374" cy="145" r="11" fill="#586933" fill-opacity="0.46"/><circle cx="291" cy="114" r="11" fill="#5e6f36" fill-opacity="0.39"/><circle cx="362" cy="186" r="8" fill="#536331" fill-opacity="0.38"/><circle cx="464" cy="103" r="9" fill="#5e6f36" fill-opacity="0.30"/><circle cx="265" cy="218" r="6" fill="#627438" fill-opacity="0.52"/><circle cx="348" cy="97" r="5" fill="#5b6c35" fill-opacity="0.30"/><circle cx="142" cy="148" r="9" fill="#536331" fill-opacity="0.52"/><circle cx="395" cy="144" r="6" fill="#5a6b34" fill-opacity="0.53"/><circle cx="261" cy="186" r="7" fill="#516130" fill-opacity="0.50"/><circle cx="363" cy="86" r="9" fill="#5c6d35" fill-opacity="0.52"/><circle cx="418" cy="103" r="9" fill="#546432" fill-opacity="0.53"/><circle cx="81" cy="155" r="9" fill="#516130" fill-opacity="0.32"/><circle cx="162" cy="143" r="6" fill="#556532" fill-opacity="0.55"/><circle cx="420" cy="89" r="7" fill="#526231" fill-opacity="0.30"/><circle cx="391" cy="153" r="7" fill="#647638" fill-opacity="0.51"/><circle cx="316" cy="123" r="7" fill="#516130" fill-opacity="0.33"/><circle cx="402" cy="180" r="8" fill="#586833" fill-opacity="0.44"/><circle cx="64" cy="178" r="5" fill="#576833" fill-opacity="0.32"/><circle cx="190" cy="217" r="11" fill="#536331" fill-opacity="0.43"/><circle cx="274" cy="167" r="10" fill="#586933" fill-opacity="0.39"/><circle cx="199" cy="171" r="10" fill="#576833" fill-opacity="0.33"/></g></g>
<g filter="url(#bl1)">
<circle cx="75" cy="218" r="7" fill="#5c6838"/>
<circle cx="102" cy="240" r="4" fill="#64963c"/>
<circle cx="90" cy="235" r="5" fill="#506032"/>
<circle cx="355" cy="150" r="5" fill="#6e8c3c"/>
<circle cx="320" cy="158" r="5" fill="#64823c"/>
<circle cx="470" cy="230" r="4" fill="#6e8c3c"/>
<circle cx="232" cy="28" r="3" fill="#5a6e32"/>
<circle cx="430" cy="22" r="3" fill="#5a7832"/>
<circle cx="318" cy="44" r="3" fill="#5a6e32"/>
<circle cx="250" cy="260" r="6" fill="#42502c"/>
<circle cx="430" cy="142" r="4" fill="#60823e"/>
<circle cx="520" cy="272" r="4" fill="#64823c"/>
<circle cx="135" cy="44" r="3" fill="#506432"/>
</g>
<g filter="url(#bl2)"><circle cx="142" cy="236" r="4.5" stroke="#7ed23a" stroke-width="2.6" fill="#55702e"/><circle cx="72" cy="219" r="6" stroke="#8a9a3c" stroke-width="2.4" fill="#4e5a34"/><circle cx="104" cy="241" r="4" stroke="#80b040" stroke-width="2" fill="#506a30"/></g>
<path d="M52.4 295.7V18.4H524" stroke="#9a9a9a" stroke-width="0.9"/>
</g>
<g clip-path="url(#ci2)"><g filter="url(#bl2)">
<g transform="translate(52,345.4) scale(8.2)" shape-rendering="crispEdges">
<path fill="#2a362a" d="M0 0h5v1h-5zM7 0h1v1h-1zM11 0h1v1h-1zM13 0h2v1h-2zM16 0h1v1h-1zM18 0h1v1h-1zM21 0h2v1h-2zM25 0h2v1h-2zM29 0h1v1h-1zM31 0h2v1h-2zM34 0h1v1h-1zM41 0h1v1h-1zM43 0h1v1h-1zM45 0h1v1h-1zM48 0h1v1h-1zM1 1h5v1h-5zM10 1h1v1h-1zM12 1h1v1h-1zM14 1h4v1h-4zM20 1h2v1h-2zM24 1h1v1h-1zM30 1h1v1h-1zM34 1h3v1h-3zM39 1h1v1h-1zM46 1h1v1h-1zM2 2h4v1h-4zM7 2h1v1h-1zM9 2h1v1h-1zM13 2h1v1h-1zM15 2h5v1h-5zM21 2h1v1h-1zM23 2h2v1h-2zM26 2h1v1h-1zM32 2h1v1h-1zM36 2h1v1h-1zM38 2h1v1h-1zM1 3h2v1h-2zM4 3h2v1h-2zM9 3h2v1h-2zM12 3h2v1h-2zM15 3h2v1h-2zM19 3h5v1h-5zM29 3h2v1h-2zM0 4h4v1h-4zM5 4h3v1h-3zM11 4h4v1h-4zM17 4h1v1h-1zM22 4h2v1h-2zM5 5h1v1h-1zM8 5h1v1h-1zM10 5h1v1h-1zM12 5h2v1h-2zM15 5h3v1h-3zM7 6h2v1h-2zM10 6h2v1h-2zM1 7h1v1h-1zM54 25h1v1h-1zM49 26h1v1h-1zM52 26h1v1h-1zM55 26h2v1h-2zM43 27h2v1h-2zM49 27h3v1h-3zM55 27h3v1h-3zM37 28h4v1h-4zM43 28h1v1h-1zM48 28h1v1h-1zM54 28h1v1h-1zM57 28h1v1h-1zM29 29h1v1h-1zM31 29h2v1h-2zM34 29h1v1h-1zM37 29h1v1h-1zM40 29h1v1h-1zM43 29h3v1h-3zM48 29h2v1h-2zM52 29h5v1h-5zM24 30h2v1h-2zM28 30h2v1h-2zM36 30h2v1h-2zM40 30h4v1h-4zM45 30h1v1h-1zM47 30h3v1h-3zM52 30h3v1h-3zM56 30h1v1h-1zM14 31h1v1h-1zM16 31h2v1h-2zM20 31h1v1h-1zM23 31h1v1h-1zM28 31h1v1h-1zM30 31h1v1h-1zM34 31h1v1h-1zM36 31h1v1h-1zM40 31h1v1h-1zM44 31h1v1h-1zM47 31h1v1h-1zM50 31h3v1h-3zM55 31h2v1h-2zM4 32h1v1h-1zM13 32h3v1h-3zM17 32h3v1h-3zM21 32h4v1h-4zM31 32h1v1h-1zM35 32h1v1h-1zM37 32h2v1h-2zM40 32h1v1h-1zM43 32h3v1h-3zM47 32h2v1h-2zM50 32h6v1h-6zM57 32h1v1h-1zM3 33h1v1h-1zM6 33h3v1h-3zM10 33h3v1h-3zM14 33h2v1h-2zM17 33h4v1h-4zM23 33h1v1h-1zM25 33h3v1h-3zM30 33h5v1h-5zM36 33h1v1h-1zM40 33h6v1h-6zM47 33h9v1h-9zM0 34h2v1h-2zM3 34h4v1h-4zM10 34h2v1h-2zM13 34h2v1h-2zM17 34h2v1h-2zM20 34h1v1h-1zM24 34h1v1h-1zM27 34h2v1h-2zM30 34h1v1h-1zM32 34h2v1h-2zM38 34h2v1h-2zM41 34h1v1h-1zM43 34h3v1h-3zM49 34h3v1h-3zM53 34h4v1h-4z"/>
<path fill="#2a2a2a" d="M5 0h2v1h-2zM8 0h3v1h-3zM17 0h1v1h-1zM19 0h2v1h-2zM23 0h2v1h-2zM27 0h1v1h-1zM35 0h1v1h-1zM42 0h1v1h-1zM47 0h1v1h-1zM0 1h1v1h-1zM6 1h1v1h-1zM8 1h1v1h-1zM11 1h1v1h-1zM13 1h1v1h-1zM19 1h1v1h-1zM22 1h1v1h-1zM25 1h1v1h-1zM27 1h1v1h-1zM33 1h1v1h-1zM37 1h2v1h-2zM0 2h2v1h-2zM6 2h1v1h-1zM8 2h1v1h-1zM11 2h1v1h-1zM14 2h1v1h-1zM20 2h1v1h-1zM22 2h1v1h-1zM25 2h1v1h-1zM33 2h1v1h-1zM0 3h1v1h-1zM3 3h1v1h-1zM6 3h1v1h-1zM8 3h1v1h-1zM11 3h1v1h-1zM14 3h1v1h-1zM25 3h1v1h-1zM8 4h3v1h-3zM15 4h1v1h-1zM19 4h1v1h-1zM21 4h1v1h-1zM0 5h1v1h-1zM2 5h3v1h-3zM7 5h1v1h-1zM9 5h1v1h-1zM11 5h1v1h-1zM14 5h1v1h-1zM1 6h1v1h-1zM3 6h4v1h-4zM0 7h1v1h-1zM51 26h1v1h-1zM54 26h1v1h-1zM57 26h1v1h-1zM42 27h1v1h-1zM48 27h1v1h-1zM53 27h2v1h-2zM41 28h2v1h-2zM45 28h1v1h-1zM47 28h1v1h-1zM49 28h5v1h-5zM55 28h1v1h-1zM33 29h1v1h-1zM36 29h1v1h-1zM39 29h1v1h-1zM42 29h1v1h-1zM46 29h2v1h-2zM33 30h3v1h-3zM39 30h1v1h-1zM44 30h1v1h-1zM46 30h1v1h-1zM55 30h1v1h-1zM57 30h1v1h-1zM25 31h1v1h-1zM29 31h1v1h-1zM31 31h2v1h-2zM37 31h2v1h-2zM41 31h2v1h-2zM46 31h1v1h-1zM49 31h1v1h-1zM53 31h2v1h-2zM57 31h1v1h-1zM12 32h1v1h-1zM16 32h1v1h-1zM27 32h2v1h-2zM32 32h1v1h-1zM34 32h1v1h-1zM36 32h1v1h-1zM39 32h1v1h-1zM41 32h2v1h-2zM46 32h1v1h-1zM49 32h1v1h-1zM5 33h1v1h-1zM16 33h1v1h-1zM22 33h1v1h-1zM24 33h1v1h-1zM28 33h2v1h-2zM35 33h1v1h-1zM37 33h3v1h-3zM56 33h2v1h-2zM7 34h1v1h-1zM12 34h1v1h-1zM15 34h2v1h-2zM19 34h1v1h-1zM21 34h1v1h-1zM23 34h1v1h-1zM26 34h1v1h-1zM31 34h1v1h-1zM35 34h3v1h-3zM40 34h1v1h-1zM42 34h1v1h-1zM46 34h1v1h-1zM57 34h1v1h-1z"/>
<path fill="#363636" d="M12 0h1v1h-1zM36 0h1v1h-1zM23 1h1v1h-1zM47 1h1v1h-1zM39 2h1v1h-1zM18 3h1v1h-1zM31 3h1v1h-1zM34 3h1v1h-1zM4 4h1v1h-1zM19 5h1v1h-1zM9 6h1v1h-1zM2 7h1v1h-1zM4 7h1v1h-1zM53 25h1v1h-1zM55 25h1v1h-1zM47 26h1v1h-1zM50 26h1v1h-1zM53 26h1v1h-1zM40 27h1v1h-1zM45 27h3v1h-3zM52 27h1v1h-1zM27 28h1v1h-1zM30 28h4v1h-4zM36 28h1v1h-1zM44 28h1v1h-1zM56 28h1v1h-1zM19 29h1v1h-1zM27 29h1v1h-1zM35 29h1v1h-1zM38 29h1v1h-1zM50 29h2v1h-2zM57 29h1v1h-1zM17 30h1v1h-1zM26 30h2v1h-2zM30 30h2v1h-2zM51 30h1v1h-1zM15 31h1v1h-1zM18 31h2v1h-2zM21 31h1v1h-1zM24 31h1v1h-1zM26 31h2v1h-2zM33 31h1v1h-1zM35 31h1v1h-1zM45 31h1v1h-1zM48 31h1v1h-1zM7 32h1v1h-1zM9 32h1v1h-1zM11 32h1v1h-1zM20 32h1v1h-1zM25 32h2v1h-2zM29 32h2v1h-2zM33 32h1v1h-1zM56 32h1v1h-1zM1 33h1v1h-1zM9 33h1v1h-1zM13 33h1v1h-1zM2 34h1v1h-1zM8 34h1v1h-1zM22 34h1v1h-1zM25 34h1v1h-1zM48 34h1v1h-1z"/>
<path fill="#2a422a" d="M15 0h1v1h-1zM30 0h1v1h-1zM33 0h1v1h-1zM37 0h2v1h-2zM44 0h1v1h-1zM49 0h1v1h-1zM52 0h1v1h-1zM7 1h1v1h-1zM18 1h1v1h-1zM26 1h1v1h-1zM31 1h2v1h-2zM40 1h2v1h-2zM44 1h2v1h-2zM12 2h1v1h-1zM27 2h4v1h-4zM34 2h2v1h-2zM37 2h1v1h-1zM24 3h1v1h-1zM26 3h3v1h-3zM16 4h1v1h-1zM18 4h1v1h-1zM20 4h1v1h-1zM6 5h1v1h-1zM18 5h1v1h-1zM0 6h1v1h-1zM2 6h1v1h-1zM56 25h2v1h-2zM46 28h1v1h-1zM28 29h1v1h-1zM41 29h1v1h-1zM20 30h1v1h-1zM32 30h1v1h-1zM3 32h1v1h-1zM10 32h1v1h-1zM2 33h1v1h-1zM9 34h1v1h-1zM47 34h1v1h-1zM52 34h1v1h-1z"/>
<path fill="#2a3636" d="M28 0h1v1h-1zM9 1h1v1h-1zM7 3h1v1h-1zM1 5h1v1h-1z"/>
<path fill="#2a4e2a" d="M39 0h2v1h-2zM46 0h1v1h-1zM51 0h1v1h-1zM29 1h1v1h-1zM42 1h1v1h-1zM31 2h1v1h-1zM25 4h1v1h-1zM21 5h1v1h-1zM5 32h1v1h-1z"/>
<path fill="#364236" d="M50 0h1v1h-1zM53 0h1v1h-1zM55 0h1v1h-1zM24 4h1v1h-1zM26 4h1v1h-1zM13 6h1v1h-1zM3 7h1v1h-1zM7 7h1v1h-1zM52 24h1v1h-1zM57 24h1v1h-1zM49 25h1v1h-1zM52 25h1v1h-1zM46 26h1v1h-1zM37 27h1v1h-1zM29 28h1v1h-1zM34 28h2v1h-2zM23 29h4v1h-4zM21 30h3v1h-3zM11 31h3v1h-3zM1 32h2v1h-2zM6 32h1v1h-1zM8 32h1v1h-1zM0 33h1v1h-1zM4 33h1v1h-1z"/>
<path fill="#364e36" d="M54 0h1v1h-1zM48 1h1v1h-1zM40 2h1v1h-1zM42 2h1v1h-1zM35 3h1v1h-1zM28 4h1v1h-1zM12 6h1v1h-1zM5 7h2v1h-2zM8 7h1v1h-1zM57 23h1v1h-1zM56 24h1v1h-1zM48 25h1v1h-1zM50 25h1v1h-1zM42 26h1v1h-1zM45 26h1v1h-1zM30 27h1v1h-1zM38 27h2v1h-2zM28 28h1v1h-1zM17 29h1v1h-1zM19 30h1v1h-1zM3 31h1v1h-1zM10 31h1v1h-1z"/>
<path fill="#424e42" d="M56 0h1v1h-1zM50 1h1v1h-1zM37 3h1v1h-1zM53 3h1v1h-1zM45 4h1v1h-1zM20 6h1v1h-1zM50 7h1v1h-1zM54 8h1v1h-1zM15 9h1v1h-1zM23 9h1v1h-1zM43 9h1v1h-1zM45 9h1v1h-1zM47 9h1v1h-1zM8 10h1v1h-1zM54 10h1v1h-1zM9 11h1v1h-1zM23 11h1v1h-1zM45 11h1v1h-1zM47 11h1v1h-1zM50 11h1v1h-1zM3 12h1v1h-1zM27 12h1v1h-1zM29 12h1v1h-1zM31 12h1v1h-1zM33 12h1v1h-1zM37 12h1v1h-1zM47 12h1v1h-1zM0 13h1v1h-1zM4 13h1v1h-1zM23 13h1v1h-1zM32 13h1v1h-1zM38 13h1v1h-1zM2 14h2v1h-2zM24 15h1v1h-1zM13 16h1v1h-1zM5 17h1v1h-1zM23 17h1v1h-1zM20 18h1v1h-1zM23 18h1v1h-1zM57 18h1v1h-1zM36 19h1v1h-1zM41 19h1v1h-1zM57 19h1v1h-1zM37 20h1v1h-1zM54 21h1v1h-1zM51 22h1v1h-1zM2 23h1v1h-1zM8 23h1v1h-1zM26 23h1v1h-1zM32 23h1v1h-1zM47 23h1v1h-1zM49 23h1v1h-1zM31 24h1v1h-1zM43 24h1v1h-1zM45 24h1v1h-1zM51 24h1v1h-1zM18 25h1v1h-1zM51 25h1v1h-1zM5 26h1v1h-1zM21 26h1v1h-1zM38 26h1v1h-1zM40 26h1v1h-1zM43 26h1v1h-1zM13 27h1v1h-1zM36 27h1v1h-1zM19 28h1v1h-1zM22 28h1v1h-1zM26 28h1v1h-1zM8 29h1v1h-1zM13 29h1v1h-1zM18 29h1v1h-1zM20 29h1v1h-1zM22 29h1v1h-1zM11 30h1v1h-1zM15 30h1v1h-1zM8 31h1v1h-1z"/>
<path fill="#666666" d="M57 0h1v1h-1zM43 4h1v1h-1zM4 8h1v1h-1zM36 11h1v1h-1zM18 12h1v1h-1zM5 14h1v1h-1zM27 15h1v1h-1zM32 16h1v1h-1zM8 21h1v1h-1zM11 21h1v1h-1zM15 22h1v1h-1zM33 23h1v1h-1zM16 24h1v1h-1z"/>
<path fill="#2a4236" d="M28 1h1v1h-1z"/>
<path fill="#2a4e36" d="M43 1h1v1h-1zM18 30h1v1h-1z"/>
<path fill="#424242" d="M49 1h1v1h-1zM53 1h1v1h-1zM33 3h1v1h-1zM41 3h1v1h-1zM36 4h1v1h-1zM38 4h1v1h-1zM20 5h1v1h-1zM26 5h1v1h-1zM33 5h1v1h-1zM27 6h1v1h-1zM44 6h1v1h-1zM46 6h1v1h-1zM0 8h1v1h-1zM3 8h1v1h-1zM37 8h1v1h-1zM2 10h1v1h-1zM57 11h1v1h-1zM34 12h1v1h-1zM5 13h1v1h-1zM33 16h1v1h-1zM14 17h1v1h-1zM33 18h1v1h-1zM45 20h1v1h-1zM31 21h1v1h-1zM56 21h1v1h-1zM22 23h1v1h-1zM22 24h1v1h-1zM46 24h1v1h-1zM13 25h1v1h-1zM39 25h1v1h-1zM44 25h1v1h-1zM44 26h1v1h-1zM34 27h2v1h-2zM24 28h1v1h-1zM21 29h1v1h-1zM13 30h1v1h-1zM16 30h1v1h-1zM4 31h1v1h-1zM9 31h1v1h-1z"/>
<path fill="#4e4e4e" d="M51 1h1v1h-1zM47 2h1v1h-1zM50 2h1v1h-1zM53 2h1v1h-1zM57 2h1v1h-1zM32 3h1v1h-1zM37 4h1v1h-1zM44 4h1v1h-1zM47 4h1v1h-1zM50 4h1v1h-1zM29 5h1v1h-1zM43 5h1v1h-1zM54 5h1v1h-1zM56 5h1v1h-1zM18 6h1v1h-1zM10 7h2v1h-2zM13 7h1v1h-1zM18 7h1v1h-1zM30 7h1v1h-1zM38 7h1v1h-1zM47 7h1v1h-1zM53 7h1v1h-1zM2 8h1v1h-1zM5 8h1v1h-1zM17 8h1v1h-1zM29 8h1v1h-1zM32 8h1v1h-1zM34 8h1v1h-1zM36 8h1v1h-1zM38 8h2v1h-2zM50 8h1v1h-1zM57 8h1v1h-1zM11 9h1v1h-1zM22 9h1v1h-1zM30 9h1v1h-1zM39 9h2v1h-2zM53 9h1v1h-1zM10 10h1v1h-1zM17 10h1v1h-1zM40 10h1v1h-1zM46 10h1v1h-1zM48 10h1v1h-1zM16 11h1v1h-1zM35 11h1v1h-1zM42 11h1v1h-1zM53 11h1v1h-1zM1 12h1v1h-1zM13 12h1v1h-1zM38 12h1v1h-1zM1 13h1v1h-1zM12 13h1v1h-1zM21 13h1v1h-1zM57 13h1v1h-1zM0 14h1v1h-1zM44 14h1v1h-1zM2 15h1v1h-1zM7 15h1v1h-1zM21 15h1v1h-1zM3 16h1v1h-1zM11 16h1v1h-1zM22 16h1v1h-1zM30 16h1v1h-1zM50 16h1v1h-1zM52 16h1v1h-1zM1 17h1v1h-1zM6 17h1v1h-1zM15 17h1v1h-1zM25 17h3v1h-3zM36 17h1v1h-1zM41 17h2v1h-2zM3 18h1v1h-1zM35 18h1v1h-1zM42 18h1v1h-1zM44 18h1v1h-1zM54 18h1v1h-1zM56 18h1v1h-1zM3 19h1v1h-1zM10 19h2v1h-2zM18 19h1v1h-1zM25 19h1v1h-1zM30 19h2v1h-2zM37 19h1v1h-1zM51 19h2v1h-2zM2 20h1v1h-1zM10 20h1v1h-1zM17 20h1v1h-1zM23 20h1v1h-1zM27 20h1v1h-1zM36 20h1v1h-1zM38 20h1v1h-1zM40 20h1v1h-1zM53 20h2v1h-2zM2 21h1v1h-1zM5 21h1v1h-1zM17 21h1v1h-1zM34 21h1v1h-1zM37 21h2v1h-2zM41 21h3v1h-3zM48 21h1v1h-1zM51 21h1v1h-1zM13 22h1v1h-1zM20 22h1v1h-1zM24 22h1v1h-1zM44 22h1v1h-1zM56 22h1v1h-1zM12 23h3v1h-3zM25 23h1v1h-1zM0 24h1v1h-1zM14 24h1v1h-1zM23 24h1v1h-1zM15 25h1v1h-1zM25 25h1v1h-1zM33 25h1v1h-1zM42 25h1v1h-1zM45 25h1v1h-1zM1 26h1v1h-1zM18 26h2v1h-2zM16 27h1v1h-1zM2 28h1v1h-1zM18 28h1v1h-1zM5 29h1v1h-1zM15 29h2v1h-2zM3 30h2v1h-2zM6 30h1v1h-1zM9 30h1v1h-1zM0 31h1v1h-1z"/>
<path fill="#366636" d="M52 1h1v1h-1zM45 2h1v1h-1zM55 2h1v1h-1zM40 3h1v1h-1zM51 3h1v1h-1zM56 3h1v1h-1zM32 4h2v1h-2zM49 4h1v1h-1zM36 5h1v1h-1zM38 5h1v1h-1zM46 5h1v1h-1zM17 6h1v1h-1zM29 6h1v1h-1zM42 6h1v1h-1zM51 6h1v1h-1zM55 6h1v1h-1zM14 7h1v1h-1zM34 7h1v1h-1zM36 7h1v1h-1zM11 8h1v1h-1zM13 8h1v1h-1zM22 8h1v1h-1zM33 8h1v1h-1zM35 8h1v1h-1zM45 8h1v1h-1zM48 9h2v1h-2zM0 10h1v1h-1zM4 10h2v1h-2zM12 10h1v1h-1zM23 10h1v1h-1zM29 10h1v1h-1zM43 10h1v1h-1zM56 10h1v1h-1zM30 11h1v1h-1zM38 11h1v1h-1zM40 11h1v1h-1zM54 11h1v1h-1zM14 12h1v1h-1zM23 12h1v1h-1zM39 12h3v1h-3zM3 13h1v1h-1zM41 13h1v1h-1zM52 13h1v1h-1zM55 14h1v1h-1zM57 14h1v1h-1zM6 15h1v1h-1zM26 15h1v1h-1zM29 15h1v1h-1zM41 15h1v1h-1zM50 15h1v1h-1zM52 15h1v1h-1zM39 16h1v1h-1zM31 17h1v1h-1zM47 17h1v1h-1zM56 17h1v1h-1zM2 18h1v1h-1zM32 18h1v1h-1zM39 18h1v1h-1zM45 18h1v1h-1zM15 19h1v1h-1zM34 19h1v1h-1zM46 19h1v1h-1zM48 19h2v1h-2zM8 20h1v1h-1zM16 20h1v1h-1zM33 20h1v1h-1zM42 20h1v1h-1zM47 20h1v1h-1zM50 20h1v1h-1zM12 21h1v1h-1zM21 21h1v1h-1zM0 22h1v1h-1zM21 22h1v1h-1zM47 22h1v1h-1zM55 22h1v1h-1zM24 23h1v1h-1zM30 23h1v1h-1zM40 23h1v1h-1zM45 23h1v1h-1zM51 23h1v1h-1zM53 23h1v1h-1zM55 23h1v1h-1zM6 24h1v1h-1zM26 24h1v1h-1zM30 24h1v1h-1zM47 24h1v1h-1zM14 25h1v1h-1zM27 25h1v1h-1zM25 26h1v1h-1zM34 26h1v1h-1zM36 26h1v1h-1zM17 27h1v1h-1zM26 27h1v1h-1zM0 28h1v1h-1zM23 28h1v1h-1zM25 28h1v1h-1zM5 31h1v1h-1z"/>
<path fill="#4e424e" d="M54 1h1v1h-1zM6 9h1v1h-1zM34 10h1v1h-1zM49 11h1v1h-1zM9 12h1v1h-1zM51 12h1v1h-1zM56 14h1v1h-1zM48 17h1v1h-1zM18 21h1v1h-1zM25 21h1v1h-1zM30 22h1v1h-1zM38 22h1v1h-1zM1 23h1v1h-1z"/>
<path fill="#5a5a5a" d="M55 1h1v1h-1zM48 3h1v1h-1zM52 4h1v1h-1zM28 5h1v1h-1zM37 5h1v1h-1zM39 5h1v1h-1zM26 6h1v1h-1zM45 6h1v1h-1zM20 7h1v1h-1zM39 7h1v1h-1zM46 7h1v1h-1zM52 7h1v1h-1zM54 7h2v1h-2zM8 8h1v1h-1zM47 8h1v1h-1zM9 9h2v1h-2zM31 9h1v1h-1zM1 10h1v1h-1zM22 10h1v1h-1zM28 10h1v1h-1zM39 10h1v1h-1zM1 11h1v1h-1zM3 11h2v1h-2zM13 11h2v1h-2zM18 11h1v1h-1zM39 11h1v1h-1zM41 11h1v1h-1zM43 11h1v1h-1zM56 11h1v1h-1zM52 12h1v1h-1zM56 12h1v1h-1zM2 13h1v1h-1zM13 13h1v1h-1zM15 13h1v1h-1zM36 13h2v1h-2zM47 13h1v1h-1zM49 13h1v1h-1zM56 13h1v1h-1zM4 14h1v1h-1zM8 14h2v1h-2zM13 14h1v1h-1zM26 14h1v1h-1zM28 14h1v1h-1zM34 14h1v1h-1zM36 14h1v1h-1zM45 14h1v1h-1zM51 14h1v1h-1zM1 15h1v1h-1zM22 15h2v1h-2zM47 15h1v1h-1zM54 15h1v1h-1zM57 15h1v1h-1zM8 16h2v1h-2zM16 16h1v1h-1zM19 16h1v1h-1zM34 16h1v1h-1zM37 16h1v1h-1zM54 16h1v1h-1zM56 16h1v1h-1zM4 17h1v1h-1zM8 17h1v1h-1zM13 17h1v1h-1zM16 17h1v1h-1zM37 17h1v1h-1zM51 17h1v1h-1zM4 18h1v1h-1zM6 18h1v1h-1zM8 18h1v1h-1zM27 18h1v1h-1zM1 19h1v1h-1zM12 19h1v1h-1zM17 19h1v1h-1zM20 19h1v1h-1zM22 19h1v1h-1zM24 19h1v1h-1zM42 19h2v1h-2zM53 19h1v1h-1zM1 20h1v1h-1zM6 20h2v1h-2zM20 20h1v1h-1zM22 20h1v1h-1zM26 20h1v1h-1zM31 20h1v1h-1zM34 20h1v1h-1zM0 21h1v1h-1zM24 21h1v1h-1zM26 21h1v1h-1zM47 21h1v1h-1zM53 21h1v1h-1zM5 22h1v1h-1zM10 22h1v1h-1zM17 22h2v1h-2zM34 22h1v1h-1zM41 22h1v1h-1zM52 22h1v1h-1zM7 23h1v1h-1zM27 23h1v1h-1zM28 24h1v1h-1zM17 25h1v1h-1zM22 25h1v1h-1zM24 25h1v1h-1zM30 25h1v1h-1zM40 25h1v1h-1zM2 26h1v1h-1zM13 26h1v1h-1zM27 26h1v1h-1zM2 27h1v1h-1zM23 27h1v1h-1zM1 28h1v1h-1zM0 30h1v1h-1zM7 31h1v1h-1z"/>
<path fill="#4e664e" d="M56 1h1v1h-1zM48 2h1v1h-1zM52 2h1v1h-1zM54 2h1v1h-1zM43 3h1v1h-1zM57 3h1v1h-1zM57 4h1v1h-1zM51 5h1v1h-1zM53 5h1v1h-1zM41 6h1v1h-1zM12 7h1v1h-1zM17 7h1v1h-1zM51 7h1v1h-1zM14 8h1v1h-1zM53 8h1v1h-1zM4 9h1v1h-1zM32 9h1v1h-1zM57 9h1v1h-1zM25 10h1v1h-1zM50 10h1v1h-1zM2 11h1v1h-1zM32 11h1v1h-1zM2 12h1v1h-1zM19 12h1v1h-1zM26 12h1v1h-1zM53 12h1v1h-1zM57 12h1v1h-1zM11 13h1v1h-1zM16 13h1v1h-1zM17 14h1v1h-1zM19 14h1v1h-1zM46 14h1v1h-1zM15 15h1v1h-1zM18 15h1v1h-1zM49 15h1v1h-1zM45 16h1v1h-1zM55 16h1v1h-1zM7 17h1v1h-1zM33 17h1v1h-1zM11 18h1v1h-1zM41 18h1v1h-1zM19 19h1v1h-1zM35 19h1v1h-1zM11 20h1v1h-1zM30 20h1v1h-1zM3 21h1v1h-1zM7 21h1v1h-1zM20 21h1v1h-1zM22 21h1v1h-1zM6 22h1v1h-1zM14 22h1v1h-1zM16 22h1v1h-1zM25 22h1v1h-1zM32 22h1v1h-1zM31 23h1v1h-1zM35 23h1v1h-1zM42 23h1v1h-1zM48 23h1v1h-1zM36 24h3v1h-3zM23 25h1v1h-1zM34 25h1v1h-1zM46 25h1v1h-1zM29 26h1v1h-1zM31 26h1v1h-1zM20 27h1v1h-1zM7 28h1v1h-1zM12 28h1v1h-1z"/>
<path fill="#4e724e" d="M57 1h1v1h-1zM54 9h1v1h-1zM53 14h1v1h-1zM28 16h1v1h-1zM54 17h1v1h-1zM22 18h1v1h-1zM53 24h1v1h-1zM37 25h1v1h-1zM23 26h1v1h-1z"/>
<path fill="#362a36" d="M10 2h1v1h-1zM30 29h1v1h-1zM38 30h1v1h-1zM50 30h1v1h-1zM22 31h1v1h-1zM39 31h1v1h-1zM43 31h1v1h-1zM21 33h1v1h-1zM46 33h1v1h-1zM29 34h1v1h-1zM34 34h1v1h-1z"/>
<path fill="#365a42" d="M41 2h1v1h-1zM27 5h1v1h-1zM40 13h1v1h-1zM25 15h1v1h-1zM44 16h1v1h-1zM28 17h1v1h-1zM43 18h1v1h-1zM49 24h1v1h-1z"/>
<path fill="#365a36" d="M43 2h1v1h-1zM46 2h1v1h-1zM36 3h1v1h-1zM39 3h1v1h-1zM27 4h1v1h-1zM30 4h1v1h-1zM14 6h1v1h-1zM34 6h1v1h-1zM44 7h1v1h-1zM55 8h1v1h-1zM35 9h1v1h-1zM6 10h1v1h-1zM10 13h1v1h-1zM22 13h1v1h-1zM24 13h1v1h-1zM51 13h1v1h-1zM12 18h1v1h-1zM14 18h1v1h-1zM38 18h1v1h-1zM44 19h1v1h-1zM41 20h1v1h-1zM44 20h1v1h-1zM55 20h1v1h-1zM37 23h1v1h-1zM48 24h1v1h-1zM54 24h1v1h-1zM7 25h1v1h-1zM37 26h1v1h-1zM39 26h1v1h-1zM41 26h1v1h-1zM1 27h1v1h-1zM5 27h1v1h-1zM29 27h1v1h-1zM33 27h1v1h-1zM3 29h1v1h-1zM12 30h1v1h-1zM14 30h1v1h-1zM1 31h1v1h-1zM0 32h1v1h-1z"/>
<path fill="#426642" d="M44 2h1v1h-1zM51 2h1v1h-1zM38 3h1v1h-1zM44 3h1v1h-1zM46 3h2v1h-2zM50 3h1v1h-1zM55 3h1v1h-1zM31 4h1v1h-1zM41 4h2v1h-2zM32 5h1v1h-1zM40 5h2v1h-2zM49 5h2v1h-2zM55 5h1v1h-1zM19 6h1v1h-1zM32 6h1v1h-1zM49 6h1v1h-1zM16 7h1v1h-1zM27 7h2v1h-2zM31 7h1v1h-1zM12 8h1v1h-1zM15 8h2v1h-2zM26 8h1v1h-1zM28 8h1v1h-1zM49 8h1v1h-1zM12 9h1v1h-1zM14 9h1v1h-1zM17 9h1v1h-1zM34 9h1v1h-1zM42 9h1v1h-1zM13 10h1v1h-1zM55 10h1v1h-1zM57 10h1v1h-1zM20 11h1v1h-1zM33 11h1v1h-1zM44 11h1v1h-1zM42 12h2v1h-2zM46 12h1v1h-1zM35 13h1v1h-1zM43 13h1v1h-1zM46 13h1v1h-1zM50 13h1v1h-1zM53 13h1v1h-1zM14 14h1v1h-1zM23 14h1v1h-1zM38 14h1v1h-1zM41 14h1v1h-1zM48 14h3v1h-3zM5 15h1v1h-1zM12 15h1v1h-1zM16 15h1v1h-1zM30 15h1v1h-1zM33 15h1v1h-1zM46 15h1v1h-1zM56 15h1v1h-1zM5 16h1v1h-1zM14 16h1v1h-1zM21 16h1v1h-1zM57 17h1v1h-1zM13 18h1v1h-1zM17 18h1v1h-1zM37 18h1v1h-1zM53 18h1v1h-1zM9 19h1v1h-1zM32 19h1v1h-1zM45 19h1v1h-1zM54 19h1v1h-1zM9 20h1v1h-1zM25 20h1v1h-1zM29 20h1v1h-1zM32 20h1v1h-1zM48 20h2v1h-2zM51 20h1v1h-1zM57 21h1v1h-1zM1 22h1v1h-1zM19 22h1v1h-1zM33 22h1v1h-1zM40 22h1v1h-1zM16 23h1v1h-1zM18 23h1v1h-1zM29 23h1v1h-1zM50 23h1v1h-1zM56 23h1v1h-1zM2 24h1v1h-1zM17 24h1v1h-1zM19 24h1v1h-1zM25 24h1v1h-1zM35 24h1v1h-1zM42 24h1v1h-1zM0 25h1v1h-1zM26 25h1v1h-1zM31 25h2v1h-2zM36 25h1v1h-1zM6 26h1v1h-1zM16 26h1v1h-1zM6 27h1v1h-1zM21 27h1v1h-1zM27 27h1v1h-1zM6 28h1v1h-1zM20 28h1v1h-1zM4 29h1v1h-1z"/>
<path fill="#5a665a" d="M49 2h1v1h-1zM49 3h1v1h-1zM48 4h1v1h-1zM48 5h1v1h-1zM52 5h1v1h-1zM48 6h1v1h-1zM54 6h1v1h-1zM42 8h1v1h-1zM50 9h1v1h-1zM56 9h1v1h-1zM9 10h1v1h-1zM18 10h1v1h-1zM26 11h1v1h-1zM28 11h1v1h-1zM37 11h1v1h-1zM55 11h1v1h-1zM24 12h1v1h-1zM10 14h1v1h-1zM10 16h1v1h-1zM55 17h1v1h-1zM48 18h1v1h-1zM27 19h1v1h-1zM13 20h1v1h-1zM6 21h1v1h-1zM3 22h1v1h-1zM46 22h1v1h-1zM50 22h1v1h-1zM2 25h1v1h-1z"/>
<path fill="#367236" d="M56 2h1v1h-1zM42 3h1v1h-1zM45 3h1v1h-1zM54 3h1v1h-1zM51 4h1v1h-1zM24 5h2v1h-2zM31 5h1v1h-1zM28 6h1v1h-1zM30 6h1v1h-1zM39 6h2v1h-2zM52 6h1v1h-1zM57 6h1v1h-1zM21 7h1v1h-1zM24 7h1v1h-1zM32 7h1v1h-1zM21 8h1v1h-1zM44 8h1v1h-1zM1 9h1v1h-1zM5 9h1v1h-1zM7 9h1v1h-1zM13 9h1v1h-1zM18 9h2v1h-2zM21 9h1v1h-1zM37 9h1v1h-1zM19 10h1v1h-1zM30 10h1v1h-1zM32 10h2v1h-2zM41 10h1v1h-1zM44 10h1v1h-1zM5 11h1v1h-1zM11 11h1v1h-1zM17 11h1v1h-1zM24 11h1v1h-1zM27 11h1v1h-1zM48 11h1v1h-1zM22 12h1v1h-1zM25 12h1v1h-1zM49 12h1v1h-1zM6 13h1v1h-1zM8 13h1v1h-1zM34 13h1v1h-1zM55 13h1v1h-1zM24 14h1v1h-1zM31 14h1v1h-1zM33 14h1v1h-1zM47 14h1v1h-1zM13 15h1v1h-1zM19 15h2v1h-2zM39 15h2v1h-2zM2 16h1v1h-1zM12 16h1v1h-1zM25 16h1v1h-1zM27 16h1v1h-1zM29 16h1v1h-1zM36 16h1v1h-1zM48 16h1v1h-1zM51 16h1v1h-1zM2 17h1v1h-1zM9 17h2v1h-2zM21 17h1v1h-1zM34 17h1v1h-1zM43 17h2v1h-2zM46 17h1v1h-1zM49 17h1v1h-1zM52 17h1v1h-1zM28 18h1v1h-1zM31 18h1v1h-1zM36 18h1v1h-1zM40 18h1v1h-1zM51 18h2v1h-2zM0 19h1v1h-1zM5 19h1v1h-1zM14 19h1v1h-1zM28 19h1v1h-1zM50 19h1v1h-1zM56 19h1v1h-1zM28 20h1v1h-1zM46 20h1v1h-1zM52 20h1v1h-1zM56 20h1v1h-1zM36 21h1v1h-1zM2 22h1v1h-1zM26 22h1v1h-1zM28 22h2v1h-2zM35 22h2v1h-2zM57 22h1v1h-1zM3 23h1v1h-1zM6 23h1v1h-1zM23 23h1v1h-1zM28 23h1v1h-1zM43 23h2v1h-2zM20 24h1v1h-1zM34 24h1v1h-1zM16 25h1v1h-1zM28 25h2v1h-2zM41 25h1v1h-1zM7 27h1v1h-1zM18 27h1v1h-1zM8 28h1v1h-1zM1 29h1v1h-1zM7 29h1v1h-1z"/>
<path fill="#2a1e2a" d="M17 3h1v1h-1z"/>
<path fill="#425a42" d="M52 3h1v1h-1zM29 4h1v1h-1zM54 4h1v1h-1zM45 5h1v1h-1zM47 5h1v1h-1zM23 6h1v1h-1zM35 6h1v1h-1zM37 6h1v1h-1zM47 6h1v1h-1zM56 6h1v1h-1zM26 7h1v1h-1zM33 7h1v1h-1zM42 7h1v1h-1zM48 7h1v1h-1zM20 8h1v1h-1zM27 8h1v1h-1zM48 8h1v1h-1zM51 8h1v1h-1zM36 9h1v1h-1zM55 9h1v1h-1zM49 10h1v1h-1zM15 11h1v1h-1zM34 11h1v1h-1zM16 12h1v1h-1zM44 12h1v1h-1zM54 12h1v1h-1zM44 13h2v1h-2zM6 14h1v1h-1zM11 14h1v1h-1zM37 14h1v1h-1zM52 14h1v1h-1zM17 15h1v1h-1zM28 15h1v1h-1zM35 15h1v1h-1zM42 15h4v1h-4zM53 15h1v1h-1zM1 16h1v1h-1zM6 16h1v1h-1zM17 16h1v1h-1zM24 16h1v1h-1zM35 16h1v1h-1zM41 16h2v1h-2zM50 17h1v1h-1zM1 18h1v1h-1zM5 18h1v1h-1zM16 18h1v1h-1zM29 18h1v1h-1zM8 19h1v1h-1zM16 19h1v1h-1zM5 20h1v1h-1zM24 20h1v1h-1zM35 20h1v1h-1zM27 21h2v1h-2zM30 21h1v1h-1zM33 21h1v1h-1zM44 21h2v1h-2zM49 21h1v1h-1zM22 22h2v1h-2zM39 22h1v1h-1zM43 22h1v1h-1zM45 22h1v1h-1zM29 24h1v1h-1zM41 24h1v1h-1zM55 24h1v1h-1zM4 25h1v1h-1zM35 25h1v1h-1zM43 25h1v1h-1zM22 26h1v1h-1zM32 26h1v1h-1zM35 26h1v1h-1zM0 27h1v1h-1zM24 27h1v1h-1zM28 27h1v1h-1zM32 27h1v1h-1zM3 28h2v1h-2zM11 28h1v1h-1zM0 29h1v1h-1zM8 30h1v1h-1zM10 30h1v1h-1z"/>
<path fill="#4e4242" d="M34 4h1v1h-1zM20 26h1v1h-1z"/>
<path fill="#5a4e5a" d="M35 4h1v1h-1zM36 6h1v1h-1zM43 7h1v1h-1zM52 8h1v1h-1zM46 9h1v1h-1zM53 10h1v1h-1zM7 13h1v1h-1zM48 13h1v1h-1zM27 14h1v1h-1zM54 14h1v1h-1zM37 15h1v1h-1zM46 16h1v1h-1zM53 16h1v1h-1zM19 17h1v1h-1zM46 18h1v1h-1zM55 18h1v1h-1zM47 19h1v1h-1zM21 20h1v1h-1zM43 20h1v1h-1zM39 21h1v1h-1zM49 22h1v1h-1zM24 24h1v1h-1zM32 24h1v1h-1zM15 27h1v1h-1z"/>
<path fill="#4e425a" d="M39 4h1v1h-1z"/>
<path fill="#4e5a4e" d="M40 4h1v1h-1zM55 4h1v1h-1zM25 6h1v1h-1zM50 6h1v1h-1zM37 7h1v1h-1zM57 7h1v1h-1zM10 8h1v1h-1zM31 8h1v1h-1zM40 8h2v1h-2zM43 8h1v1h-1zM46 8h1v1h-1zM3 9h1v1h-1zM8 9h1v1h-1zM16 9h1v1h-1zM38 9h1v1h-1zM52 9h1v1h-1zM21 10h1v1h-1zM36 10h1v1h-1zM47 10h1v1h-1zM21 11h1v1h-1zM25 11h1v1h-1zM4 12h1v1h-1zM7 12h1v1h-1zM20 12h2v1h-2zM30 12h1v1h-1zM35 12h1v1h-1zM45 12h1v1h-1zM48 12h1v1h-1zM55 12h1v1h-1zM17 13h1v1h-1zM54 13h1v1h-1zM12 14h1v1h-1zM15 14h1v1h-1zM39 14h1v1h-1zM43 14h1v1h-1zM32 15h1v1h-1zM34 15h1v1h-1zM38 16h1v1h-1zM43 16h1v1h-1zM49 16h1v1h-1zM11 17h1v1h-1zM32 17h1v1h-1zM40 17h1v1h-1zM53 17h1v1h-1zM7 18h1v1h-1zM25 18h1v1h-1zM34 18h1v1h-1zM47 18h1v1h-1zM4 19h1v1h-1zM6 19h1v1h-1zM38 19h2v1h-2zM55 19h1v1h-1zM15 20h1v1h-1zM57 20h1v1h-1zM16 21h1v1h-1zM23 21h1v1h-1zM40 21h1v1h-1zM50 21h1v1h-1zM52 21h1v1h-1zM55 21h1v1h-1zM9 22h1v1h-1zM0 23h1v1h-1zM10 23h1v1h-1zM17 23h1v1h-1zM39 23h1v1h-1zM52 23h1v1h-1zM54 23h1v1h-1zM1 24h1v1h-1zM13 24h1v1h-1zM15 24h1v1h-1zM33 24h1v1h-1zM39 24h2v1h-2zM50 24h1v1h-1zM1 25h1v1h-1zM6 25h1v1h-1zM38 25h1v1h-1zM3 26h1v1h-1zM30 26h1v1h-1zM48 26h1v1h-1zM19 27h1v1h-1zM11 29h1v1h-1zM7 30h1v1h-1z"/>
<path fill="#5a725a" d="M46 4h1v1h-1zM39 13h1v1h-1zM39 20h1v1h-1z"/>
<path fill="#667272" d="M53 4h1v1h-1z"/>
<path fill="#427242" d="M56 4h1v1h-1zM34 5h1v1h-1zM38 6h1v1h-1zM19 7h1v1h-1zM35 7h1v1h-1zM51 9h1v1h-1zM35 10h1v1h-1zM38 10h1v1h-1zM51 10h2v1h-2zM6 11h1v1h-1zM46 11h1v1h-1zM51 11h1v1h-1zM8 12h1v1h-1zM36 12h1v1h-1zM51 15h1v1h-1zM55 15h1v1h-1zM0 16h1v1h-1zM40 16h1v1h-1zM45 17h1v1h-1zM21 18h1v1h-1zM24 18h1v1h-1zM18 20h1v1h-1zM19 21h1v1h-1zM32 21h1v1h-1zM35 21h1v1h-1zM31 22h1v1h-1zM54 22h1v1h-1zM15 23h1v1h-1zM12 24h1v1h-1zM44 24h1v1h-1zM20 25h2v1h-2zM8 26h1v1h-1zM12 27h1v1h-1zM25 27h1v1h-1zM10 28h1v1h-1zM14 28h1v1h-1zM17 28h1v1h-1zM2 29h1v1h-1z"/>
<path fill="#2a5a2a" d="M22 5h1v1h-1z"/>
<path fill="#2a662a" d="M23 5h1v1h-1zM14 29h1v1h-1zM2 31h1v1h-1z"/>
<path fill="#2a7e36" d="M30 5h1v1h-1zM14 13h1v1h-1zM0 15h1v1h-1zM2 19h1v1h-1zM14 20h1v1h-1z"/>
<path fill="#42664e" d="M35 5h1v1h-1zM41 9h1v1h-1zM42 13h1v1h-1zM24 26h1v1h-1z"/>
<path fill="#665a66" d="M42 5h1v1h-1zM15 7h1v1h-1zM49 7h1v1h-1zM29 9h1v1h-1zM44 9h1v1h-1zM11 10h1v1h-1zM16 10h1v1h-1zM52 11h1v1h-1zM50 12h1v1h-1zM9 15h1v1h-1zM3 17h1v1h-1zM17 17h1v1h-1zM33 19h1v1h-1zM3 20h1v1h-1z"/>
<path fill="#424e4e" d="M44 5h1v1h-1zM19 11h1v1h-1z"/>
<path fill="#4e7e4e" d="M57 5h1v1h-1zM31 6h1v1h-1zM41 7h1v1h-1zM45 10h1v1h-1zM38 15h1v1h-1zM19 20h1v1h-1z"/>
<path fill="#423642" d="M15 6h1v1h-1zM9 7h1v1h-1zM47 25h1v1h-1zM6 31h1v1h-1z"/>
<path fill="#2a6636" d="M16 6h1v1h-1zM48 15h1v1h-1zM57 16h1v1h-1z"/>
<path fill="#727e72" d="M21 6h1v1h-1z"/>
<path fill="#725a72" d="M22 6h1v1h-1z"/>
<path fill="#367e36" d="M24 6h1v1h-1zM33 6h1v1h-1zM40 7h1v1h-1zM56 7h1v1h-1zM25 8h1v1h-1zM20 9h1v1h-1zM33 9h1v1h-1zM19 13h2v1h-2zM29 13h1v1h-1zM33 13h1v1h-1zM23 16h1v1h-1zM31 16h1v1h-1zM15 18h1v1h-1zM0 20h1v1h-1zM7 22h1v1h-1zM4 23h1v1h-1zM11 24h1v1h-1zM3 25h1v1h-1zM11 25h1v1h-1zM12 26h1v1h-1zM28 26h1v1h-1zM9 29h1v1h-1zM12 29h1v1h-1z"/>
<path fill="#367242" d="M43 6h1v1h-1zM56 8h1v1h-1zM48 22h1v1h-1z"/>
<path fill="#667e66" d="M53 6h1v1h-1zM26 19h1v1h-1z"/>
<path fill="#4e4e5a" d="M22 7h1v1h-1zM24 10h1v1h-1zM12 22h1v1h-1zM41 23h1v1h-1zM15 26h1v1h-1z"/>
<path fill="#2a7e2a" d="M23 7h1v1h-1zM7 8h1v1h-1zM18 8h2v1h-2zM0 9h1v1h-1zM2 9h1v1h-1zM27 9h2v1h-2zM14 10h2v1h-2zM20 10h1v1h-1zM7 11h2v1h-2zM22 11h1v1h-1zM0 12h1v1h-1zM11 12h2v1h-2zM28 12h1v1h-1zM9 13h1v1h-1zM28 13h1v1h-1zM1 14h1v1h-1zM7 14h1v1h-1zM20 14h1v1h-1zM22 14h1v1h-1zM29 14h1v1h-1zM3 15h1v1h-1zM8 15h1v1h-1zM11 15h1v1h-1zM14 15h1v1h-1zM18 17h1v1h-1zM20 17h1v1h-1zM0 18h1v1h-1zM9 18h1v1h-1zM19 18h1v1h-1zM7 19h1v1h-1zM13 19h1v1h-1zM23 19h1v1h-1zM4 20h1v1h-1zM12 20h1v1h-1zM13 21h1v1h-1zM4 22h1v1h-1zM11 22h1v1h-1zM11 23h1v1h-1zM20 23h1v1h-1zM5 24h1v1h-1zM7 24h1v1h-1zM5 25h1v1h-1zM0 26h1v1h-1zM7 26h1v1h-1zM14 26h1v1h-1zM17 26h1v1h-1zM26 26h1v1h-1zM22 27h1v1h-1z"/>
<path fill="#2a962a" d="M25 7h1v1h-1zM24 8h1v1h-1zM24 9h1v1h-1zM26 9h1v1h-1zM30 13h1v1h-1zM8 24h1v1h-1z"/>
<path fill="#4e4e42" d="M29 7h1v1h-1zM6 8h1v1h-1zM26 13h1v1h-1zM35 17h1v1h-1zM31 27h1v1h-1z"/>
<path fill="#66665a" d="M45 7h1v1h-1z"/>
<path fill="#2a5a36" d="M1 8h1v1h-1z"/>
<path fill="#366642" d="M9 8h1v1h-1zM30 8h1v1h-1zM0 11h1v1h-1zM29 11h1v1h-1zM21 14h1v1h-1zM35 14h1v1h-1zM12 17h1v1h-1zM38 17h1v1h-1zM49 18h1v1h-1zM29 19h1v1h-1zM46 21h1v1h-1zM8 22h1v1h-1zM18 24h1v1h-1z"/>
<path fill="#5a5a4e" d="M23 8h1v1h-1zM19 23h1v1h-1zM14 27h1v1h-1z"/>
<path fill="#2aa22a" d="M25 9h1v1h-1zM31 13h1v1h-1zM30 14h1v1h-1zM3 24h1v1h-1zM9 27h1v1h-1z"/>
<path fill="#2a722a" d="M3 10h1v1h-1zM7 10h1v1h-1zM31 10h1v1h-1zM37 10h1v1h-1zM10 11h1v1h-1zM31 11h1v1h-1zM5 12h1v1h-1zM10 12h1v1h-1zM15 12h1v1h-1zM25 13h1v1h-1zM25 14h1v1h-1zM7 16h1v1h-1zM15 16h1v1h-1zM20 16h1v1h-1zM22 17h1v1h-1zM29 17h2v1h-2zM10 18h1v1h-1zM18 18h1v1h-1zM21 19h1v1h-1zM9 21h1v1h-1zM14 21h2v1h-2zM29 21h1v1h-1zM27 22h1v1h-1zM21 24h1v1h-1zM27 24h1v1h-1zM19 25h1v1h-1zM4 27h1v1h-1zM15 28h2v1h-2zM1 30h1v1h-1zM5 30h1v1h-1z"/>
<path fill="#667266" d="M26 10h2v1h-2zM40 19h1v1h-1zM1 21h1v1h-1zM10 21h1v1h-1zM3 27h1v1h-1z"/>
<path fill="#2a7236" d="M42 10h1v1h-1zM36 15h1v1h-1zM26 18h1v1h-1zM30 18h1v1h-1zM37 22h1v1h-1zM12 25h1v1h-1zM21 28h1v1h-1zM10 29h1v1h-1zM2 30h1v1h-1z"/>
<path fill="#727272" d="M12 11h1v1h-1zM40 14h1v1h-1zM10 15h1v1h-1zM47 16h1v1h-1zM4 21h1v1h-1zM21 23h1v1h-1zM38 23h1v1h-1zM33 26h1v1h-1zM13 28h1v1h-1zM6 29h1v1h-1z"/>
<path fill="#665a5a" d="M6 12h1v1h-1z"/>
<path fill="#2a8a2a" d="M17 12h1v1h-1zM18 13h1v1h-1zM18 14h1v1h-1zM5 23h1v1h-1zM9 23h1v1h-1zM4 26h1v1h-1zM8 27h1v1h-1zM9 28h1v1h-1z"/>
<path fill="#42424e" d="M32 12h1v1h-1zM26 16h1v1h-1z"/>
<path fill="#7e728a" d="M27 13h1v1h-1z"/>
<path fill="#5a7e5a" d="M16 14h1v1h-1zM8 25h1v1h-1z"/>
<path fill="#368a36" d="M32 14h1v1h-1zM4 24h1v1h-1z"/>
<path fill="#427e42" d="M42 14h1v1h-1zM31 15h1v1h-1zM50 18h1v1h-1zM36 23h1v1h-1z"/>
<path fill="#367e42" d="M4 15h1v1h-1z"/>
<path fill="#425a4e" d="M4 16h1v1h-1zM0 17h1v1h-1zM42 22h1v1h-1z"/>
<path fill="#5a5a66" d="M18 16h1v1h-1zM53 22h1v1h-1zM34 23h1v1h-1zM5 28h1v1h-1z"/>
<path fill="#5a7266" d="M24 17h1v1h-1z"/>
<path fill="#42724e" d="M39 17h1v1h-1z"/>
<path fill="#7e667e" d="M46 23h1v1h-1z"/>
<path fill="#2aae2a" d="M9 24h1v1h-1zM11 27h1v1h-1z"/>
<path fill="#428a42" d="M10 24h1v1h-1z"/>
<path fill="#2ac62a" d="M9 25h2v1h-2zM11 26h1v1h-1z"/>
<path fill="#36a236" d="M9 26h1v1h-1z"/>
<path fill="#2ad22a" d="M10 26h1v1h-1z"/>
<path fill="#369636" d="M10 27h1v1h-1z"/>
<path fill="#363642" d="M41 27h1v1h-1z"/>
</g>
</g></g>
<g clip-path="url(#ci3)"><g filter="url(#bl2)">
<g transform="translate(52,675) scale(8.2)" shape-rendering="crispEdges">
<path fill="#362a2a" d="M0 0h1v1h-1zM2 0h3v1h-3zM6 0h3v1h-3zM10 0h2v1h-2zM13 0h2v1h-2zM16 0h2v1h-2zM19 0h1v1h-1zM21 0h1v1h-1zM23 0h2v1h-2zM35 0h1v1h-1zM2 1h1v1h-1zM4 1h1v1h-1zM6 1h1v1h-1zM9 1h2v1h-2zM12 1h1v1h-1zM15 1h1v1h-1zM22 1h1v1h-1zM26 1h1v1h-1zM30 1h1v1h-1zM0 2h4v1h-4zM5 2h5v1h-5zM11 2h1v1h-1zM13 2h2v1h-2zM17 2h2v1h-2zM20 2h4v1h-4zM25 2h2v1h-2zM28 2h1v1h-1zM4 3h3v1h-3zM8 3h1v1h-1zM11 3h1v1h-1zM14 3h1v1h-1zM17 3h1v1h-1zM24 3h2v1h-2zM0 4h1v1h-1zM3 4h1v1h-1zM5 4h7v1h-7zM14 4h1v1h-1zM17 4h1v1h-1zM19 4h1v1h-1zM21 4h1v1h-1zM0 5h4v1h-4zM5 5h1v1h-1zM7 5h1v1h-1zM9 5h3v1h-3zM1 6h1v1h-1zM0 7h1v1h-1zM44 25h1v1h-1zM37 26h1v1h-1zM1 31h2v1h-2z"/>
<path fill="#423636" d="M1 0h1v1h-1zM15 0h1v1h-1zM32 0h1v1h-1zM51 0h2v1h-2zM11 1h1v1h-1zM13 1h1v1h-1zM20 1h1v1h-1zM23 1h1v1h-1zM43 1h1v1h-1zM15 2h1v1h-1zM36 2h2v1h-2zM1 3h1v1h-1zM9 3h2v1h-2zM12 3h1v1h-1zM21 3h1v1h-1zM26 3h2v1h-2zM30 3h2v1h-2zM2 4h1v1h-1zM4 4h1v1h-1zM12 4h2v1h-2zM20 4h1v1h-1zM23 4h1v1h-1zM12 5h1v1h-1zM16 5h1v1h-1zM18 5h1v1h-1zM7 6h1v1h-1zM11 6h1v1h-1zM51 23h1v1h-1zM53 23h1v1h-1zM45 24h2v1h-2zM49 24h1v1h-1zM45 25h1v1h-1zM32 26h1v1h-1zM34 26h1v1h-1zM36 26h1v1h-1zM38 26h1v1h-1zM57 26h1v1h-1zM26 27h1v1h-1zM28 27h1v1h-1zM49 27h2v1h-2zM17 28h3v1h-3zM21 28h1v1h-1zM42 28h1v1h-1zM49 28h1v1h-1zM51 28h1v1h-1zM54 28h1v1h-1zM10 29h1v1h-1zM13 29h1v1h-1zM16 29h1v1h-1zM36 29h2v1h-2zM42 29h2v1h-2zM45 29h2v1h-2zM52 29h1v1h-1zM54 29h1v1h-1zM2 30h1v1h-1zM5 30h3v1h-3zM9 30h1v1h-1zM34 30h1v1h-1zM37 30h1v1h-1zM43 30h3v1h-3zM48 30h1v1h-1zM56 30h1v1h-1zM25 31h1v1h-1zM29 31h1v1h-1zM41 31h1v1h-1zM43 31h2v1h-2zM46 31h1v1h-1zM51 31h2v1h-2zM56 31h1v1h-1zM16 32h1v1h-1zM18 32h1v1h-1zM23 32h1v1h-1zM28 32h1v1h-1zM34 32h1v1h-1zM42 32h1v1h-1zM48 32h2v1h-2zM51 32h1v1h-1zM53 32h2v1h-2zM57 32h1v1h-1zM5 33h1v1h-1zM8 33h1v1h-1zM16 33h1v1h-1zM18 33h3v1h-3zM27 33h2v1h-2zM32 33h1v1h-1zM37 33h2v1h-2zM42 33h1v1h-1zM44 33h1v1h-1zM46 33h2v1h-2zM51 33h1v1h-1zM55 33h1v1h-1zM3 34h1v1h-1zM10 34h2v1h-2zM19 34h2v1h-2zM24 34h1v1h-1zM28 34h1v1h-1zM31 34h1v1h-1zM37 34h1v1h-1zM40 34h1v1h-1zM46 34h1v1h-1zM57 34h1v1h-1z"/>
<path fill="#2a2a2a" d="M5 0h1v1h-1zM20 0h1v1h-1zM25 0h2v1h-2zM29 0h1v1h-1zM40 0h1v1h-1zM0 1h1v1h-1zM17 1h1v1h-1zM19 1h1v1h-1zM21 1h1v1h-1zM27 1h1v1h-1zM39 1h1v1h-1zM16 2h1v1h-1zM0 3h1v1h-1zM3 3h1v1h-1zM1 4h1v1h-1zM15 4h1v1h-1zM4 5h1v1h-1zM3 6h3v1h-3z"/>
<path fill="#363636" d="M9 0h1v1h-1zM12 0h1v1h-1zM18 0h1v1h-1zM22 0h1v1h-1zM44 0h1v1h-1zM1 1h1v1h-1zM5 1h1v1h-1zM7 1h1v1h-1zM14 1h1v1h-1zM18 1h1v1h-1zM35 1h1v1h-1zM4 2h1v1h-1zM10 2h1v1h-1zM12 2h1v1h-1zM19 2h1v1h-1zM24 2h1v1h-1zM2 3h1v1h-1zM7 3h1v1h-1zM13 3h1v1h-1zM15 3h2v1h-2zM18 3h1v1h-1zM20 3h1v1h-1zM16 4h1v1h-1zM18 4h1v1h-1zM22 4h1v1h-1zM6 5h1v1h-1zM8 5h1v1h-1zM0 6h1v1h-1zM2 6h1v1h-1zM10 6h1v1h-1zM55 23h1v1h-1zM47 24h2v1h-2zM51 24h1v1h-1zM43 25h1v1h-1zM35 26h1v1h-1zM29 27h1v1h-1zM31 27h1v1h-1zM53 27h2v1h-2zM56 27h2v1h-2zM22 28h2v1h-2zM45 28h1v1h-1zM48 28h1v1h-1zM50 28h1v1h-1zM52 28h2v1h-2zM55 28h1v1h-1zM39 29h1v1h-1zM44 29h1v1h-1zM47 29h1v1h-1zM49 29h1v1h-1zM53 29h1v1h-1zM55 29h1v1h-1zM8 30h1v1h-1zM29 30h1v1h-1zM33 30h1v1h-1zM35 30h2v1h-2zM39 30h2v1h-2zM42 30h1v1h-1zM46 30h1v1h-1zM55 30h1v1h-1zM57 30h1v1h-1zM0 31h1v1h-1zM31 31h2v1h-2zM34 31h1v1h-1zM37 31h2v1h-2zM42 31h1v1h-1zM47 31h1v1h-1zM49 31h2v1h-2zM53 31h3v1h-3zM57 31h1v1h-1zM15 32h1v1h-1zM22 32h1v1h-1zM27 32h1v1h-1zM31 32h2v1h-2zM35 32h2v1h-2zM38 32h4v1h-4zM45 32h3v1h-3zM52 32h1v1h-1zM7 33h1v1h-1zM10 33h1v1h-1zM17 33h1v1h-1zM22 33h1v1h-1zM24 33h1v1h-1zM29 33h1v1h-1zM35 33h2v1h-2zM39 33h1v1h-1zM45 33h1v1h-1zM48 33h1v1h-1zM50 33h1v1h-1zM52 33h1v1h-1zM56 33h2v1h-2zM6 34h2v1h-2zM12 34h2v1h-2zM15 34h4v1h-4zM21 34h1v1h-1zM23 34h1v1h-1zM26 34h2v1h-2zM30 34h1v1h-1zM33 34h1v1h-1zM35 34h2v1h-2zM39 34h1v1h-1zM41 34h3v1h-3zM45 34h1v1h-1zM49 34h3v1h-3zM53 34h1v1h-1z"/>
<path fill="#422a2a" d="M27 0h1v1h-1zM45 0h1v1h-1zM8 1h1v1h-1zM24 1h2v1h-2zM38 1h1v1h-1zM32 2h2v1h-2zM22 3h2v1h-2zM13 5h1v1h-1zM6 6h1v1h-1zM52 24h1v1h-1zM30 27h1v1h-1zM14 29h1v1h-1z"/>
<path fill="#362a36" d="M28 0h1v1h-1zM3 1h1v1h-1zM16 1h1v1h-1zM27 2h1v1h-1zM19 3h1v1h-1z"/>
<path fill="#4e2a36" d="M30 0h1v1h-1z"/>
<path fill="#4e2a2a" d="M31 0h1v1h-1zM34 0h1v1h-1zM37 0h1v1h-1zM41 0h1v1h-1zM43 0h1v1h-1zM48 0h1v1h-1zM29 1h1v1h-1zM32 1h1v1h-1zM40 1h1v1h-1zM42 1h1v1h-1zM31 2h1v1h-1z"/>
<path fill="#5a2a2a" d="M33 0h1v1h-1zM38 0h2v1h-2zM46 0h2v1h-2zM31 1h1v1h-1zM33 1h2v1h-2zM36 1h2v1h-2z"/>
<path fill="#662a36" d="M36 0h1v1h-1z"/>
<path fill="#662a2a" d="M42 0h1v1h-1z"/>
<path fill="#4e3636" d="M49 0h2v1h-2zM41 1h1v1h-1zM44 1h3v1h-3zM29 2h2v1h-2zM34 2h1v1h-1zM39 2h1v1h-1zM28 3h2v1h-2zM14 5h2v1h-2zM8 6h1v1h-1zM1 7h1v1h-1zM43 24h1v1h-1zM39 25h1v1h-1zM42 25h1v1h-1zM25 27h1v1h-1zM16 28h1v1h-1zM20 28h1v1h-1zM8 29h1v1h-1zM15 29h1v1h-1zM1 30h1v1h-1zM4 30h1v1h-1z"/>
<path fill="#424242" d="M53 0h1v1h-1zM42 2h1v1h-1zM34 3h1v1h-1zM50 23h1v1h-1zM56 23h1v1h-1zM36 25h1v1h-1zM41 25h1v1h-1zM47 25h1v1h-1zM49 25h1v1h-1zM25 26h1v1h-1zM31 26h1v1h-1zM33 26h1v1h-1zM49 26h1v1h-1zM51 26h2v1h-2zM54 26h3v1h-3zM42 27h3v1h-3zM48 27h1v1h-1zM51 27h2v1h-2zM55 27h1v1h-1zM15 28h1v1h-1zM30 28h1v1h-1zM37 28h3v1h-3zM41 28h1v1h-1zM43 28h2v1h-2zM46 28h2v1h-2zM56 28h1v1h-1zM11 29h1v1h-1zM28 29h8v1h-8zM38 29h1v1h-1zM40 29h2v1h-2zM48 29h1v1h-1zM50 29h2v1h-2zM56 29h2v1h-2zM3 30h1v1h-1zM20 30h1v1h-1zM24 30h2v1h-2zM28 30h1v1h-1zM30 30h3v1h-3zM38 30h1v1h-1zM41 30h1v1h-1zM47 30h1v1h-1zM49 30h4v1h-4zM54 30h1v1h-1zM14 31h1v1h-1zM16 31h2v1h-2zM19 31h6v1h-6zM26 31h2v1h-2zM30 31h1v1h-1zM33 31h1v1h-1zM35 31h2v1h-2zM39 31h2v1h-2zM45 31h1v1h-1zM48 31h1v1h-1zM3 32h2v1h-2zM10 32h1v1h-1zM12 32h3v1h-3zM17 32h1v1h-1zM19 32h3v1h-3zM24 32h3v1h-3zM29 32h2v1h-2zM33 32h1v1h-1zM37 32h1v1h-1zM43 32h2v1h-2zM50 32h1v1h-1zM55 32h2v1h-2zM3 33h1v1h-1zM6 33h1v1h-1zM9 33h1v1h-1zM11 33h5v1h-5zM21 33h1v1h-1zM23 33h1v1h-1zM25 33h1v1h-1zM30 33h2v1h-2zM34 33h1v1h-1zM40 33h2v1h-2zM43 33h1v1h-1zM49 33h1v1h-1zM53 33h1v1h-1zM0 34h3v1h-3zM4 34h2v1h-2zM8 34h2v1h-2zM14 34h1v1h-1zM22 34h1v1h-1zM25 34h1v1h-1zM32 34h1v1h-1zM38 34h1v1h-1zM44 34h1v1h-1zM47 34h2v1h-2zM52 34h1v1h-1zM54 34h2v1h-2z"/>
<path fill="#4e4e4e" d="M54 0h1v1h-1zM56 0h1v1h-1zM49 1h1v1h-1zM56 2h2v1h-2zM33 3h1v1h-1zM35 3h1v1h-1zM30 4h1v1h-1zM34 4h1v1h-1zM36 4h1v1h-1zM38 4h1v1h-1zM49 4h1v1h-1zM20 5h1v1h-1zM34 6h1v1h-1zM44 6h1v1h-1zM46 6h1v1h-1zM3 8h1v1h-1zM22 8h1v1h-1zM48 8h1v1h-1zM54 8h2v1h-2zM35 9h1v1h-1zM47 9h1v1h-1zM0 10h1v1h-1zM31 10h1v1h-1zM37 10h1v1h-1zM10 11h1v1h-1zM50 11h1v1h-1zM3 12h1v1h-1zM15 12h1v1h-1zM27 12h1v1h-1zM37 12h1v1h-1zM51 12h1v1h-1zM28 13h1v1h-1zM52 13h1v1h-1zM6 14h1v1h-1zM56 14h1v1h-1zM35 15h1v1h-1zM48 15h1v1h-1zM52 15h1v1h-1zM17 16h1v1h-1zM35 16h1v1h-1zM57 16h1v1h-1zM5 17h1v1h-1zM15 17h1v1h-1zM30 17h2v1h-2zM56 17h1v1h-1zM23 18h1v1h-1zM35 18h1v1h-1zM38 18h1v1h-1zM41 19h1v1h-1zM23 20h1v1h-1zM35 20h1v1h-1zM38 20h1v1h-1zM41 20h1v1h-1zM9 21h1v1h-1zM18 21h1v1h-1zM31 21h1v1h-1zM33 21h1v1h-1zM37 21h1v1h-1zM57 21h1v1h-1zM26 23h1v1h-1zM46 23h1v1h-1zM39 24h1v1h-1zM42 24h1v1h-1zM54 24h2v1h-2zM30 25h1v1h-1zM32 25h1v1h-1zM50 25h4v1h-4zM55 25h1v1h-1zM0 26h1v1h-1zM22 26h1v1h-1zM26 26h1v1h-1zM42 26h5v1h-5zM48 26h1v1h-1zM50 26h1v1h-1zM15 27h1v1h-1zM32 27h2v1h-2zM35 27h2v1h-2zM38 27h2v1h-2zM41 27h1v1h-1zM46 27h1v1h-1zM0 28h1v1h-1zM4 28h1v1h-1zM13 28h1v1h-1zM25 28h1v1h-1zM34 28h3v1h-3zM4 29h1v1h-1zM6 29h1v1h-1zM9 29h1v1h-1zM20 29h5v1h-5zM26 29h1v1h-1zM0 30h1v1h-1zM10 30h2v1h-2zM14 30h3v1h-3zM19 30h1v1h-1zM21 30h1v1h-1zM7 31h3v1h-3zM12 31h2v1h-2zM2 32h1v1h-1zM7 32h3v1h-3zM0 33h1v1h-1z"/>
<path fill="#5a4242" d="M55 0h1v1h-1zM40 2h1v1h-1zM22 5h1v1h-1zM46 5h1v1h-1zM9 6h1v1h-1zM20 8h1v1h-1zM37 8h1v1h-1zM19 11h1v1h-1zM45 11h1v1h-1zM5 13h1v1h-1zM51 13h1v1h-1zM3 14h1v1h-1zM55 14h1v1h-1zM14 17h1v1h-1zM16 18h1v1h-1zM18 18h1v1h-1zM56 21h1v1h-1zM11 22h1v1h-1zM47 22h1v1h-1zM57 22h1v1h-1zM1 23h2v1h-2zM47 23h1v1h-1zM52 23h1v1h-1zM6 24h1v1h-1zM22 24h1v1h-1zM31 24h1v1h-1zM40 24h1v1h-1zM44 24h1v1h-1zM21 27h1v1h-1zM1 29h1v1h-1z"/>
<path fill="#727272" d="M57 0h1v1h-1zM33 9h1v1h-1zM27 10h1v1h-1z"/>
<path fill="#5a3636" d="M28 1h1v1h-1zM35 2h1v1h-1zM38 2h1v1h-1zM2 7h1v1h-1zM4 7h1v1h-1zM49 23h1v1h-1zM24 27h1v1h-1zM3 29h1v1h-1z"/>
<path fill="#4e4242" d="M47 1h1v1h-1zM24 4h1v1h-1zM26 4h1v1h-1zM13 6h1v1h-1zM55 22h1v1h-1zM45 23h1v1h-1zM54 23h1v1h-1zM41 24h1v1h-1zM56 24h2v1h-2zM38 25h1v1h-1zM40 25h1v1h-1zM46 25h1v1h-1zM48 25h1v1h-1zM54 25h1v1h-1zM56 25h2v1h-2zM30 26h1v1h-1zM39 26h1v1h-1zM41 26h1v1h-1zM47 26h1v1h-1zM17 27h1v1h-1zM19 27h1v1h-1zM27 27h1v1h-1zM37 27h1v1h-1zM40 27h1v1h-1zM45 27h1v1h-1zM47 27h1v1h-1zM11 28h1v1h-1zM24 28h1v1h-1zM27 28h3v1h-3zM31 28h3v1h-3zM0 29h1v1h-1zM17 29h1v1h-1zM19 29h1v1h-1zM25 29h1v1h-1zM27 29h1v1h-1zM12 30h2v1h-2zM17 30h2v1h-2zM22 30h2v1h-2zM26 30h2v1h-2zM3 31h1v1h-1zM11 31h1v1h-1zM15 31h1v1h-1zM18 31h1v1h-1zM1 32h1v1h-1zM5 32h1v1h-1zM11 32h1v1h-1zM1 33h2v1h-2zM4 33h1v1h-1z"/>
<path fill="#663636" d="M48 1h1v1h-1zM17 5h1v1h-1zM19 5h1v1h-1zM21 5h1v1h-1zM35 25h1v1h-1zM28 26h1v1h-1zM7 29h1v1h-1z"/>
<path fill="#5a4e4e" d="M50 1h1v1h-1zM55 2h1v1h-1zM32 3h1v1h-1zM53 3h1v1h-1zM37 4h1v1h-1zM40 4h1v1h-1zM50 4h1v1h-1zM55 4h1v1h-1zM27 5h1v1h-1zM38 5h1v1h-1zM56 5h1v1h-1zM12 6h1v1h-1zM14 6h1v1h-1zM35 6h1v1h-1zM37 6h1v1h-1zM23 7h1v1h-1zM29 7h1v1h-1zM36 7h1v1h-1zM38 7h1v1h-1zM9 8h2v1h-2zM28 8h2v1h-2zM34 8h1v1h-1zM45 8h1v1h-1zM51 8h1v1h-1zM38 9h2v1h-2zM48 9h2v1h-2zM5 10h1v1h-1zM7 10h1v1h-1zM49 10h1v1h-1zM8 11h2v1h-2zM38 11h1v1h-1zM42 11h1v1h-1zM49 11h1v1h-1zM0 12h1v1h-1zM10 12h1v1h-1zM13 12h1v1h-1zM38 12h1v1h-1zM47 12h1v1h-1zM23 13h2v1h-2zM34 13h1v1h-1zM40 13h1v1h-1zM11 14h1v1h-1zM25 14h1v1h-1zM37 14h1v1h-1zM57 14h1v1h-1zM16 15h1v1h-1zM25 15h1v1h-1zM28 15h1v1h-1zM44 15h1v1h-1zM1 16h1v1h-1zM6 16h1v1h-1zM11 16h1v1h-1zM15 16h1v1h-1zM20 16h1v1h-1zM41 16h2v1h-2zM50 16h3v1h-3zM12 17h1v1h-1zM21 17h1v1h-1zM26 17h1v1h-1zM36 17h1v1h-1zM42 17h1v1h-1zM48 17h1v1h-1zM52 17h1v1h-1zM0 18h1v1h-1zM5 18h1v1h-1zM29 18h2v1h-2zM36 18h2v1h-2zM42 18h1v1h-1zM47 18h1v1h-1zM54 18h1v1h-1zM7 19h1v1h-1zM21 19h1v1h-1zM49 19h1v1h-1zM2 20h1v1h-1zM5 20h1v1h-1zM16 20h1v1h-1zM33 20h1v1h-1zM36 20h1v1h-1zM42 20h1v1h-1zM25 21h1v1h-1zM30 21h1v1h-1zM42 21h1v1h-1zM48 21h2v1h-2zM0 22h1v1h-1zM12 22h2v1h-2zM38 22h1v1h-1zM23 23h1v1h-1zM30 23h1v1h-1zM32 23h1v1h-1zM41 23h1v1h-1zM48 23h1v1h-1zM0 24h1v1h-1zM15 24h1v1h-1zM18 24h1v1h-1zM21 24h1v1h-1zM23 24h1v1h-1zM18 25h1v1h-1zM31 25h1v1h-1zM15 26h1v1h-1zM40 26h1v1h-1zM5 27h1v1h-1zM14 27h1v1h-1zM14 28h1v1h-1zM5 31h1v1h-1z"/>
<path fill="#7e4242" d="M51 1h1v1h-1zM53 1h1v1h-1zM41 2h1v1h-1zM51 2h1v1h-1zM37 3h1v1h-1zM39 3h1v1h-1zM46 3h1v1h-1zM55 3h2v1h-2zM27 4h1v1h-1zM39 4h1v1h-1zM44 4h1v1h-1zM54 4h1v1h-1zM29 5h1v1h-1zM23 6h1v1h-1zM51 6h1v1h-1zM53 7h1v1h-1zM0 8h1v1h-1zM49 8h2v1h-2zM57 8h1v1h-1zM14 9h2v1h-2zM4 10h1v1h-1zM15 10h1v1h-1zM17 10h1v1h-1zM46 10h1v1h-1zM48 10h1v1h-1zM33 11h1v1h-1zM4 12h2v1h-2zM29 12h1v1h-1zM32 12h1v1h-1zM44 12h1v1h-1zM54 12h1v1h-1zM25 13h2v1h-2zM45 13h1v1h-1zM55 13h1v1h-1zM27 14h1v1h-1zM48 14h1v1h-1zM2 15h1v1h-1zM6 15h1v1h-1zM36 15h1v1h-1zM39 15h1v1h-1zM43 15h1v1h-1zM22 16h1v1h-1zM49 16h1v1h-1zM20 17h1v1h-1zM35 17h1v1h-1zM37 17h2v1h-2zM8 18h1v1h-1zM44 18h1v1h-1zM8 19h1v1h-1zM11 19h1v1h-1zM13 19h1v1h-1zM15 19h2v1h-2zM18 19h1v1h-1zM25 19h1v1h-1zM34 19h1v1h-1zM38 19h1v1h-1zM46 19h1v1h-1zM50 19h1v1h-1zM4 20h1v1h-1zM10 20h1v1h-1zM24 20h1v1h-1zM54 20h1v1h-1zM44 21h1v1h-1zM37 22h1v1h-1zM44 22h1v1h-1zM48 22h1v1h-1zM53 22h1v1h-1zM13 23h1v1h-1zM19 23h1v1h-1zM24 23h1v1h-1zM40 23h1v1h-1zM5 24h1v1h-1zM26 24h1v1h-1zM35 24h1v1h-1zM19 25h1v1h-1zM27 25h1v1h-1zM0 27h1v1h-1zM4 27h1v1h-1zM16 27h1v1h-1zM3 28h1v1h-1zM7 28h1v1h-1z"/>
<path fill="#724242" d="M52 1h1v1h-1zM45 4h1v1h-1zM26 5h1v1h-1zM33 5h1v1h-1zM47 5h1v1h-1zM13 8h1v1h-1zM0 9h1v1h-1zM2 9h1v1h-1zM43 9h1v1h-1zM45 9h1v1h-1zM34 10h1v1h-1zM41 10h1v1h-1zM43 10h1v1h-1zM54 10h1v1h-1zM56 10h1v1h-1zM29 11h1v1h-1zM31 11h1v1h-1zM40 12h1v1h-1zM21 15h1v1h-1zM45 15h1v1h-1zM50 15h1v1h-1zM26 16h1v1h-1zM44 16h1v1h-1zM10 18h1v1h-1zM26 18h1v1h-1zM43 18h1v1h-1zM45 18h1v1h-1zM10 19h1v1h-1zM48 19h1v1h-1zM8 20h1v1h-1zM17 20h1v1h-1zM56 20h1v1h-1zM30 22h1v1h-1zM39 22h1v1h-1zM43 22h1v1h-1zM45 22h1v1h-1zM27 24h1v1h-1zM29 24h1v1h-1zM34 25h1v1h-1zM5 26h1v1h-1zM18 26h1v1h-1zM20 27h1v1h-1z"/>
<path fill="#664e4e" d="M54 1h1v1h-1zM52 3h1v1h-1zM29 6h1v1h-1zM49 6h1v1h-1zM14 7h1v1h-1zM22 7h1v1h-1zM27 7h1v1h-1zM43 7h1v1h-1zM5 9h1v1h-1zM26 9h2v1h-2zM55 9h1v1h-1zM19 10h1v1h-1zM23 10h1v1h-1zM44 10h1v1h-1zM16 11h1v1h-1zM21 11h1v1h-1zM1 12h1v1h-1zM16 12h1v1h-1zM45 12h1v1h-1zM44 13h1v1h-1zM7 14h1v1h-1zM21 14h1v1h-1zM24 14h1v1h-1zM7 15h1v1h-1zM34 15h1v1h-1zM53 15h1v1h-1zM56 15h1v1h-1zM3 16h2v1h-2zM24 16h1v1h-1zM30 16h1v1h-1zM56 16h1v1h-1zM10 17h1v1h-1zM27 17h1v1h-1zM57 17h1v1h-1zM13 18h1v1h-1zM32 18h1v1h-1zM52 18h1v1h-1zM3 19h1v1h-1zM52 19h1v1h-1zM55 19h1v1h-1zM27 20h1v1h-1zM46 20h2v1h-2zM49 20h1v1h-1zM27 21h1v1h-1zM4 22h1v1h-1zM23 22h2v1h-2zM52 22h1v1h-1zM0 23h1v1h-1zM12 23h1v1h-1zM39 23h1v1h-1zM42 23h1v1h-1zM44 23h1v1h-1zM36 24h1v1h-1zM38 24h1v1h-1zM3 25h1v1h-1zM8 27h1v1h-1zM8 28h1v1h-1zM2 29h1v1h-1zM12 29h1v1h-1z"/>
<path fill="#964242" d="M55 1h1v1h-1zM43 3h1v1h-1zM40 5h1v1h-1zM48 5h1v1h-1zM24 6h2v1h-2zM41 6h1v1h-1zM32 7h1v1h-1zM35 7h1v1h-1zM45 7h1v1h-1zM31 8h1v1h-1zM53 8h1v1h-1zM17 9h1v1h-1zM32 9h1v1h-1zM17 11h2v1h-2zM28 11h1v1h-1zM36 11h2v1h-2zM7 12h1v1h-1zM12 12h1v1h-1zM21 12h1v1h-1zM25 12h1v1h-1zM48 12h1v1h-1zM33 13h1v1h-1zM36 13h1v1h-1zM1 14h1v1h-1zM46 14h1v1h-1zM14 15h1v1h-1zM55 15h1v1h-1zM19 16h1v1h-1zM54 16h1v1h-1zM29 17h1v1h-1zM49 17h1v1h-1zM6 18h1v1h-1zM9 19h1v1h-1zM25 20h1v1h-1zM17 21h1v1h-1zM20 22h1v1h-1zM32 22h1v1h-1zM40 22h1v1h-1zM6 23h1v1h-1zM3 24h1v1h-1zM8 24h2v1h-2zM2 25h1v1h-1zM3 26h1v1h-1z"/>
<path fill="#7e4e4e" d="M56 1h1v1h-1zM42 4h1v1h-1zM51 5h2v1h-2zM32 6h1v1h-1zM24 7h1v1h-1zM26 7h1v1h-1zM2 8h1v1h-1zM8 8h1v1h-1zM52 8h1v1h-1zM56 8h1v1h-1zM4 9h1v1h-1zM9 9h1v1h-1zM31 9h1v1h-1zM41 9h2v1h-2zM18 10h1v1h-1zM22 10h1v1h-1zM28 10h1v1h-1zM30 10h1v1h-1zM55 10h1v1h-1zM0 11h1v1h-1zM51 11h1v1h-1zM8 12h1v1h-1zM30 12h1v1h-1zM52 12h1v1h-1zM56 12h1v1h-1zM14 13h2v1h-2zM38 14h2v1h-2zM41 14h1v1h-1zM45 14h1v1h-1zM3 15h1v1h-1zM15 15h1v1h-1zM32 15h2v1h-2zM46 15h1v1h-1zM2 16h1v1h-1zM9 16h1v1h-1zM31 16h1v1h-1zM40 16h1v1h-1zM43 16h1v1h-1zM1 19h1v1h-1zM12 19h1v1h-1zM28 19h1v1h-1zM43 19h1v1h-1zM9 20h1v1h-1zM18 20h1v1h-1zM21 20h1v1h-1zM28 20h2v1h-2zM0 21h1v1h-1zM17 22h1v1h-1zM26 22h1v1h-1zM34 22h1v1h-1zM4 23h1v1h-1zM20 23h1v1h-1zM27 23h1v1h-1zM1 24h1v1h-1zM12 24h1v1h-1zM17 24h1v1h-1zM19 24h2v1h-2zM4 26h1v1h-1zM17 26h1v1h-1z"/>
<path fill="#726666" d="M57 1h1v1h-1zM46 4h1v1h-1zM34 5h1v1h-1zM15 7h1v1h-1zM40 7h1v1h-1zM49 7h1v1h-1zM24 11h1v1h-1zM44 11h1v1h-1zM32 16h1v1h-1zM2 17h1v1h-1zM40 18h1v1h-1zM35 19h1v1h-1zM6 21h1v1h-1zM11 21h1v1h-1zM7 22h1v1h-1z"/>
<path fill="#664242" d="M43 2h1v1h-1zM46 2h1v1h-1zM41 3h1v1h-1zM23 5h1v1h-1zM36 5h1v1h-1zM20 6h1v1h-1zM3 7h1v1h-1zM5 7h1v1h-1zM7 7h3v1h-3zM33 7h1v1h-1zM50 7h1v1h-1zM23 9h1v1h-1zM2 10h1v1h-1zM8 10h1v1h-1zM42 10h1v1h-1zM23 11h1v1h-1zM14 12h1v1h-1zM33 12h2v1h-2zM0 14h1v1h-1zM28 17h1v1h-1zM2 18h1v1h-1zM12 18h1v1h-1zM14 18h1v1h-1zM44 19h1v1h-1zM57 19h1v1h-1zM44 20h2v1h-2zM21 21h1v1h-1zM29 21h1v1h-1zM8 23h1v1h-1zM37 23h1v1h-1zM2 24h1v1h-1zM14 25h1v1h-1zM19 26h3v1h-3zM27 26h1v1h-1zM29 26h1v1h-1zM1 27h1v1h-1zM13 27h1v1h-1zM18 27h1v1h-1zM22 27h2v1h-2zM2 28h1v1h-1zM9 28h2v1h-2zM12 28h1v1h-1z"/>
<path fill="#665a5a" d="M44 2h1v1h-1zM45 3h1v1h-1zM29 4h1v1h-1zM24 5h1v1h-1zM28 5h1v1h-1zM39 5h1v1h-1zM28 6h1v1h-1zM31 7h1v1h-1zM7 8h1v1h-1zM12 8h1v1h-1zM40 8h1v1h-1zM43 8h1v1h-1zM13 9h1v1h-1zM19 9h1v1h-1zM21 9h1v1h-1zM44 9h1v1h-1zM32 10h1v1h-1zM51 10h1v1h-1zM1 11h2v1h-2zM5 11h2v1h-2zM14 11h1v1h-1zM22 11h1v1h-1zM27 11h1v1h-1zM39 11h1v1h-1zM43 11h1v1h-1zM48 11h1v1h-1zM56 11h1v1h-1zM46 12h1v1h-1zM53 12h1v1h-1zM57 12h1v1h-1zM37 13h1v1h-1zM42 13h1v1h-1zM50 13h1v1h-1zM53 13h1v1h-1zM28 14h1v1h-1zM43 14h1v1h-1zM11 15h1v1h-1zM13 15h1v1h-1zM40 15h1v1h-1zM47 15h1v1h-1zM54 15h1v1h-1zM5 16h1v1h-1zM14 16h1v1h-1zM16 16h1v1h-1zM27 16h1v1h-1zM37 16h2v1h-2zM48 16h1v1h-1zM11 17h1v1h-1zM16 17h1v1h-1zM18 17h1v1h-1zM44 17h1v1h-1zM46 17h1v1h-1zM51 17h1v1h-1zM19 18h1v1h-1zM27 18h1v1h-1zM34 18h1v1h-1zM51 18h1v1h-1zM53 18h1v1h-1zM55 18h1v1h-1zM5 19h1v1h-1zM14 19h1v1h-1zM19 19h2v1h-2zM22 19h1v1h-1zM39 19h1v1h-1zM11 20h1v1h-1zM31 20h2v1h-2zM51 20h1v1h-1zM36 21h1v1h-1zM47 21h1v1h-1zM53 21h1v1h-1zM14 22h1v1h-1zM46 22h1v1h-1zM18 23h1v1h-1zM29 23h1v1h-1zM43 23h1v1h-1zM7 24h1v1h-1zM13 24h1v1h-1zM28 24h1v1h-1zM32 24h1v1h-1zM23 25h1v1h-1zM26 25h1v1h-1zM29 25h1v1h-1zM2 26h1v1h-1zM7 26h1v1h-1zM23 26h1v1h-1zM2 27h1v1h-1zM6 27h1v1h-1zM5 28h1v1h-1z"/>
<path fill="#7e3636" d="M45 2h1v1h-1zM16 6h1v1h-1zM27 6h1v1h-1zM6 7h1v1h-1zM34 7h1v1h-1zM1 8h1v1h-1zM57 11h1v1h-1zM39 12h1v1h-1zM38 13h1v1h-1zM57 18h1v1h-1zM36 19h1v1h-1zM54 21h1v1h-1z"/>
<path fill="#5a5a5a" d="M47 2h1v1h-1zM42 3h1v1h-1zM35 4h1v1h-1zM41 4h1v1h-1zM47 4h1v1h-1zM51 4h2v1h-2zM36 6h1v1h-1zM42 6h1v1h-1zM55 6h1v1h-1zM11 7h1v1h-1zM13 7h1v1h-1zM57 7h1v1h-1zM32 8h2v1h-2zM38 8h1v1h-1zM41 8h1v1h-1zM34 9h1v1h-1zM40 9h1v1h-1zM52 9h1v1h-1zM13 10h1v1h-1zM21 10h1v1h-1zM24 10h1v1h-1zM40 11h1v1h-1zM28 12h1v1h-1zM42 12h1v1h-1zM49 12h1v1h-1zM8 13h1v1h-1zM46 13h1v1h-1zM48 13h1v1h-1zM54 13h1v1h-1zM57 13h1v1h-1zM4 14h1v1h-1zM14 14h1v1h-1zM23 14h1v1h-1zM44 14h1v1h-1zM49 14h2v1h-2zM8 15h1v1h-1zM12 15h1v1h-1zM37 15h1v1h-1zM57 15h1v1h-1zM46 16h1v1h-1zM32 17h1v1h-1zM40 17h1v1h-1zM0 19h1v1h-1zM29 19h2v1h-2zM47 19h1v1h-1zM51 19h1v1h-1zM15 20h1v1h-1zM57 20h1v1h-1zM26 21h1v1h-1zM43 21h1v1h-1zM45 21h1v1h-1zM52 21h1v1h-1zM8 22h1v1h-1zM19 22h1v1h-1zM28 22h1v1h-1zM16 23h2v1h-2zM24 24h1v1h-1zM30 24h1v1h-1zM37 24h1v1h-1zM0 25h1v1h-1zM15 25h2v1h-2zM37 25h1v1h-1zM6 28h1v1h-1z"/>
<path fill="#8a4e4e" d="M48 2h1v1h-1zM48 3h1v1h-1zM25 5h1v1h-1zM43 6h1v1h-1zM48 6h1v1h-1zM10 9h1v1h-1zM29 9h1v1h-1zM50 9h1v1h-1zM11 11h1v1h-1zM19 12h1v1h-1zM26 12h1v1h-1zM30 13h1v1h-1zM19 14h1v1h-1zM36 14h1v1h-1zM21 16h1v1h-1zM4 17h1v1h-1zM8 17h1v1h-1zM9 18h1v1h-1zM21 18h1v1h-1zM48 18h1v1h-1zM27 19h1v1h-1zM33 19h1v1h-1zM3 21h1v1h-1zM7 21h1v1h-1zM5 22h1v1h-1zM25 22h1v1h-1zM7 23h1v1h-1zM34 23h3v1h-3zM13 26h1v1h-1z"/>
<path fill="#666666" d="M49 2h1v1h-1zM54 2h1v1h-1zM38 3h1v1h-1zM50 3h1v1h-1zM57 3h1v1h-1zM42 5h1v1h-1zM39 6h2v1h-2zM45 6h1v1h-1zM54 6h1v1h-1zM17 7h1v1h-1zM20 7h1v1h-1zM52 7h1v1h-1zM54 7h2v1h-2zM42 8h1v1h-1zM37 9h1v1h-1zM56 9h1v1h-1zM39 10h1v1h-1zM52 10h1v1h-1zM41 11h1v1h-1zM46 11h1v1h-1zM52 11h1v1h-1zM55 11h1v1h-1zM2 12h1v1h-1zM6 12h1v1h-1zM11 12h1v1h-1zM24 12h1v1h-1zM2 13h1v1h-1zM6 13h1v1h-1zM13 13h1v1h-1zM10 14h1v1h-1zM51 15h1v1h-1zM23 16h1v1h-1zM34 16h1v1h-1zM45 16h1v1h-1zM55 16h1v1h-1zM7 17h1v1h-1zM33 17h1v1h-1zM55 17h1v1h-1zM11 18h1v1h-1zM24 18h1v1h-1zM17 19h1v1h-1zM45 19h1v1h-1zM0 20h1v1h-1zM22 20h1v1h-1zM26 20h1v1h-1zM30 20h1v1h-1zM34 20h1v1h-1zM8 21h1v1h-1zM14 21h1v1h-1zM24 21h1v1h-1zM15 22h1v1h-1zM18 22h1v1h-1zM31 22h1v1h-1zM33 22h1v1h-1zM41 22h1v1h-1zM15 23h1v1h-1zM53 24h1v1h-1zM16 26h1v1h-1zM7 27h1v1h-1z"/>
<path fill="#8a3636" d="M50 2h1v1h-1zM44 5h2v1h-2zM54 5h1v1h-1zM44 7h1v1h-1zM6 9h1v1h-1zM6 10h1v1h-1zM12 10h1v1h-1zM14 10h1v1h-1zM47 11h1v1h-1zM54 11h1v1h-1zM43 12h1v1h-1zM4 13h1v1h-1zM18 14h1v1h-1zM22 14h1v1h-1zM52 14h1v1h-1zM24 15h1v1h-1zM26 15h1v1h-1zM41 15h1v1h-1zM13 16h1v1h-1zM33 16h1v1h-1zM39 16h1v1h-1zM22 17h2v1h-2zM41 17h1v1h-1zM3 18h1v1h-1zM20 18h1v1h-1zM56 18h1v1h-1zM31 19h1v1h-1zM37 20h1v1h-1zM50 20h1v1h-1zM55 20h1v1h-1zM12 21h1v1h-1zM34 21h1v1h-1zM55 21h1v1h-1zM27 22h1v1h-1zM14 23h1v1h-1zM22 23h1v1h-1zM4 25h1v1h-1zM7 25h1v1h-1zM12 25h1v1h-1zM25 25h1v1h-1z"/>
<path fill="#7e5a5a" d="M52 2h1v1h-1zM43 4h1v1h-1zM48 4h1v1h-1zM53 5h1v1h-1zM22 6h1v1h-1zM12 7h1v1h-1zM56 7h1v1h-1zM54 9h1v1h-1zM57 9h1v1h-1zM26 11h1v1h-1zM32 11h1v1h-1zM18 13h1v1h-1zM53 14h1v1h-1zM4 15h1v1h-1zM9 15h1v1h-1zM10 16h1v1h-1zM25 16h1v1h-1zM28 16h1v1h-1zM39 17h1v1h-1zM45 17h1v1h-1zM3 20h1v1h-1zM13 20h1v1h-1zM32 21h1v1h-1zM3 22h1v1h-1zM35 22h1v1h-1zM33 23h1v1h-1z"/>
<path fill="#724e4e" d="M53 2h1v1h-1zM32 5h1v1h-1zM35 5h1v1h-1zM50 5h1v1h-1zM55 5h1v1h-1zM50 6h1v1h-1zM52 6h1v1h-1zM57 6h1v1h-1zM16 7h1v1h-1zM18 8h1v1h-1zM21 8h1v1h-1zM12 9h1v1h-1zM28 9h1v1h-1zM30 9h1v1h-1zM38 10h1v1h-1zM47 10h1v1h-1zM53 10h1v1h-1zM13 11h1v1h-1zM20 12h1v1h-1zM35 12h1v1h-1zM55 12h1v1h-1zM1 13h1v1h-1zM7 13h1v1h-1zM17 13h1v1h-1zM47 13h1v1h-1zM15 14h1v1h-1zM35 14h1v1h-1zM23 15h1v1h-1zM42 15h1v1h-1zM1 17h1v1h-1zM19 17h1v1h-1zM53 17h1v1h-1zM17 18h1v1h-1zM28 18h1v1h-1zM46 18h1v1h-1zM49 18h1v1h-1zM4 19h1v1h-1zM54 19h1v1h-1zM56 19h1v1h-1zM43 20h1v1h-1zM52 20h1v1h-1zM13 21h1v1h-1zM28 21h1v1h-1zM38 21h2v1h-2zM29 22h1v1h-1zM25 23h1v1h-1zM4 24h1v1h-1zM34 24h1v1h-1zM6 25h1v1h-1zM12 26h1v1h-1zM12 27h1v1h-1z"/>
<path fill="#7e3642" d="M36 3h1v1h-1zM48 7h1v1h-1zM41 12h1v1h-1z"/>
<path fill="#8a4242" d="M40 3h1v1h-1zM47 3h1v1h-1zM51 3h1v1h-1zM33 4h1v1h-1zM56 4h2v1h-2zM37 5h1v1h-1zM41 5h1v1h-1zM49 5h1v1h-1zM30 6h1v1h-1zM47 6h1v1h-1zM56 6h1v1h-1zM37 7h1v1h-1zM42 7h1v1h-1zM51 7h1v1h-1zM5 8h1v1h-1zM35 8h1v1h-1zM44 8h1v1h-1zM46 8h1v1h-1zM46 9h1v1h-1zM51 9h1v1h-1zM53 9h1v1h-1zM9 10h1v1h-1zM11 10h1v1h-1zM20 10h1v1h-1zM29 10h1v1h-1zM57 10h1v1h-1zM3 11h1v1h-1zM22 12h1v1h-1zM36 12h1v1h-1zM9 13h1v1h-1zM11 13h2v1h-2zM20 13h1v1h-1zM49 13h1v1h-1zM12 14h1v1h-1zM34 14h1v1h-1zM54 14h1v1h-1zM5 15h1v1h-1zM20 15h1v1h-1zM49 15h1v1h-1zM36 16h1v1h-1zM53 16h1v1h-1zM34 17h1v1h-1zM43 17h1v1h-1zM1 18h1v1h-1zM4 18h1v1h-1zM25 18h1v1h-1zM31 18h1v1h-1zM2 19h1v1h-1zM23 19h1v1h-1zM32 19h1v1h-1zM37 19h1v1h-1zM53 19h1v1h-1zM20 20h1v1h-1zM48 20h1v1h-1zM53 20h1v1h-1zM5 21h1v1h-1zM20 21h1v1h-1zM23 21h1v1h-1zM40 21h1v1h-1zM50 21h2v1h-2zM1 22h1v1h-1zM49 22h2v1h-2zM3 23h1v1h-1zM28 23h1v1h-1zM31 23h1v1h-1zM14 24h1v1h-1zM25 24h1v1h-1zM1 25h1v1h-1zM17 25h1v1h-1zM20 25h1v1h-1zM6 26h1v1h-1z"/>
<path fill="#963636" d="M44 3h1v1h-1zM15 6h1v1h-1zM47 7h1v1h-1zM36 8h1v1h-1zM39 8h1v1h-1zM7 9h1v1h-1zM3 10h1v1h-1zM25 10h1v1h-1zM36 10h1v1h-1zM40 10h1v1h-1zM30 11h1v1h-1zM34 11h2v1h-2zM53 11h1v1h-1zM23 12h1v1h-1zM3 13h1v1h-1zM10 13h1v1h-1zM41 13h1v1h-1zM43 13h1v1h-1zM29 14h1v1h-1zM33 14h1v1h-1zM17 15h1v1h-1zM0 17h1v1h-1zM6 17h1v1h-1zM25 17h1v1h-1zM7 18h1v1h-1zM6 19h1v1h-1zM2 21h1v1h-1zM15 21h1v1h-1zM41 21h1v1h-1zM2 22h1v1h-1zM13 25h1v1h-1z"/>
<path fill="#725a66" d="M49 3h1v1h-1zM33 6h1v1h-1z"/>
<path fill="#725a5a" d="M54 3h1v1h-1zM19 6h1v1h-1zM39 7h1v1h-1zM30 8h1v1h-1zM47 8h1v1h-1zM3 9h1v1h-1zM35 10h1v1h-1zM50 10h1v1h-1zM4 11h1v1h-1zM16 13h1v1h-1zM29 13h1v1h-1zM8 14h2v1h-2zM13 14h1v1h-1zM26 14h1v1h-1zM47 14h1v1h-1zM51 14h1v1h-1zM0 15h2v1h-2zM18 15h1v1h-1zM27 15h1v1h-1zM7 16h1v1h-1zM18 16h1v1h-1zM13 17h1v1h-1zM15 18h1v1h-1zM41 18h1v1h-1zM24 19h1v1h-1zM6 20h2v1h-2zM14 20h1v1h-1zM19 21h1v1h-1zM22 21h1v1h-1zM10 22h1v1h-1zM16 22h1v1h-1zM36 22h1v1h-1zM5 25h1v1h-1zM21 25h2v1h-2zM24 25h1v1h-1zM8 26h1v1h-1zM1 28h1v1h-1z"/>
<path fill="#723636" d="M25 4h1v1h-1zM28 4h1v1h-1zM5 29h1v1h-1z"/>
<path fill="#a23636" d="M31 4h2v1h-2zM30 5h2v1h-2zM17 6h2v1h-2zM26 6h1v1h-1zM10 7h1v1h-1zM30 7h1v1h-1zM6 8h1v1h-1zM14 8h1v1h-1zM19 8h1v1h-1zM11 9h1v1h-1zM16 9h1v1h-1zM22 9h1v1h-1zM10 10h1v1h-1zM16 10h1v1h-1zM7 11h1v1h-1zM15 11h1v1h-1zM9 12h1v1h-1zM17 12h1v1h-1zM0 13h1v1h-1zM21 13h2v1h-2zM19 15h1v1h-1zM8 16h1v1h-1zM9 23h1v1h-1zM10 27h2v1h-2z"/>
<path fill="#8a6666" d="M53 4h1v1h-1zM57 5h1v1h-1zM39 13h1v1h-1zM16 14h1v1h-1zM24 17h1v1h-1zM3 27h1v1h-1z"/>
<path fill="#8a3642" d="M43 5h1v1h-1zM5 23h1v1h-1z"/>
<path fill="#966666" d="M21 6h1v1h-1zM41 7h1v1h-1zM10 21h1v1h-1z"/>
<path fill="#964e4e" d="M31 6h1v1h-1zM25 7h1v1h-1zM45 10h1v1h-1zM40 14h1v1h-1zM54 17h1v1h-1zM50 18h1v1h-1zM1 21h1v1h-1zM6 22h1v1h-1z"/>
<path fill="#7e7272" d="M38 6h1v1h-1zM12 11h1v1h-1zM10 15h1v1h-1zM47 16h1v1h-1zM40 19h1v1h-1zM12 20h1v1h-1zM4 21h1v1h-1z"/>
<path fill="#965a5a" d="M53 6h1v1h-1zM26 10h1v1h-1zM27 13h1v1h-1z"/>
<path fill="#72424e" d="M18 7h1v1h-1zM20 11h1v1h-1zM20 14h1v1h-1zM12 16h1v1h-1z"/>
<path fill="#a24242" d="M19 7h1v1h-1zM24 8h1v1h-1zM22 15h1v1h-1zM31 15h1v1h-1zM29 16h1v1h-1z"/>
<path fill="#963642" d="M21 7h1v1h-1zM1 9h1v1h-1z"/>
<path fill="#5a4e5a" d="M28 7h1v1h-1zM15 8h3v1h-3zM8 9h1v1h-1zM50 17h1v1h-1zM39 18h1v1h-1zM40 20h1v1h-1zM16 21h1v1h-1zM46 21h1v1h-1zM21 22h1v1h-1zM42 22h1v1h-1zM33 24h1v1h-1zM28 25h1v1h-1zM1 26h1v1h-1zM14 26h1v1h-1zM24 26h1v1h-1z"/>
<path fill="#7e4e5a" d="M46 7h1v1h-1zM1 10h1v1h-1zM35 13h1v1h-1zM35 21h1v1h-1z"/>
<path fill="#8a5a66" d="M4 8h1v1h-1zM22 18h1v1h-1z"/>
<path fill="#a22a2a" d="M11 8h1v1h-1z"/>
<path fill="#ae3636" d="M23 8h1v1h-1zM18 9h1v1h-1zM18 12h1v1h-1zM17 14h1v1h-1zM30 15h1v1h-1zM9 27h1v1h-1z"/>
<path fill="#de2a2a" d="M25 8h1v1h-1zM31 14h1v1h-1zM10 23h1v1h-1z"/>
<path fill="#d22a2a" d="M26 8h1v1h-1zM11 23h1v1h-1zM11 26h1v1h-1z"/>
<path fill="#66424e" d="M27 8h1v1h-1zM22 22h1v1h-1zM54 22h1v1h-1z"/>
<path fill="#7e7e7e" d="M20 9h1v1h-1zM26 19h1v1h-1zM19 20h1v1h-1zM21 23h1v1h-1z"/>
<path fill="#724e5a" d="M24 9h1v1h-1zM1 20h1v1h-1z"/>
<path fill="#c63636" d="M25 9h1v1h-1z"/>
<path fill="#4e424e" d="M36 9h1v1h-1zM2 14h1v1h-1zM33 25h1v1h-1zM53 26h1v1h-1zM34 27h1v1h-1zM26 28h1v1h-1zM18 29h1v1h-1zM4 31h1v1h-1zM6 31h1v1h-1zM10 31h1v1h-1zM0 32h1v1h-1zM6 32h1v1h-1z"/>
<path fill="#665a66" d="M33 10h1v1h-1zM50 12h1v1h-1zM17 17h1v1h-1zM42 19h1v1h-1z"/>
<path fill="#664e5a" d="M25 11h1v1h-1zM9 22h1v1h-1z"/>
<path fill="#ba2a2a" d="M31 12h1v1h-1zM29 15h1v1h-1z"/>
<path fill="#c62a2a" d="M19 13h1v1h-1z"/>
<path fill="#ea2a2a" d="M31 13h1v1h-1zM9 25h1v1h-1z"/>
<path fill="#ba3636" d="M32 13h1v1h-1z"/>
<path fill="#8a424e" d="M56 13h1v1h-1zM3 17h1v1h-1z"/>
<path fill="#726672" d="M5 14h1v1h-1z"/>
<path fill="#ae4e4e" d="M30 14h1v1h-1z"/>
<path fill="#c64242" d="M32 14h1v1h-1z"/>
<path fill="#a24e4e" d="M42 14h1v1h-1z"/>
<path fill="#7e6672" d="M38 15h1v1h-1z"/>
<path fill="#8a5a5a" d="M0 16h1v1h-1zM39 20h1v1h-1z"/>
<path fill="#7e424e" d="M9 17h1v1h-1z"/>
<path fill="#5a424e" d="M47 17h1v1h-1zM33 18h1v1h-1z"/>
<path fill="#663642" d="M51 22h1v1h-1z"/>
<path fill="#5a3642" d="M56 22h1v1h-1z"/>
<path fill="#7e6666" d="M38 23h1v1h-1zM16 24h1v1h-1z"/>
<path fill="#422a36" d="M57 23h1v1h-1z"/>
<path fill="#f62a2a" d="M10 24h1v1h-1zM10 25h2v1h-2zM10 26h1v1h-1z"/>
<path fill="#de3636" d="M11 24h1v1h-1z"/>
<path fill="#4e3642" d="M50 24h1v1h-1z"/>
<path fill="#8a7272" d="M8 25h1v1h-1z"/>
<path fill="#ba4242" d="M9 26h1v1h-1z"/>
<path fill="#423642" d="M40 28h1v1h-1zM57 28h1v1h-1zM53 30h1v1h-1zM28 31h1v1h-1zM26 33h1v1h-1zM33 33h1v1h-1zM54 33h1v1h-1zM29 34h1v1h-1zM34 34h1v1h-1zM56 34h1v1h-1z"/>
</g>
</g></g>
<g clip-path="url(#ci1)"><path d="M52 97.4L524 21.3" stroke="#f4f4f4" stroke-width="1.7"/><path d="M52 290.2L524 221.0" stroke="#f4f4f4" stroke-width="1.7"/></g>
<g clip-path="url(#ci2)"><path d="M52 412.5L522.3 343.5" stroke="#f4f4f4" stroke-width="1.7"/><path d="M52 622.6L522.3 556.0" stroke="#f4f4f4" stroke-width="1.7"/></g>
<g clip-path="url(#ci3)"><path d="M52 738.3L522.3 671.1" stroke="#f4f4f4" stroke-width="1.7"/><path d="M52 936.4L522.3 871.5" stroke="#f4f4f4" stroke-width="1.7"/></g>
<path d="M397.5 275.3H497.5M397.5 267V284.2M497.5 267V284.2" stroke="#f4f4f4" stroke-width="2.5"/>
<path d="M397.5 610H497.5M397.5 602.4V617.8M497.5 602.4V617.8" stroke="#f4f4f4" stroke-width="2.5"/>
<path d="M397.5 939H497.5M397.5 930.8V947.1M497.5 930.8V947.1" stroke="#f4f4f4" stroke-width="2.5"/>
<path d="M349.4 580.2L324.3 388.8" stroke="#f4f4f4" stroke-width="1.7"/>
<path d="M322.6 376.1L330.4 388.0L318.1 389.6z" fill="#f4f4f4"/>
<path d="M363.4 885.8L339.6 716.6" stroke="#f4f4f4" stroke-width="1.7"/>
<path d="M337.8 703.9L345.7 715.7L333.4 717.4z" fill="#f4f4f4"/>
<text x="64.8" y="54.2" font-size="31.5" fill="#ececec" textLength="54.5" lengthAdjust="spacingAndGlyphs">Stiff</text>
<text x="64.3" y="272.7" font-size="31.5" fill="#ececec" textLength="56.5" lengthAdjust="spacingAndGlyphs">Soft</text>
<text x="57.8" y="378.8" font-size="31.5" fill="#ececec" textLength="54.5" lengthAdjust="spacingAndGlyphs">Stiff</text>
<text x="57.8" y="610.0" font-size="31.5" fill="#ececec" textLength="56.5" lengthAdjust="spacingAndGlyphs">Soft</text>
<text x="57.8" y="707.1" font-size="31.5" fill="#ececec" textLength="54.5" lengthAdjust="spacingAndGlyphs">Stiff</text>
<text x="57.8" y="926.0" font-size="31.5" fill="#ececec" textLength="56.5" lengthAdjust="spacingAndGlyphs">Soft</text>
<text x="231.5" y="625.7" font-size="31.5" fill="#ececec" textLength="112.5" lengthAdjust="spacingAndGlyphs">Calcium</text>
<text x="203.2" y="948.8" font-size="31.5" fill="#ececec" textLength="164.5" lengthAdjust="spacingAndGlyphs">Phosphorus</text>
</svg>
</body></html>
